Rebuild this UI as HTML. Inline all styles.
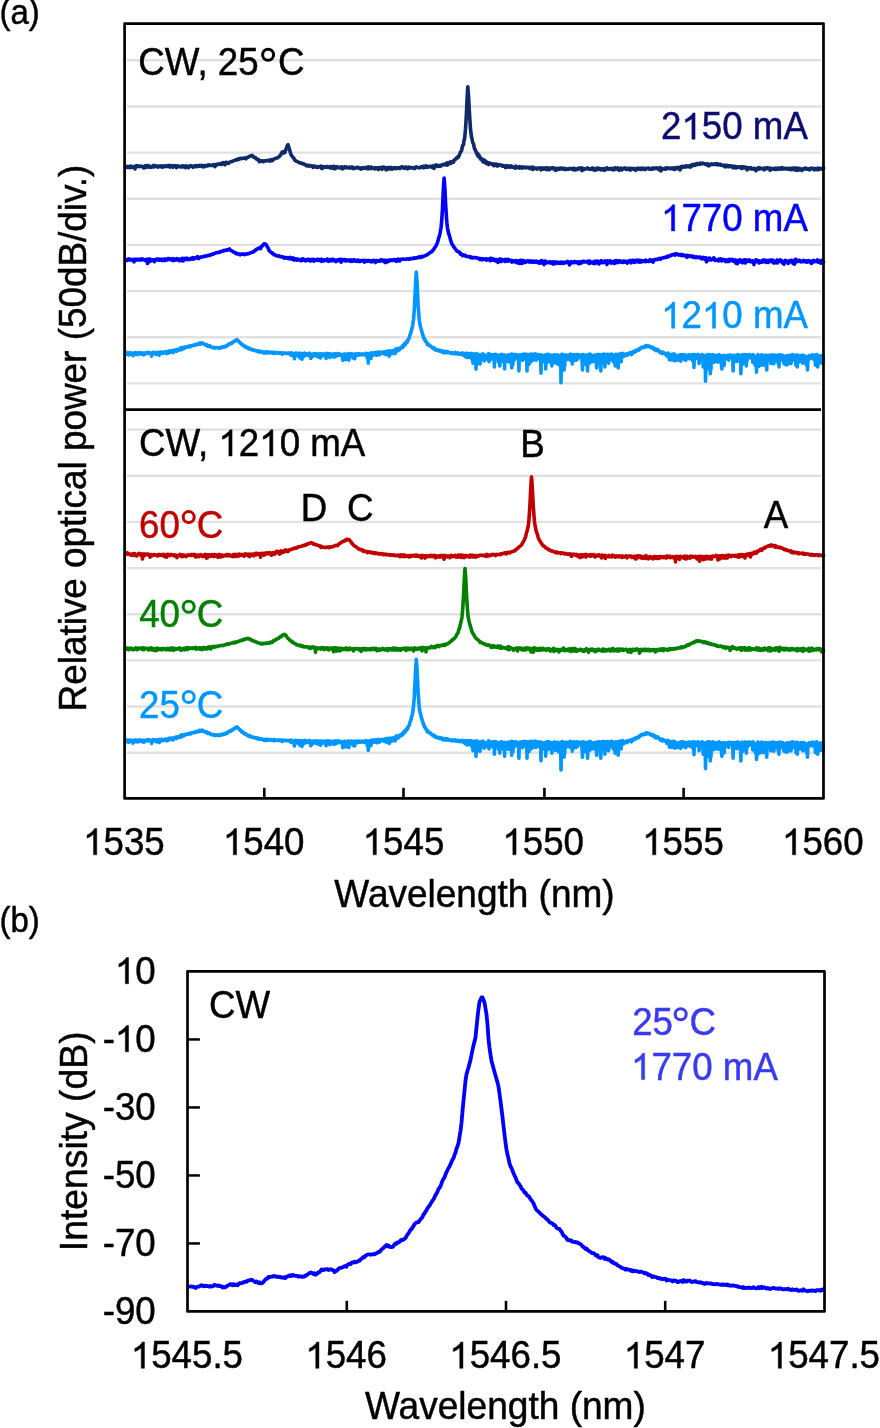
<!DOCTYPE html>
<html><head><meta charset="utf-8"><style>
html,body{margin:0;padding:0;background:#fff;width:880px;height:1428px;overflow:hidden}
svg{display:block;will-change:transform}
text{font-family:"Liberation Sans",sans-serif;stroke-width:0.45px}
</style></head><body>
<svg width="880" height="1428" viewBox="0 0 880 1428">
<rect width="880" height="1428" fill="#fff"/>
<line x1="127" y1="60.3" x2="821" y2="60.3" stroke="#e1e1e1" stroke-width="2.4"/>
<line x1="127" y1="106.5" x2="821" y2="106.5" stroke="#e1e1e1" stroke-width="2.4"/>
<line x1="127" y1="152.6" x2="821" y2="152.6" stroke="#e1e1e1" stroke-width="2.4"/>
<line x1="127" y1="198.8" x2="821" y2="198.8" stroke="#e1e1e1" stroke-width="2.4"/>
<line x1="127" y1="244.9" x2="821" y2="244.9" stroke="#e1e1e1" stroke-width="2.4"/>
<line x1="127" y1="291.1" x2="821" y2="291.1" stroke="#e1e1e1" stroke-width="2.4"/>
<line x1="127" y1="337.3" x2="821" y2="337.3" stroke="#e1e1e1" stroke-width="2.4"/>
<line x1="127" y1="383.4" x2="821" y2="383.4" stroke="#e1e1e1" stroke-width="2.4"/>
<line x1="127" y1="429.6" x2="821" y2="429.6" stroke="#e1e1e1" stroke-width="2.4"/>
<line x1="127" y1="475.7" x2="821" y2="475.7" stroke="#e1e1e1" stroke-width="2.4"/>
<line x1="127" y1="521.9" x2="821" y2="521.9" stroke="#e1e1e1" stroke-width="2.4"/>
<line x1="127" y1="568.1" x2="821" y2="568.1" stroke="#e1e1e1" stroke-width="2.4"/>
<line x1="127" y1="614.2" x2="821" y2="614.2" stroke="#e1e1e1" stroke-width="2.4"/>
<line x1="127" y1="660.4" x2="821" y2="660.4" stroke="#e1e1e1" stroke-width="2.4"/>
<line x1="127" y1="706.5" x2="821" y2="706.5" stroke="#e1e1e1" stroke-width="2.4"/>
<line x1="127" y1="752.7" x2="821" y2="752.7" stroke="#e1e1e1" stroke-width="2.4"/>
<path d="M125.5 166.6 L126.0 167.1 L126.5 167.5 L127.0 167.2 L127.5 166.5 L128.0 167.0 L128.5 167.4 L129.0 166.6 L129.5 167.4 L130.0 166.2 L130.5 167.6 L131.0 167.5 L131.5 166.8 L132.0 166.4 L132.5 167.3 L133.0 166.7 L133.5 167.0 L134.0 167.6 L134.5 166.8 L135.0 168.9 L135.5 166.1 L136.0 165.8 L136.5 166.6 L137.0 166.6 L137.5 165.7 L138.0 166.0 L138.5 166.3 L139.0 166.0 L139.5 166.6 L140.0 166.4 L140.5 166.5 L141.0 166.2 L141.5 166.1 L142.0 166.8 L142.5 166.9 L143.0 166.8 L143.5 166.7 L144.0 168.0 L144.5 166.2 L145.0 165.9 L145.5 166.5 L146.0 166.3 L146.5 167.2 L147.0 165.6 L147.5 166.2 L148.0 167.0 L148.5 165.7 L149.0 166.3 L149.5 166.3 L150.0 167.2 L150.5 166.8 L151.0 167.4 L151.5 167.2 L152.0 167.0 L152.5 166.3 L153.0 165.6 L153.5 166.8 L154.0 166.3 L154.5 165.5 L155.0 166.6 L155.5 166.2 L156.0 166.4 L156.5 166.0 L157.0 166.1 L157.5 166.1 L158.0 167.2 L158.5 166.7 L159.0 166.0 L159.5 166.2 L160.0 166.2 L160.5 166.6 L161.0 166.2 L161.5 165.9 L162.0 166.4 L162.5 167.2 L163.0 167.0 L163.5 165.8 L164.0 166.7 L164.5 166.5 L165.0 166.2 L165.5 166.0 L166.0 166.5 L166.5 165.6 L167.0 166.2 L167.5 166.4 L168.0 166.4 L168.5 166.1 L169.0 165.5 L169.5 166.2 L170.0 167.1 L170.5 166.8 L171.0 165.5 L171.5 166.4 L172.0 166.2 L172.5 166.5 L173.0 167.3 L173.5 165.8 L174.0 166.4 L174.5 166.3 L175.0 166.0 L175.5 165.7 L176.0 166.1 L176.5 167.6 L177.0 166.1 L177.5 165.9 L178.0 165.8 L178.5 166.3 L179.0 166.7 L179.5 166.5 L180.0 166.7 L180.5 167.0 L181.0 166.3 L181.5 166.9 L182.0 166.0 L182.5 166.1 L183.0 165.9 L183.5 166.9 L184.0 166.9 L184.5 166.3 L185.0 166.3 L185.5 167.6 L186.0 165.9 L186.5 166.3 L187.0 166.9 L187.5 166.2 L188.0 166.4 L188.5 167.7 L189.0 166.9 L189.5 166.3 L190.0 166.5 L190.5 165.6 L191.0 165.7 L191.5 166.2 L192.0 166.0 L192.5 166.7 L193.0 167.2 L193.5 166.4 L194.0 166.2 L194.5 166.7 L195.0 165.8 L195.5 166.3 L196.0 165.6 L196.5 165.9 L197.0 166.5 L197.5 165.7 L198.0 165.8 L198.5 166.2 L199.0 166.2 L199.5 165.4 L200.0 165.6 L200.5 165.8 L201.0 165.9 L201.5 166.4 L202.0 165.3 L202.5 166.7 L203.0 166.5 L203.5 165.8 L204.0 166.8 L204.5 166.6 L205.0 165.6 L205.5 165.5 L206.0 165.9 L206.5 165.5 L207.0 165.5 L207.5 166.0 L208.0 165.8 L208.5 164.8 L209.0 165.0 L209.5 165.3 L210.0 165.0 L210.5 165.4 L211.0 165.6 L211.5 165.2 L212.0 165.4 L212.5 165.1 L213.0 165.4 L213.5 164.7 L214.0 164.6 L214.5 165.7 L215.0 166.6 L215.5 165.4 L216.0 164.6 L216.5 164.6 L217.0 164.8 L217.5 164.1 L218.0 164.5 L218.5 164.1 L219.0 163.9 L219.5 164.2 L220.0 164.1 L220.5 163.9 L221.0 163.5 L221.5 164.5 L222.0 164.2 L222.5 163.1 L223.0 163.6 L223.5 162.7 L224.0 163.9 L224.5 163.0 L225.0 164.8 L225.5 163.6 L226.0 162.3 L226.5 163.2 L227.0 163.1 L227.5 162.6 L228.0 163.1 L228.5 163.4 L229.0 162.7 L229.5 162.3 L230.0 162.0 L230.5 161.8 L231.0 161.8 L231.5 161.7 L232.0 161.7 L232.5 161.0 L233.0 161.1 L233.5 160.7 L234.0 160.7 L234.5 160.3 L235.0 160.1 L235.5 160.2 L236.0 160.2 L236.5 159.6 L237.0 159.7 L237.5 159.8 L238.0 159.1 L238.5 159.6 L239.0 158.8 L239.5 158.8 L240.0 158.6 L240.5 158.3 L241.0 158.7 L241.5 158.6 L242.0 158.2 L242.5 158.3 L243.0 158.4 L243.5 158.2 L244.0 158.3 L244.5 157.9 L245.0 158.0 L245.5 158.1 L246.0 158.8 L246.5 158.0 L247.0 157.5 L247.5 157.4 L248.0 157.3 L248.5 156.9 L249.0 156.6 L249.5 156.5 L250.0 156.4 L250.5 155.8 L251.0 155.8 L251.5 155.7 L252.0 155.3 L252.5 155.9 L253.0 156.2 L253.5 157.1 L254.0 157.0 L254.5 157.3 L255.0 157.6 L255.5 157.6 L256.0 158.7 L256.5 159.1 L257.0 159.0 L257.5 159.6 L258.0 159.9 L258.5 159.5 L259.0 160.5 L259.5 161.7 L260.0 160.7 L260.5 160.8 L261.0 160.8 L261.5 161.2 L262.0 161.1 L262.5 161.4 L263.0 161.0 L263.5 161.6 L264.0 161.1 L264.5 160.8 L265.0 161.0 L265.5 161.0 L266.0 160.9 L266.5 160.5 L267.0 160.7 L267.5 160.4 L268.0 160.7 L268.5 160.4 L269.0 160.3 L269.5 160.4 L270.0 161.0 L270.5 159.9 L271.0 159.6 L271.5 159.9 L272.0 159.9 L272.5 160.6 L273.0 159.4 L273.5 159.2 L274.0 159.1 L274.5 158.8 L275.0 158.7 L275.5 158.5 L276.0 158.0 L276.5 158.0 L277.0 158.0 L277.5 157.8 L278.0 157.7 L278.5 157.1 L279.0 156.6 L279.5 156.5 L280.0 155.6 L280.5 155.2 L281.0 154.0 L281.5 153.6 L282.0 152.3 L282.5 151.8 L283.0 151.7 L283.5 152.2 L284.0 153.0 L284.5 152.7 L285.0 152.2 L285.5 150.5 L286.0 149.3 L286.5 148.0 L287.0 146.4 L287.5 145.1 L288.0 144.7 L288.5 146.1 L289.0 147.7 L289.5 149.6 L290.0 151.2 L290.5 153.0 L291.0 154.8 L291.5 155.3 L292.0 156.0 L292.5 156.9 L293.0 157.1 L293.5 157.9 L294.0 158.7 L294.5 159.3 L295.0 160.4 L295.5 160.6 L296.0 161.1 L296.5 161.3 L297.0 161.4 L297.5 161.7 L298.0 161.9 L298.5 162.2 L299.0 162.2 L299.5 162.8 L300.0 162.9 L300.5 163.0 L301.0 162.9 L301.5 163.4 L302.0 163.5 L302.5 163.6 L303.0 164.0 L303.5 163.7 L304.0 164.1 L304.5 164.4 L305.0 164.8 L305.5 164.8 L306.0 165.0 L306.5 165.8 L307.0 165.2 L307.5 165.3 L308.0 165.4 L308.5 166.0 L309.0 165.5 L309.5 165.9 L310.0 165.3 L310.5 166.0 L311.0 166.2 L311.5 166.0 L312.0 165.8 L312.5 166.2 L313.0 167.4 L313.5 166.2 L314.0 166.8 L314.5 166.7 L315.0 166.2 L315.5 167.0 L316.0 167.1 L316.5 167.3 L317.0 166.6 L317.5 167.2 L318.0 167.4 L318.5 167.0 L319.0 166.7 L319.5 166.6 L320.0 166.6 L320.5 167.0 L321.0 166.1 L321.5 168.3 L322.0 166.6 L322.5 168.4 L323.0 167.4 L323.5 166.9 L324.0 166.8 L324.5 166.8 L325.0 166.8 L325.5 167.3 L326.0 167.3 L326.5 166.6 L327.0 167.3 L327.5 166.6 L328.0 166.7 L328.5 167.1 L329.0 167.3 L329.5 167.6 L330.0 167.8 L330.5 166.6 L331.0 167.0 L331.5 166.9 L332.0 168.1 L332.5 166.5 L333.0 167.9 L333.5 167.4 L334.0 166.4 L334.5 168.9 L335.0 166.9 L335.5 166.9 L336.0 167.6 L336.5 168.0 L337.0 167.3 L337.5 166.7 L338.0 167.2 L338.5 167.6 L339.0 167.7 L339.5 168.0 L340.0 167.9 L340.5 167.6 L341.0 166.8 L341.5 167.4 L342.0 166.9 L342.5 169.0 L343.0 168.0 L343.5 167.8 L344.0 167.2 L344.5 167.8 L345.0 166.8 L345.5 167.5 L346.0 167.6 L346.5 167.0 L347.0 167.6 L347.5 167.6 L348.0 167.6 L348.5 167.7 L349.0 168.0 L349.5 167.1 L350.0 167.6 L350.5 167.6 L351.0 167.9 L351.5 167.7 L352.0 166.9 L352.5 167.5 L353.0 168.6 L353.5 167.7 L354.0 168.5 L354.5 168.4 L355.0 168.3 L355.5 167.8 L356.0 167.5 L356.5 167.9 L357.0 167.7 L357.5 167.2 L358.0 167.3 L358.5 167.8 L359.0 168.5 L359.5 168.4 L360.0 168.3 L360.5 167.9 L361.0 169.1 L361.5 168.3 L362.0 168.1 L362.5 168.5 L363.0 167.6 L363.5 167.9 L364.0 168.1 L364.5 168.3 L365.0 167.6 L365.5 167.8 L366.0 167.6 L366.5 167.4 L367.0 168.7 L367.5 168.1 L368.0 167.0 L368.5 168.8 L369.0 167.0 L369.5 167.7 L370.0 167.9 L370.5 167.5 L371.0 168.6 L371.5 167.2 L372.0 167.9 L372.5 167.8 L373.0 168.3 L373.5 168.7 L374.0 168.2 L374.5 168.8 L375.0 167.6 L375.5 168.4 L376.0 167.9 L376.5 168.6 L377.0 167.8 L377.5 168.2 L378.0 167.9 L378.5 169.6 L379.0 167.5 L379.5 168.5 L380.0 167.9 L380.5 167.9 L381.0 168.0 L381.5 167.9 L382.0 169.3 L382.5 167.2 L383.0 167.9 L383.5 167.2 L384.0 167.9 L384.5 167.3 L385.0 168.1 L385.5 168.3 L386.0 169.8 L386.5 167.9 L387.0 169.5 L387.5 169.5 L388.0 167.5 L388.5 167.9 L389.0 167.6 L389.5 167.8 L390.0 168.3 L390.5 169.0 L391.0 167.4 L391.5 168.5 L392.0 168.3 L392.5 169.0 L393.0 168.1 L393.5 168.6 L394.0 167.7 L394.5 167.7 L395.0 167.7 L395.5 167.8 L396.0 168.7 L396.5 167.9 L397.0 167.8 L397.5 168.2 L398.0 168.2 L398.5 168.4 L399.0 167.7 L399.5 168.2 L400.0 168.5 L400.5 168.0 L401.0 167.2 L401.5 167.8 L402.0 167.5 L402.5 166.7 L403.0 167.2 L403.5 167.5 L404.0 168.3 L404.5 167.5 L405.0 167.4 L405.5 167.1 L406.0 168.2 L406.5 167.2 L407.0 167.2 L407.5 168.8 L408.0 168.0 L408.5 167.9 L409.0 167.1 L409.5 168.1 L410.0 167.6 L410.5 167.5 L411.0 167.6 L411.5 167.6 L412.0 168.0 L412.5 168.0 L413.0 167.8 L413.5 167.8 L414.0 167.7 L414.5 168.6 L415.0 167.7 L415.5 167.1 L416.0 167.5 L416.5 166.9 L417.0 167.3 L417.5 167.3 L418.0 167.5 L418.5 167.5 L419.0 167.8 L419.5 168.0 L420.0 167.7 L420.5 167.1 L421.0 166.8 L421.5 167.3 L422.0 167.1 L422.5 166.5 L423.0 167.6 L423.5 167.4 L424.0 167.6 L424.5 166.1 L425.0 166.6 L425.5 167.2 L426.0 166.8 L426.5 165.9 L427.0 167.3 L427.5 167.1 L428.0 167.2 L428.5 167.0 L429.0 166.5 L429.5 166.8 L430.0 166.4 L430.5 166.4 L431.0 166.2 L431.5 166.5 L432.0 167.3 L432.5 166.1 L433.0 166.8 L433.5 166.0 L434.0 168.4 L434.5 166.1 L435.0 166.3 L435.5 165.2 L436.0 164.9 L436.5 166.0 L437.0 166.3 L437.5 165.7 L438.0 166.4 L438.5 165.6 L439.0 165.5 L439.5 165.8 L440.0 166.4 L440.5 165.2 L441.0 165.2 L441.5 165.7 L442.0 165.0 L442.5 164.8 L443.0 164.4 L443.5 164.5 L444.0 164.8 L444.5 164.6 L445.0 164.2 L445.5 164.8 L446.0 164.2 L446.5 163.5 L447.0 162.8 L447.5 165.1 L448.0 163.8 L448.5 163.5 L449.0 163.0 L449.5 162.5 L450.0 163.5 L450.5 161.8 L451.0 163.4 L451.5 162.4 L452.0 162.1 L452.5 161.7 L453.0 161.3 L453.5 162.1 L454.0 160.0 L454.5 159.9 L455.0 159.6 L455.5 159.6 L456.0 158.4 L456.5 158.4 L457.0 157.4 L457.5 156.8 L458.0 157.7 L458.5 156.5 L459.0 156.0 L459.5 154.5 L460.0 153.5 L460.5 151.9 L461.0 151.4 L461.5 150.7 L462.0 148.8 L462.5 145.9 L463.0 144.8 L463.5 144.8 L464.0 140.5 L464.5 139.2 L465.0 134.5 L465.5 128.9 L466.0 121.3 L466.5 111.7 L467.0 100.3 L467.5 90.8 L467.8 86.8 L468.5 95.7 L469.0 104.6 L469.5 113.9 L470.0 121.6 L470.5 129.3 L471.0 133.3 L471.5 137.1 L472.0 138.6 L472.5 141.5 L473.0 143.0 L473.5 143.7 L474.0 146.3 L474.5 148.7 L475.0 149.4 L475.5 150.4 L476.0 151.5 L476.5 153.3 L477.0 152.9 L477.5 155.3 L478.0 153.9 L478.5 156.7 L479.0 155.3 L479.5 156.4 L480.0 157.2 L480.5 158.9 L481.0 158.2 L481.5 159.8 L482.0 159.0 L482.5 159.4 L483.0 162.0 L483.5 159.8 L484.0 160.1 L484.5 160.4 L485.0 160.5 L485.5 161.4 L486.0 163.3 L486.5 162.0 L487.0 162.2 L487.5 163.7 L488.0 162.6 L488.5 164.6 L489.0 163.8 L489.5 163.0 L490.0 163.2 L490.5 163.6 L491.0 163.5 L491.5 164.1 L492.0 163.8 L492.5 164.0 L493.0 165.0 L493.5 163.9 L494.0 165.7 L494.5 165.5 L495.0 164.6 L495.5 164.4 L496.0 164.1 L496.5 164.4 L497.0 166.0 L497.5 164.7 L498.0 165.9 L498.5 165.4 L499.0 165.0 L499.5 164.7 L500.0 165.2 L500.5 165.2 L501.0 165.3 L501.5 165.0 L502.0 165.4 L502.5 166.2 L503.0 165.6 L503.5 165.5 L504.0 166.1 L504.5 166.4 L505.0 166.7 L505.5 167.6 L506.0 166.8 L506.5 165.6 L507.0 166.7 L507.5 166.6 L508.0 167.2 L508.5 166.5 L509.0 166.0 L509.5 166.4 L510.0 166.4 L510.5 167.3 L511.0 166.9 L511.5 166.0 L512.0 166.5 L512.5 167.2 L513.0 167.2 L513.5 167.0 L514.0 167.6 L514.5 167.2 L515.0 167.5 L515.5 168.2 L516.0 166.2 L516.5 167.3 L517.0 167.6 L517.5 167.2 L518.0 167.3 L518.5 167.2 L519.0 166.7 L519.5 168.1 L520.0 166.8 L520.5 167.7 L521.0 167.4 L521.5 167.1 L522.0 168.1 L522.5 167.5 L523.0 167.1 L523.5 167.1 L524.0 167.7 L524.5 167.1 L525.0 167.3 L525.5 167.6 L526.0 167.8 L526.5 167.1 L527.0 167.7 L527.5 167.7 L528.0 167.6 L528.5 167.7 L529.0 167.3 L529.5 168.4 L530.0 168.1 L530.5 167.6 L531.0 168.6 L531.5 168.6 L532.0 167.2 L532.5 168.2 L533.0 169.5 L533.5 168.5 L534.0 167.5 L534.5 168.3 L535.0 168.5 L535.5 168.5 L536.0 168.4 L536.5 168.2 L537.0 169.1 L537.5 168.7 L538.0 168.7 L538.5 168.5 L539.0 168.0 L539.5 168.6 L540.0 167.9 L540.5 168.6 L541.0 169.8 L541.5 168.8 L542.0 168.2 L542.5 167.9 L543.0 168.0 L543.5 168.0 L544.0 169.2 L544.5 168.6 L545.0 168.9 L545.5 167.8 L546.0 168.7 L546.5 168.5 L547.0 169.7 L547.5 167.8 L548.0 168.5 L548.5 168.5 L549.0 168.3 L549.5 169.7 L550.0 168.7 L550.5 168.1 L551.0 168.1 L551.5 167.9 L552.0 167.8 L552.5 168.7 L553.0 168.7 L553.5 168.0 L554.0 168.4 L554.5 168.1 L555.0 168.9 L555.5 170.4 L556.0 169.4 L556.5 168.9 L557.0 168.4 L557.5 169.6 L558.0 168.6 L558.5 168.6 L559.0 169.3 L559.5 168.4 L560.0 168.4 L560.5 168.9 L561.0 168.2 L561.5 168.9 L562.0 168.1 L562.5 168.9 L563.0 169.0 L563.5 168.3 L564.0 168.8 L564.5 169.5 L565.0 169.3 L565.5 169.7 L566.0 168.5 L566.5 169.0 L567.0 169.0 L567.5 169.2 L568.0 169.0 L568.5 169.2 L569.0 169.2 L569.5 168.5 L570.0 168.4 L570.5 168.6 L571.0 168.8 L571.5 168.7 L572.0 169.2 L572.5 169.5 L573.0 168.7 L573.5 168.1 L574.0 168.7 L574.5 169.1 L575.0 170.0 L575.5 168.7 L576.0 168.7 L576.5 169.2 L577.0 169.6 L577.5 169.0 L578.0 169.2 L578.5 168.2 L579.0 168.7 L579.5 168.2 L580.0 168.5 L580.5 168.9 L581.0 169.0 L581.5 167.8 L582.0 170.6 L582.5 169.1 L583.0 168.5 L583.5 169.0 L584.0 169.5 L584.5 168.9 L585.0 168.8 L585.5 168.7 L586.0 169.0 L586.5 168.6 L587.0 168.5 L587.5 168.0 L588.0 168.4 L588.5 168.6 L589.0 169.3 L589.5 169.3 L590.0 168.8 L590.5 168.8 L591.0 169.1 L591.5 168.4 L592.0 169.4 L592.5 168.2 L593.0 168.6 L593.5 168.4 L594.0 170.0 L594.5 170.3 L595.0 168.8 L595.5 169.3 L596.0 168.6 L596.5 169.7 L597.0 169.8 L597.5 168.1 L598.0 168.5 L598.5 168.9 L599.0 168.3 L599.5 168.3 L600.0 169.5 L600.5 169.8 L601.0 168.9 L601.5 169.6 L602.0 169.1 L602.5 169.8 L603.0 169.0 L603.5 169.3 L604.0 168.7 L604.5 170.3 L605.0 169.0 L605.5 168.4 L606.0 169.5 L606.5 168.2 L607.0 167.9 L607.5 169.0 L608.0 168.6 L608.5 169.2 L609.0 169.1 L609.5 169.2 L610.0 169.0 L610.5 168.3 L611.0 168.6 L611.5 168.9 L612.0 169.5 L612.5 169.5 L613.0 168.5 L613.5 169.9 L614.0 168.9 L614.5 168.6 L615.0 167.9 L615.5 169.3 L616.0 168.1 L616.5 168.4 L617.0 168.5 L617.5 169.1 L618.0 167.9 L618.5 169.7 L619.0 170.2 L619.5 169.0 L620.0 169.7 L620.5 168.4 L621.0 168.2 L621.5 168.8 L622.0 169.9 L622.5 169.2 L623.0 168.5 L623.5 168.7 L624.0 168.5 L624.5 167.9 L625.0 168.2 L625.5 168.2 L626.0 169.4 L626.5 168.3 L627.0 169.5 L627.5 168.6 L628.0 169.0 L628.5 169.3 L629.0 168.3 L629.5 169.2 L630.0 169.9 L630.5 168.3 L631.0 169.9 L631.5 168.9 L632.0 169.1 L632.5 168.4 L633.0 168.9 L633.5 168.7 L634.0 169.2 L634.5 168.5 L635.0 168.7 L635.5 170.3 L636.0 169.6 L636.5 169.2 L637.0 168.9 L637.5 168.2 L638.0 169.3 L638.5 168.8 L639.0 168.7 L639.5 168.3 L640.0 168.5 L640.5 169.4 L641.0 168.4 L641.5 168.1 L642.0 168.2 L642.5 168.3 L643.0 169.3 L643.5 168.3 L644.0 168.3 L644.5 169.2 L645.0 168.8 L645.5 169.5 L646.0 168.5 L646.5 168.8 L647.0 168.5 L647.5 168.4 L648.0 168.2 L648.5 168.0 L649.0 168.6 L649.5 169.3 L650.0 169.1 L650.5 169.3 L651.0 168.8 L651.5 168.8 L652.0 168.2 L652.5 169.2 L653.0 168.1 L653.5 168.0 L654.0 168.7 L654.5 168.7 L655.0 168.0 L655.5 168.0 L656.0 168.3 L656.5 167.9 L657.0 168.4 L657.5 168.6 L658.0 169.1 L658.5 168.1 L659.0 169.6 L659.5 168.6 L660.0 168.5 L660.5 167.6 L661.0 170.9 L661.5 168.6 L662.0 169.5 L662.5 168.8 L663.0 168.7 L663.5 168.8 L664.0 168.9 L664.5 168.4 L665.0 168.2 L665.5 169.2 L666.0 168.4 L666.5 167.9 L667.0 168.8 L667.5 167.9 L668.0 168.5 L668.5 168.5 L669.0 168.3 L669.5 168.3 L670.0 168.4 L670.5 167.9 L671.0 168.8 L671.5 168.3 L672.0 168.5 L672.5 168.3 L673.0 167.9 L673.5 169.3 L674.0 169.4 L674.5 168.3 L675.0 168.2 L675.5 169.0 L676.0 167.5 L676.5 167.9 L677.0 168.7 L677.5 168.5 L678.0 168.0 L678.5 167.3 L679.0 167.8 L679.5 168.3 L680.0 170.0 L680.5 167.4 L681.0 166.6 L681.5 168.0 L682.0 167.0 L682.5 167.0 L683.0 166.2 L683.5 166.9 L684.0 166.9 L684.5 166.9 L685.0 167.2 L685.5 166.9 L686.0 165.8 L686.5 165.8 L687.0 166.0 L687.5 166.4 L688.0 166.8 L688.5 166.3 L689.0 165.7 L689.5 165.7 L690.0 166.1 L690.5 167.1 L691.0 165.3 L691.5 165.2 L692.0 164.6 L692.5 165.9 L693.0 164.7 L693.5 164.3 L694.0 164.6 L694.5 164.9 L695.0 165.3 L695.5 164.2 L696.0 164.9 L696.5 164.6 L697.0 163.5 L697.5 164.2 L698.0 164.0 L698.5 164.0 L699.0 164.3 L699.5 163.8 L700.0 163.2 L700.5 164.0 L701.0 163.4 L701.5 163.5 L702.0 163.8 L702.5 163.2 L703.0 163.4 L703.5 163.4 L704.0 163.6 L704.5 163.8 L705.0 163.7 L705.5 164.4 L706.0 163.8 L706.5 164.7 L707.0 164.4 L707.5 165.0 L708.0 163.8 L708.5 164.3 L709.0 165.9 L709.5 164.8 L710.0 164.6 L710.5 164.7 L711.0 164.5 L711.5 163.8 L712.0 164.2 L712.5 164.5 L713.0 164.3 L713.5 164.7 L714.0 164.0 L714.5 163.9 L715.0 164.2 L715.5 164.2 L716.0 163.7 L716.5 164.6 L717.0 163.8 L717.5 163.9 L718.0 164.8 L718.5 164.1 L719.0 164.3 L719.5 164.2 L720.0 164.4 L720.5 165.1 L721.0 164.4 L721.5 164.8 L722.0 165.4 L722.5 165.3 L723.0 165.4 L723.5 165.7 L724.0 165.5 L724.5 166.6 L725.0 165.2 L725.5 166.8 L726.0 165.5 L726.5 165.3 L727.0 165.3 L727.5 166.5 L728.0 165.9 L728.5 166.7 L729.0 165.8 L729.5 165.9 L730.0 165.8 L730.5 166.7 L731.0 165.8 L731.5 166.2 L732.0 166.0 L732.5 166.3 L733.0 167.6 L733.5 167.0 L734.0 166.4 L734.5 167.8 L735.0 166.5 L735.5 167.1 L736.0 166.6 L736.5 167.9 L737.0 167.0 L737.5 167.2 L738.0 166.8 L738.5 167.2 L739.0 166.9 L739.5 167.3 L740.0 167.7 L740.5 167.9 L741.0 166.8 L741.5 168.0 L742.0 168.5 L742.5 166.7 L743.0 167.5 L743.5 168.0 L744.0 167.8 L744.5 167.0 L745.0 167.5 L745.5 167.7 L746.0 167.8 L746.5 167.5 L747.0 169.9 L747.5 167.8 L748.0 167.9 L748.5 167.8 L749.0 168.3 L749.5 168.4 L750.0 167.9 L750.5 168.6 L751.0 167.7 L751.5 169.0 L752.0 168.5 L752.5 168.9 L753.0 168.7 L753.5 168.5 L754.0 169.1 L754.5 168.4 L755.0 168.6 L755.5 168.8 L756.0 170.8 L756.5 169.3 L757.0 169.6 L757.5 168.4 L758.0 168.7 L758.5 167.6 L759.0 168.0 L759.5 169.0 L760.0 168.4 L760.5 168.0 L761.0 168.4 L761.5 168.7 L762.0 168.6 L762.5 168.5 L763.0 168.4 L763.5 168.8 L764.0 169.8 L764.5 168.6 L765.0 167.9 L765.5 168.6 L766.0 168.8 L766.5 168.0 L767.0 167.7 L767.5 168.5 L768.0 168.3 L768.5 168.3 L769.0 168.6 L769.5 168.1 L770.0 170.4 L770.5 168.4 L771.0 168.2 L771.5 168.5 L772.0 168.6 L772.5 169.2 L773.0 169.0 L773.5 168.6 L774.0 168.8 L774.5 169.4 L775.0 168.6 L775.5 168.1 L776.0 169.3 L776.5 168.4 L777.0 169.2 L777.5 169.4 L778.0 168.5 L778.5 168.8 L779.0 168.6 L779.5 168.0 L780.0 169.1 L780.5 169.1 L781.0 169.2 L781.5 168.8 L782.0 167.7 L782.5 168.8 L783.0 169.0 L783.5 168.4 L784.0 168.4 L784.5 168.3 L785.0 168.8 L785.5 168.3 L786.0 168.6 L786.5 169.0 L787.0 169.1 L787.5 168.3 L788.0 168.5 L788.5 168.6 L789.0 168.4 L789.5 169.5 L790.0 168.5 L790.5 168.6 L791.0 169.6 L791.5 169.7 L792.0 168.1 L792.5 168.0 L793.0 168.2 L793.5 168.6 L794.0 169.0 L794.5 169.9 L795.0 168.8 L795.5 168.0 L796.0 168.4 L796.5 170.2 L797.0 168.7 L797.5 168.1 L798.0 170.3 L798.5 169.1 L799.0 169.3 L799.5 168.4 L800.0 169.6 L800.5 169.3 L801.0 169.3 L801.5 169.3 L802.0 170.5 L802.5 169.1 L803.0 168.7 L803.5 168.8 L804.0 168.4 L804.5 168.5 L805.0 169.1 L805.5 168.1 L806.0 168.7 L806.5 168.6 L807.0 168.5 L807.5 169.3 L808.0 169.2 L808.5 168.8 L809.0 169.5 L809.5 169.9 L810.0 168.5 L810.5 168.6 L811.0 168.4 L811.5 168.2 L812.0 168.8 L812.5 168.9 L813.0 168.7 L813.5 168.9 L814.0 168.4 L814.5 169.8 L815.0 168.6 L815.5 168.8 L816.0 168.6 L816.5 169.3 L817.0 169.7 L817.5 169.3 L818.0 168.1 L818.5 169.7 L819.0 168.6 L819.5 168.3 L820.0 168.8 L820.5 168.7 L821.0 169.0 L821.5 168.5 L822.0 169.0 L822.5 168.6 L823.0 169.0 L823.5 168.1" fill="none" stroke="#0e2a68" stroke-width="3.6" stroke-linejoin="round" stroke-linecap="round"/>
<path d="M125.5 260.6 L126.0 259.8 L126.5 260.2 L127.0 260.1 L127.5 260.4 L128.0 259.2 L128.5 259.4 L129.0 258.9 L129.5 259.3 L130.0 259.8 L130.5 259.3 L131.0 260.2 L131.5 259.9 L132.0 259.5 L132.5 259.4 L133.0 260.0 L133.5 259.9 L134.0 261.8 L134.5 259.3 L135.0 260.5 L135.5 260.2 L136.0 259.3 L136.5 259.3 L137.0 259.4 L137.5 260.0 L138.0 259.8 L138.5 259.2 L139.0 259.3 L139.5 259.9 L140.0 259.1 L140.5 260.0 L141.0 259.5 L141.5 259.4 L142.0 258.9 L142.5 259.6 L143.0 259.2 L143.5 259.7 L144.0 259.7 L144.5 259.9 L145.0 260.4 L145.5 259.7 L146.0 259.3 L146.5 260.4 L147.0 259.7 L147.5 263.5 L148.0 260.0 L148.5 259.8 L149.0 259.0 L149.5 259.4 L150.0 261.4 L150.5 259.4 L151.0 260.9 L151.5 260.5 L152.0 259.7 L152.5 260.0 L153.0 259.9 L153.5 260.6 L154.0 260.0 L154.5 261.7 L155.0 260.8 L155.5 259.6 L156.0 259.3 L156.5 259.7 L157.0 259.0 L157.5 259.0 L158.0 259.4 L158.5 260.1 L159.0 259.8 L159.5 259.1 L160.0 260.1 L160.5 259.7 L161.0 259.4 L161.5 259.2 L162.0 259.8 L162.5 260.5 L163.0 260.1 L163.5 260.1 L164.0 259.4 L164.5 258.9 L165.0 260.6 L165.5 259.6 L166.0 259.4 L166.5 259.4 L167.0 259.9 L167.5 259.6 L168.0 258.5 L168.5 258.9 L169.0 259.4 L169.5 259.3 L170.0 258.6 L170.5 259.7 L171.0 259.2 L171.5 259.7 L172.0 259.6 L172.5 260.5 L173.0 258.7 L173.5 259.4 L174.0 260.4 L174.5 259.0 L175.0 260.1 L175.5 259.2 L176.0 259.2 L176.5 259.9 L177.0 258.7 L177.5 259.2 L178.0 259.8 L178.5 259.2 L179.0 260.7 L179.5 260.1 L180.0 259.1 L180.5 260.1 L181.0 260.5 L181.5 259.1 L182.0 260.4 L182.5 258.3 L183.0 261.0 L183.5 259.1 L184.0 260.0 L184.5 259.1 L185.0 258.5 L185.5 259.5 L186.0 259.3 L186.5 258.5 L187.0 258.2 L187.5 259.6 L188.0 259.5 L188.5 259.5 L189.0 259.5 L189.5 259.6 L190.0 259.0 L190.5 258.5 L191.0 258.1 L191.5 258.9 L192.0 259.1 L192.5 258.2 L193.0 257.6 L193.5 258.4 L194.0 258.9 L194.5 258.1 L195.0 257.8 L195.5 257.8 L196.0 258.1 L196.5 257.6 L197.0 257.7 L197.5 256.6 L198.0 258.2 L198.5 258.5 L199.0 257.6 L199.5 257.8 L200.0 257.6 L200.5 257.0 L201.0 257.2 L201.5 257.2 L202.0 256.8 L202.5 256.9 L203.0 256.7 L203.5 256.6 L204.0 256.2 L204.5 256.4 L205.0 256.5 L205.5 255.9 L206.0 256.2 L206.5 256.0 L207.0 255.8 L207.5 255.8 L208.0 255.4 L208.5 255.5 L209.0 255.2 L209.5 255.1 L210.0 255.4 L210.5 254.7 L211.0 254.7 L211.5 254.3 L212.0 254.4 L212.5 254.5 L213.0 253.8 L213.5 254.1 L214.0 253.7 L214.5 253.3 L215.0 253.2 L215.5 253.2 L216.0 252.8 L216.5 252.7 L217.0 252.7 L217.5 252.6 L218.0 252.2 L218.5 252.2 L219.0 252.5 L219.5 252.2 L220.0 252.0 L220.5 251.6 L221.0 251.4 L221.5 251.4 L222.0 251.4 L222.5 251.2 L223.0 250.9 L223.5 250.9 L224.0 250.3 L224.5 250.6 L225.0 250.4 L225.5 250.3 L226.0 250.0 L226.5 249.9 L227.0 250.4 L227.5 250.0 L228.0 249.7 L228.5 249.5 L229.0 249.5 L229.5 249.0 L230.0 250.0 L230.5 250.1 L231.0 250.7 L231.5 250.7 L232.0 250.7 L232.5 251.4 L233.0 251.6 L233.5 252.0 L234.0 252.1 L234.5 252.4 L235.0 252.6 L235.5 253.4 L236.0 253.0 L236.5 253.6 L237.0 253.9 L237.5 253.9 L238.0 253.7 L238.5 253.8 L239.0 254.0 L239.5 254.4 L240.0 254.8 L240.5 254.2 L241.0 254.4 L241.5 254.3 L242.0 254.1 L242.5 254.1 L243.0 253.9 L243.5 254.2 L244.0 254.5 L244.5 254.7 L245.0 254.5 L245.5 254.0 L246.0 254.1 L246.5 253.9 L247.0 253.7 L247.5 254.0 L248.0 253.7 L248.5 253.7 L249.0 253.6 L249.5 253.2 L250.0 253.0 L250.5 252.7 L251.0 252.7 L251.5 252.6 L252.0 252.4 L252.5 252.1 L253.0 252.1 L253.5 251.5 L254.0 251.5 L254.5 250.7 L255.0 250.5 L255.5 250.5 L256.0 249.6 L256.5 249.4 L257.0 249.0 L257.5 248.9 L258.0 248.4 L258.5 248.2 L259.0 248.1 L259.5 247.9 L260.0 247.5 L260.5 248.7 L261.0 247.5 L261.5 246.5 L262.0 246.3 L262.5 245.8 L263.0 244.9 L263.5 244.7 L264.0 243.7 L264.5 243.7 L265.0 244.0 L265.5 244.2 L266.0 244.6 L266.5 245.2 L267.0 246.4 L267.5 247.0 L268.0 247.7 L268.5 249.0 L269.0 250.1 L269.5 251.2 L270.0 251.4 L270.5 251.7 L271.0 252.2 L271.5 252.7 L272.0 253.3 L272.5 253.1 L273.0 253.6 L273.5 254.0 L274.0 254.8 L274.5 254.7 L275.0 254.9 L275.5 255.0 L276.0 255.6 L276.5 255.7 L277.0 255.9 L277.5 255.8 L278.0 256.0 L278.5 256.1 L279.0 255.9 L279.5 256.5 L280.0 256.7 L280.5 256.3 L281.0 256.7 L281.5 256.9 L282.0 256.8 L282.5 257.2 L283.0 256.9 L283.5 257.6 L284.0 257.4 L284.5 258.1 L285.0 257.5 L285.5 257.7 L286.0 258.0 L286.5 257.7 L287.0 257.6 L287.5 258.2 L288.0 258.5 L288.5 257.8 L289.0 258.7 L289.5 258.3 L290.0 257.4 L290.5 257.8 L291.0 258.8 L291.5 259.0 L292.0 258.5 L292.5 259.3 L293.0 257.9 L293.5 258.8 L294.0 258.5 L294.5 260.1 L295.0 259.6 L295.5 259.3 L296.0 258.8 L296.5 259.3 L297.0 260.1 L297.5 259.3 L298.0 259.1 L298.5 259.4 L299.0 259.5 L299.5 260.2 L300.0 260.4 L300.5 260.1 L301.0 259.6 L301.5 260.7 L302.0 260.0 L302.5 258.8 L303.0 258.8 L303.5 260.2 L304.0 259.4 L304.5 260.1 L305.0 259.9 L305.5 260.9 L306.0 260.2 L306.5 260.0 L307.0 259.5 L307.5 260.0 L308.0 259.5 L308.5 260.2 L309.0 259.8 L309.5 259.4 L310.0 260.9 L310.5 261.0 L311.0 260.6 L311.5 259.7 L312.0 259.3 L312.5 259.5 L313.0 259.8 L313.5 259.5 L314.0 261.2 L314.5 260.6 L315.0 260.2 L315.5 259.8 L316.0 260.1 L316.5 259.6 L317.0 259.4 L317.5 260.1 L318.0 260.4 L318.5 259.4 L319.0 259.5 L319.5 259.5 L320.0 260.4 L320.5 260.8 L321.0 259.9 L321.5 259.2 L322.0 261.3 L322.5 259.8 L323.0 260.4 L323.5 260.6 L324.0 260.8 L324.5 259.8 L325.0 260.2 L325.5 259.9 L326.0 260.0 L326.5 259.4 L327.0 259.2 L327.5 260.9 L328.0 259.7 L328.5 259.6 L329.0 261.3 L329.5 260.8 L330.0 259.7 L330.5 260.1 L331.0 260.2 L331.5 260.7 L332.0 259.4 L332.5 260.7 L333.0 259.8 L333.5 259.3 L334.0 260.1 L334.5 260.7 L335.0 260.4 L335.5 260.3 L336.0 261.6 L336.5 260.2 L337.0 260.3 L337.5 259.9 L338.0 259.9 L338.5 260.6 L339.0 260.1 L339.5 259.5 L340.0 260.2 L340.5 259.5 L341.0 262.2 L341.5 259.5 L342.0 260.4 L342.5 259.6 L343.0 260.1 L343.5 260.4 L344.0 259.5 L344.5 259.6 L345.0 260.8 L345.5 260.9 L346.0 261.0 L346.5 259.8 L347.0 260.3 L347.5 260.4 L348.0 260.2 L348.5 260.1 L349.0 260.1 L349.5 261.0 L350.0 261.2 L350.5 260.6 L351.0 260.0 L351.5 261.4 L352.0 260.6 L352.5 260.3 L353.0 261.2 L353.5 259.9 L354.0 261.0 L354.5 260.0 L355.0 260.5 L355.5 260.4 L356.0 260.7 L356.5 261.3 L357.0 260.7 L357.5 260.1 L358.0 260.4 L358.5 260.6 L359.0 261.4 L359.5 260.4 L360.0 261.4 L360.5 261.1 L361.0 260.8 L361.5 261.0 L362.0 260.6 L362.5 260.5 L363.0 260.4 L363.5 260.8 L364.0 260.6 L364.5 262.1 L365.0 261.7 L365.5 260.5 L366.0 260.8 L366.5 260.5 L367.0 261.1 L367.5 261.3 L368.0 260.6 L368.5 260.7 L369.0 260.9 L369.5 260.6 L370.0 260.7 L370.5 261.5 L371.0 261.4 L371.5 261.8 L372.0 260.9 L372.5 261.2 L373.0 260.6 L373.5 261.3 L374.0 260.4 L374.5 261.7 L375.0 261.6 L375.5 262.5 L376.0 261.7 L376.5 260.7 L377.0 261.0 L377.5 260.7 L378.0 261.0 L378.5 261.2 L379.0 260.6 L379.5 260.5 L380.0 260.4 L380.5 261.1 L381.0 259.8 L381.5 260.4 L382.0 260.5 L382.5 260.8 L383.0 260.1 L383.5 260.9 L384.0 260.5 L384.5 261.9 L385.0 260.3 L385.5 262.6 L386.0 261.4 L386.5 260.9 L387.0 260.3 L387.5 261.9 L388.0 261.1 L388.5 260.3 L389.0 260.0 L389.5 260.0 L390.0 260.8 L390.5 260.3 L391.0 260.4 L391.5 259.8 L392.0 260.3 L392.5 260.5 L393.0 260.3 L393.5 259.7 L394.0 259.9 L394.5 260.3 L395.0 259.7 L395.5 260.9 L396.0 259.8 L396.5 261.3 L397.0 259.8 L397.5 260.2 L398.0 259.1 L398.5 259.4 L399.0 259.7 L399.5 261.0 L400.0 259.7 L400.5 259.4 L401.0 259.2 L401.5 259.2 L402.0 259.5 L402.5 259.1 L403.0 259.3 L403.5 259.1 L404.0 259.3 L404.5 259.2 L405.0 259.3 L405.5 259.2 L406.0 259.1 L406.5 259.2 L407.0 259.0 L407.5 258.9 L408.0 259.1 L408.5 259.2 L409.0 259.2 L409.5 258.9 L410.0 258.5 L410.5 258.9 L411.0 258.5 L411.5 258.8 L412.0 258.7 L412.5 258.4 L413.0 258.2 L413.5 258.4 L414.0 257.9 L414.5 258.2 L415.0 258.1 L415.5 258.2 L416.0 257.7 L416.5 257.9 L417.0 257.7 L417.5 257.3 L418.0 257.7 L418.5 257.0 L419.0 257.3 L419.5 256.9 L420.0 257.5 L420.5 257.7 L421.0 257.3 L421.5 256.4 L422.0 256.6 L422.5 256.6 L423.0 256.8 L423.5 256.3 L424.0 256.1 L424.5 255.9 L425.0 255.9 L425.5 255.5 L426.0 255.5 L426.5 254.8 L427.0 254.6 L427.5 254.7 L428.0 254.1 L428.5 253.7 L429.0 253.5 L429.5 253.0 L430.0 252.8 L430.5 252.3 L431.0 252.0 L431.5 251.8 L432.0 251.6 L432.5 250.7 L433.0 249.9 L433.5 249.8 L434.0 248.9 L434.5 247.9 L435.0 247.3 L435.5 246.5 L436.0 245.8 L436.5 244.5 L437.0 243.6 L437.5 242.5 L438.0 240.8 L438.5 238.7 L439.0 237.1 L439.5 235.5 L440.0 233.2 L440.5 230.6 L441.0 228.0 L441.5 223.1 L442.0 216.4 L442.5 208.0 L443.0 197.4 L443.5 186.9 L444.1 178.0 L444.5 182.7 L445.0 191.2 L445.5 201.3 L446.0 210.4 L446.5 217.8 L447.0 223.9 L447.5 227.7 L448.0 230.8 L448.5 232.7 L449.0 234.6 L449.5 236.0 L450.0 237.8 L450.5 239.9 L451.0 241.3 L451.5 242.7 L452.0 244.3 L452.5 244.7 L453.0 245.4 L453.5 246.6 L454.0 247.0 L454.5 248.0 L455.0 248.5 L455.5 249.1 L456.0 249.8 L456.5 250.4 L457.0 251.2 L457.5 251.4 L458.0 251.4 L458.5 251.6 L459.0 252.4 L459.5 252.2 L460.0 252.9 L460.5 254.1 L461.0 253.7 L461.5 254.4 L462.0 254.7 L462.5 255.6 L463.0 254.8 L463.5 254.9 L464.0 255.2 L464.5 255.6 L465.0 255.4 L465.5 255.4 L466.0 256.2 L466.5 256.2 L467.0 256.5 L467.5 256.6 L468.0 256.6 L468.5 256.7 L469.0 256.8 L469.5 256.6 L470.0 256.6 L470.5 257.6 L471.0 257.0 L471.5 257.6 L472.0 257.6 L472.5 257.9 L473.0 257.6 L473.5 257.7 L474.0 257.6 L474.5 257.6 L475.0 257.6 L475.5 257.6 L476.0 257.7 L476.5 258.0 L477.0 258.0 L477.5 257.9 L478.0 258.3 L478.5 258.5 L479.0 258.6 L479.5 258.4 L480.0 259.6 L480.5 258.7 L481.0 258.8 L481.5 258.7 L482.0 258.9 L482.5 259.8 L483.0 258.9 L483.5 259.0 L484.0 258.8 L484.5 259.2 L485.0 259.2 L485.5 258.9 L486.0 259.3 L486.5 260.1 L487.0 258.9 L487.5 259.1 L488.0 259.3 L488.5 259.0 L489.0 259.5 L489.5 259.4 L490.0 260.7 L490.5 258.4 L491.0 258.9 L491.5 258.4 L492.0 260.2 L492.5 259.6 L493.0 259.6 L493.5 260.2 L494.0 259.1 L494.5 260.2 L495.0 260.0 L495.5 260.9 L496.0 261.1 L496.5 259.6 L497.0 259.7 L497.5 261.1 L498.0 262.4 L498.5 259.7 L499.0 260.8 L499.5 259.0 L500.0 259.0 L500.5 261.4 L501.0 260.8 L501.5 261.4 L502.0 259.4 L502.5 259.9 L503.0 259.8 L503.5 260.0 L504.0 260.4 L504.5 260.1 L505.0 261.5 L505.5 259.4 L506.0 259.5 L506.5 259.5 L507.0 260.3 L507.5 261.2 L508.0 260.8 L508.5 259.4 L509.0 260.8 L509.5 260.3 L510.0 260.7 L510.5 260.7 L511.0 260.4 L511.5 261.4 L512.0 262.1 L512.5 260.6 L513.0 261.4 L513.5 261.0 L514.0 261.6 L514.5 261.0 L515.0 260.9 L515.5 261.8 L516.0 260.6 L516.5 262.3 L517.0 262.8 L517.5 261.3 L518.0 260.8 L518.5 262.8 L519.0 261.6 L519.5 263.5 L520.0 262.7 L520.5 260.2 L521.0 261.9 L521.5 261.1 L522.0 263.5 L522.5 260.2 L523.0 260.9 L523.5 262.4 L524.0 260.9 L524.5 261.9 L525.0 262.4 L525.5 261.4 L526.0 262.0 L526.5 261.8 L527.0 261.3 L527.5 260.8 L528.0 260.9 L528.5 261.2 L529.0 261.9 L529.5 261.0 L530.0 261.8 L530.5 261.3 L531.0 262.0 L531.5 261.1 L532.0 261.1 L532.5 262.1 L533.0 261.8 L533.5 262.3 L534.0 261.1 L534.5 261.8 L535.0 261.7 L535.5 262.0 L536.0 262.3 L536.5 261.1 L537.0 261.8 L537.5 261.8 L538.0 262.3 L538.5 262.8 L539.0 263.1 L539.5 261.6 L540.0 262.4 L540.5 262.1 L541.0 263.0 L541.5 260.6 L542.0 261.3 L542.5 261.9 L543.0 262.2 L543.5 263.5 L544.0 264.6 L544.5 261.0 L545.0 262.3 L545.5 262.5 L546.0 261.3 L546.5 263.0 L547.0 262.7 L547.5 262.2 L548.0 262.4 L548.5 262.3 L549.0 262.7 L549.5 261.8 L550.0 262.8 L550.5 262.2 L551.0 263.0 L551.5 262.0 L552.0 262.2 L552.5 262.4 L553.0 264.1 L553.5 262.1 L554.0 262.0 L554.5 261.8 L555.0 263.7 L555.5 262.5 L556.0 262.1 L556.5 262.8 L557.0 262.4 L557.5 263.0 L558.0 262.3 L558.5 262.9 L559.0 262.3 L559.5 263.4 L560.0 263.4 L560.5 263.1 L561.0 262.1 L561.5 262.4 L562.0 263.0 L562.5 262.3 L563.0 263.1 L563.5 262.4 L564.0 263.3 L564.5 262.6 L565.0 262.4 L565.5 262.8 L566.0 262.6 L566.5 261.8 L567.0 262.3 L567.5 261.4 L568.0 262.2 L568.5 262.0 L569.0 262.7 L569.5 264.9 L570.0 262.7 L570.5 262.6 L571.0 261.7 L571.5 263.0 L572.0 262.8 L572.5 262.4 L573.0 261.9 L573.5 261.9 L574.0 261.6 L574.5 262.6 L575.0 261.6 L575.5 261.9 L576.0 262.1 L576.5 262.1 L577.0 261.8 L577.5 262.0 L578.0 263.3 L578.5 262.1 L579.0 261.8 L579.5 263.8 L580.0 262.8 L580.5 263.1 L581.0 261.9 L581.5 263.0 L582.0 262.0 L582.5 261.5 L583.0 261.9 L583.5 261.4 L584.0 261.3 L584.5 261.6 L585.0 262.0 L585.5 261.7 L586.0 261.9 L586.5 262.0 L587.0 261.5 L587.5 261.2 L588.0 262.2 L588.5 261.7 L589.0 263.6 L589.5 261.0 L590.0 262.2 L590.5 262.9 L591.0 261.8 L591.5 262.2 L592.0 262.6 L592.5 263.0 L593.0 262.3 L593.5 262.3 L594.0 261.4 L594.5 263.7 L595.0 262.8 L595.5 261.6 L596.0 261.2 L596.5 263.0 L597.0 261.7 L597.5 261.1 L598.0 262.2 L598.5 262.2 L599.0 264.0 L599.5 261.6 L600.0 261.9 L600.5 261.7 L601.0 262.6 L601.5 260.7 L602.0 261.7 L602.5 261.6 L603.0 262.6 L603.5 261.8 L604.0 262.4 L604.5 261.6 L605.0 260.8 L605.5 261.8 L606.0 262.2 L606.5 262.2 L607.0 264.5 L607.5 260.9 L608.0 261.5 L608.5 261.8 L609.0 262.0 L609.5 261.2 L610.0 262.4 L610.5 260.9 L611.0 263.2 L611.5 262.3 L612.0 261.7 L612.5 261.8 L613.0 262.8 L613.5 261.6 L614.0 261.3 L614.5 263.5 L615.0 260.8 L615.5 262.4 L616.0 262.1 L616.5 260.6 L617.0 262.7 L617.5 261.2 L618.0 262.0 L618.5 262.3 L619.0 261.1 L619.5 260.7 L620.0 261.7 L620.5 261.4 L621.0 261.4 L621.5 262.2 L622.0 262.0 L622.5 262.1 L623.0 262.3 L623.5 261.0 L624.0 261.4 L624.5 261.7 L625.0 261.4 L625.5 262.1 L626.0 261.3 L626.5 261.6 L627.0 261.5 L627.5 263.1 L628.0 261.3 L628.5 261.5 L629.0 261.6 L629.5 260.9 L630.0 260.5 L630.5 262.1 L631.0 262.8 L631.5 261.3 L632.0 260.6 L632.5 261.9 L633.0 260.3 L633.5 261.1 L634.0 262.4 L634.5 262.4 L635.0 261.0 L635.5 262.0 L636.0 261.4 L636.5 260.1 L637.0 261.2 L637.5 261.2 L638.0 261.8 L638.5 261.0 L639.0 260.2 L639.5 261.7 L640.0 262.2 L640.5 260.5 L641.0 261.7 L641.5 261.7 L642.0 260.6 L642.5 261.7 L643.0 261.0 L643.5 261.0 L644.0 260.7 L644.5 260.6 L645.0 260.4 L645.5 261.7 L646.0 260.3 L646.5 260.8 L647.0 261.3 L647.5 261.1 L648.0 261.1 L648.5 261.5 L649.0 261.1 L649.5 260.3 L650.0 259.7 L650.5 260.8 L651.0 261.2 L651.5 260.9 L652.0 260.7 L652.5 260.1 L653.0 262.2 L653.5 260.6 L654.0 259.8 L654.5 260.1 L655.0 259.7 L655.5 259.3 L656.0 259.5 L656.5 259.3 L657.0 259.7 L657.5 259.2 L658.0 259.2 L658.5 258.7 L659.0 258.5 L659.5 258.6 L660.0 258.8 L660.5 259.3 L661.0 258.2 L661.5 258.3 L662.0 258.2 L662.5 257.8 L663.0 257.9 L663.5 257.6 L664.0 257.8 L664.5 257.7 L665.0 257.2 L665.5 257.4 L666.0 256.8 L666.5 257.2 L667.0 256.7 L667.5 257.0 L668.0 256.1 L668.5 256.0 L669.0 256.0 L669.5 256.2 L670.0 255.8 L670.5 255.7 L671.0 255.0 L671.5 255.3 L672.0 254.8 L672.5 254.8 L673.0 254.7 L673.5 254.2 L674.0 254.4 L674.5 254.2 L675.0 255.2 L675.5 254.3 L676.0 254.1 L676.5 253.6 L677.0 254.0 L677.5 254.1 L678.0 254.5 L678.5 255.0 L679.0 254.8 L679.5 254.6 L680.0 254.7 L680.5 255.2 L681.0 254.5 L681.5 254.9 L682.0 255.6 L682.5 255.0 L683.0 255.3 L683.5 254.8 L684.0 255.3 L684.5 255.2 L685.0 255.9 L685.5 255.7 L686.0 255.8 L686.5 255.4 L687.0 257.3 L687.5 255.4 L688.0 255.7 L688.5 255.6 L689.0 256.3 L689.5 256.1 L690.0 256.2 L690.5 256.3 L691.0 255.9 L691.5 256.6 L692.0 257.0 L692.5 256.6 L693.0 256.1 L693.5 256.5 L694.0 256.9 L694.5 257.5 L695.0 257.3 L695.5 257.2 L696.0 256.9 L696.5 257.6 L697.0 257.1 L697.5 257.2 L698.0 257.2 L698.5 257.1 L699.0 257.5 L699.5 257.9 L700.0 257.1 L700.5 257.8 L701.0 257.5 L701.5 257.6 L702.0 258.8 L702.5 258.4 L703.0 258.2 L703.5 257.3 L704.0 258.5 L704.5 259.0 L705.0 258.0 L705.5 257.9 L706.0 257.8 L706.5 261.7 L707.0 259.9 L707.5 260.2 L708.0 258.5 L708.5 258.4 L709.0 259.9 L709.5 258.0 L710.0 259.2 L710.5 259.6 L711.0 259.4 L711.5 259.9 L712.0 259.5 L712.5 259.2 L713.0 258.5 L713.5 259.2 L714.0 257.9 L714.5 259.0 L715.0 260.3 L715.5 259.8 L716.0 260.2 L716.5 260.2 L717.0 260.0 L717.5 259.8 L718.0 260.0 L718.5 260.9 L719.0 259.2 L719.5 260.1 L720.0 260.2 L720.5 258.8 L721.0 260.5 L721.5 259.6 L722.0 260.9 L722.5 260.0 L723.0 259.4 L723.5 259.9 L724.0 259.6 L724.5 260.1 L725.0 259.8 L725.5 261.6 L726.0 261.5 L726.5 260.5 L727.0 259.9 L727.5 261.3 L728.0 260.9 L728.5 260.5 L729.0 261.4 L729.5 259.3 L730.0 260.9 L730.5 260.7 L731.0 259.8 L731.5 259.7 L732.0 259.4 L732.5 260.3 L733.0 260.9 L733.5 260.0 L734.0 261.5 L734.5 260.0 L735.0 259.8 L735.5 260.4 L736.0 263.3 L736.5 260.6 L737.0 260.3 L737.5 263.7 L738.0 261.4 L738.5 261.2 L739.0 260.8 L739.5 260.0 L740.0 262.0 L740.5 260.1 L741.0 260.6 L741.5 260.7 L742.0 260.8 L742.5 262.8 L743.0 260.4 L743.5 260.2 L744.0 261.9 L744.5 261.0 L745.0 259.8 L745.5 263.0 L746.0 260.1 L746.5 261.7 L747.0 261.5 L747.5 260.2 L748.0 261.1 L748.5 261.3 L749.0 260.8 L749.5 260.0 L750.0 261.4 L750.5 260.9 L751.0 261.8 L751.5 261.5 L752.0 261.1 L752.5 260.7 L753.0 262.3 L753.5 261.3 L754.0 264.6 L754.5 261.1 L755.0 261.1 L755.5 262.2 L756.0 259.9 L756.5 261.2 L757.0 260.2 L757.5 261.0 L758.0 261.3 L758.5 261.2 L759.0 263.0 L759.5 260.9 L760.0 261.8 L760.5 262.2 L761.0 262.3 L761.5 262.1 L762.0 260.9 L762.5 262.0 L763.0 260.8 L763.5 259.9 L764.0 260.1 L764.5 261.6 L765.0 261.3 L765.5 260.2 L766.0 260.2 L766.5 262.5 L767.0 261.1 L767.5 261.1 L768.0 261.8 L768.5 262.4 L769.0 260.3 L769.5 261.2 L770.0 260.6 L770.5 260.9 L771.0 260.6 L771.5 259.9 L772.0 261.8 L772.5 260.8 L773.0 261.0 L773.5 260.5 L774.0 263.1 L774.5 261.5 L775.0 261.5 L775.5 262.6 L776.0 262.1 L776.5 261.6 L777.0 260.2 L777.5 263.0 L778.0 260.2 L778.5 260.6 L779.0 261.3 L779.5 260.8 L780.0 260.0 L780.5 260.8 L781.0 260.1 L781.5 261.3 L782.0 262.5 L782.5 263.0 L783.0 262.2 L783.5 262.9 L784.0 264.2 L784.5 260.9 L785.0 260.4 L785.5 261.4 L786.0 260.6 L786.5 261.2 L787.0 261.2 L787.5 261.4 L788.0 263.4 L788.5 263.1 L789.0 261.4 L789.5 260.7 L790.0 261.1 L790.5 261.7 L791.0 260.6 L791.5 261.8 L792.0 260.4 L792.5 261.3 L793.0 263.4 L793.5 261.7 L794.0 261.1 L794.5 264.1 L795.0 261.2 L795.5 259.3 L796.0 260.4 L796.5 261.8 L797.0 260.5 L797.5 261.4 L798.0 260.3 L798.5 261.1 L799.0 260.6 L799.5 261.3 L800.0 260.5 L800.5 261.0 L801.0 261.8 L801.5 261.5 L802.0 261.4 L802.5 261.7 L803.0 261.4 L803.5 260.4 L804.0 260.9 L804.5 261.5 L805.0 261.8 L805.5 260.9 L806.0 261.1 L806.5 261.3 L807.0 262.1 L807.5 260.9 L808.0 261.5 L808.5 260.6 L809.0 261.4 L809.5 261.6 L810.0 261.2 L810.5 262.6 L811.0 262.4 L811.5 263.4 L812.0 261.9 L812.5 260.9 L813.0 260.5 L813.5 260.4 L814.0 261.8 L814.5 261.2 L815.0 261.3 L815.5 261.0 L816.0 261.3 L816.5 261.5 L817.0 261.4 L817.5 259.9 L818.0 262.2 L818.5 261.3 L819.0 260.7 L819.5 261.2 L820.0 261.9 L820.5 263.0 L821.0 263.2 L821.5 261.5 L822.0 260.3 L822.5 261.2 L823.0 261.4 L823.5 262.3" fill="none" stroke="#0000ff" stroke-width="3.6" stroke-linejoin="round" stroke-linecap="round"/>
<path d="M125.5 353.5 L125.8 352.1 L126.2 353.4 L126.5 354.3 L126.9 354.1 L127.2 353.2 L127.5 354.0 L127.9 353.2 L128.2 353.0 L128.6 355.0 L128.9 353.6 L129.2 352.9 L129.6 353.0 L129.9 354.2 L130.3 353.2 L130.6 352.8 L130.9 353.2 L131.3 353.0 L131.6 353.6 L132.0 353.3 L132.3 354.6 L132.6 353.5 L133.0 355.8 L133.3 353.4 L133.7 353.1 L134.0 355.0 L134.3 353.2 L134.7 353.8 L135.0 352.6 L135.4 353.2 L135.7 353.3 L136.0 353.5 L136.4 352.9 L136.7 354.2 L137.1 353.1 L137.4 353.4 L137.7 354.7 L138.1 353.7 L138.4 353.2 L138.8 353.2 L139.1 352.6 L139.4 352.8 L139.8 353.6 L140.1 353.2 L140.5 354.1 L140.8 353.7 L141.1 353.4 L141.5 352.8 L141.8 353.2 L142.2 353.7 L142.5 354.4 L142.8 353.9 L143.2 353.1 L143.5 353.8 L143.9 354.9 L144.2 353.7 L144.5 353.6 L144.9 353.4 L145.2 352.9 L145.6 352.9 L145.9 352.9 L146.2 353.5 L146.6 353.3 L146.9 352.8 L147.3 353.2 L147.6 353.3 L147.9 353.5 L148.3 352.3 L148.6 353.2 L149.0 352.7 L149.3 353.2 L149.6 352.9 L150.0 353.4 L150.3 353.2 L150.7 353.1 L151.0 353.9 L151.3 353.6 L151.7 356.1 L152.0 353.0 L152.4 353.0 L152.7 353.2 L153.0 352.4 L153.4 352.5 L153.7 353.5 L154.1 353.1 L154.4 352.5 L154.7 352.4 L155.1 352.8 L155.4 352.8 L155.8 352.8 L156.1 354.4 L156.4 353.3 L156.8 353.0 L157.1 352.5 L157.5 353.2 L157.8 354.4 L158.1 352.6 L158.5 352.6 L158.8 353.4 L159.2 355.2 L159.5 353.8 L159.8 353.7 L160.2 352.1 L160.5 352.2 L160.9 352.2 L161.2 352.4 L161.5 353.3 L161.9 352.0 L162.2 352.4 L162.6 352.2 L162.9 352.4 L163.2 353.3 L163.6 352.9 L163.9 352.6 L164.3 352.8 L164.6 352.4 L164.9 351.9 L165.3 352.0 L165.6 352.7 L166.0 352.7 L166.3 351.7 L166.6 352.3 L167.0 353.6 L167.3 352.1 L167.7 353.2 L168.0 352.0 L168.3 351.7 L168.7 351.2 L169.0 352.1 L169.4 351.1 L169.7 350.9 L170.0 352.5 L170.4 351.3 L170.7 351.6 L171.1 351.0 L171.4 351.8 L171.7 351.4 L172.1 350.7 L172.4 350.8 L172.8 351.0 L173.1 352.6 L173.4 351.3 L173.8 350.5 L174.1 351.0 L174.5 350.3 L174.8 350.8 L175.1 350.7 L175.5 350.1 L175.8 350.2 L176.2 349.9 L176.5 351.3 L176.8 351.1 L177.2 350.2 L177.5 349.8 L177.9 349.3 L178.2 349.4 L178.5 350.1 L178.9 349.5 L179.2 349.6 L179.6 350.0 L179.9 350.0 L180.2 349.3 L180.6 348.1 L180.9 348.6 L181.3 349.7 L181.6 348.7 L181.9 347.6 L182.3 349.2 L182.6 347.7 L183.0 348.4 L183.3 348.3 L183.6 348.0 L184.0 348.1 L184.3 348.3 L184.7 347.2 L185.0 347.4 L185.3 347.3 L185.7 347.1 L186.0 347.0 L186.4 347.0 L186.7 346.8 L187.0 346.9 L187.4 346.5 L187.7 347.1 L188.1 346.8 L188.4 346.5 L188.7 346.6 L189.1 346.2 L189.4 346.5 L189.8 346.5 L190.1 345.8 L190.4 346.7 L190.8 346.1 L191.1 345.7 L191.5 345.7 L191.8 345.5 L192.1 345.5 L192.5 345.5 L192.8 345.4 L193.2 345.5 L193.5 345.3 L193.8 345.4 L194.2 344.9 L194.5 345.0 L194.9 345.3 L195.2 344.8 L195.5 344.3 L195.9 344.6 L196.2 344.6 L196.6 344.5 L196.9 344.4 L197.2 344.6 L197.6 344.0 L197.9 343.8 L198.3 344.4 L198.6 344.2 L198.9 343.5 L199.3 343.8 L199.6 343.2 L200.0 343.4 L200.3 344.1 L200.6 343.5 L201.0 343.4 L201.3 343.7 L201.7 342.9 L202.0 343.2 L202.3 343.7 L202.7 343.2 L203.0 343.9 L203.4 343.9 L203.7 344.1 L204.0 344.1 L204.4 344.2 L204.7 344.3 L205.1 344.7 L205.4 344.2 L205.7 344.8 L206.1 345.1 L206.4 345.4 L206.8 345.3 L207.1 344.8 L207.4 346.1 L207.8 345.6 L208.1 345.9 L208.5 346.0 L208.8 346.2 L209.1 346.1 L209.5 345.8 L209.8 346.5 L210.2 346.0 L210.5 346.7 L210.8 347.0 L211.2 347.1 L211.5 347.3 L211.9 347.3 L212.2 347.5 L212.5 347.5 L212.9 347.5 L213.2 347.8 L213.6 347.9 L213.9 347.4 L214.2 347.5 L214.6 347.6 L214.9 347.5 L215.3 348.1 L215.6 347.8 L215.9 347.7 L216.3 347.7 L216.6 347.6 L217.0 347.8 L217.3 347.8 L217.6 347.7 L218.0 347.8 L218.3 347.8 L218.7 347.6 L219.0 348.3 L219.3 347.9 L219.7 347.8 L220.0 347.9 L220.4 347.6 L220.7 347.8 L221.0 347.6 L221.4 347.1 L221.7 347.0 L222.1 346.8 L222.4 347.5 L222.7 347.2 L223.1 347.2 L223.4 346.8 L223.8 347.0 L224.1 346.5 L224.4 346.6 L224.8 346.5 L225.1 346.6 L225.5 346.1 L225.8 346.7 L226.1 345.9 L226.5 346.1 L226.8 345.6 L227.2 345.8 L227.5 345.1 L227.8 345.2 L228.2 344.7 L228.5 344.3 L228.9 344.5 L229.2 343.9 L229.5 344.0 L229.9 344.0 L230.2 344.0 L230.6 343.5 L230.9 343.7 L231.2 343.0 L231.6 342.9 L231.9 342.9 L232.3 342.3 L232.6 342.9 L232.9 342.1 L233.3 341.7 L233.6 341.8 L234.0 341.3 L234.3 341.0 L234.6 341.4 L235.0 341.0 L235.3 340.5 L235.7 340.4 L236.0 340.4 L236.3 340.0 L236.7 339.7 L237.0 340.1 L237.4 339.8 L237.7 340.3 L238.0 340.8 L238.4 341.0 L238.7 341.4 L239.1 341.8 L239.4 342.0 L239.7 342.6 L240.1 342.6 L240.4 342.9 L240.8 343.3 L241.1 343.9 L241.4 344.0 L241.8 344.6 L242.1 344.5 L242.5 344.5 L242.8 345.1 L243.1 345.4 L243.5 345.3 L243.8 346.0 L244.2 346.1 L244.5 346.1 L244.8 346.8 L245.2 346.9 L245.5 346.8 L245.9 346.6 L246.2 347.1 L246.5 347.3 L246.9 347.8 L247.2 348.2 L247.6 347.9 L247.9 347.9 L248.2 348.3 L248.6 348.1 L248.9 349.0 L249.3 348.8 L249.6 348.8 L249.9 348.6 L250.3 349.1 L250.6 349.3 L251.0 349.1 L251.3 349.2 L251.6 349.9 L252.0 349.9 L252.3 349.7 L252.7 350.0 L253.0 350.0 L253.3 350.0 L253.7 350.1 L254.0 350.3 L254.4 350.1 L254.7 350.4 L255.0 350.6 L255.4 350.6 L255.7 350.7 L256.1 350.5 L256.4 350.8 L256.7 351.2 L257.1 350.9 L257.4 351.5 L257.8 351.0 L258.1 350.8 L258.4 351.2 L258.8 351.3 L259.1 351.6 L259.5 352.1 L259.8 351.7 L260.1 351.7 L260.5 351.4 L260.8 351.4 L261.2 351.6 L261.5 351.9 L261.8 351.6 L262.2 352.1 L262.5 351.9 L262.9 352.3 L263.2 352.3 L263.5 352.8 L263.9 352.4 L264.2 353.1 L264.6 352.2 L264.9 352.4 L265.2 352.6 L265.6 352.1 L265.9 353.0 L266.3 352.5 L266.6 352.0 L266.9 353.0 L267.3 352.2 L267.6 352.9 L268.0 352.2 L268.3 352.3 L268.6 352.7 L269.0 352.5 L269.3 352.2 L269.7 352.5 L270.0 352.8 L270.3 352.6 L270.7 352.2 L271.0 352.4 L271.4 352.6 L271.7 352.8 L272.0 353.1 L272.4 352.6 L272.7 352.7 L273.1 353.0 L273.4 352.5 L273.7 352.9 L274.1 352.3 L274.4 353.4 L274.8 352.9 L275.1 352.4 L275.4 353.2 L275.8 353.0 L276.1 353.0 L276.5 352.9 L276.8 353.0 L277.1 352.7 L277.5 352.9 L277.8 353.0 L278.2 352.9 L278.5 352.7 L278.8 353.3 L279.2 353.1 L279.5 352.8 L279.9 353.2 L280.2 353.1 L280.5 352.9 L280.9 353.3 L281.2 353.0 L281.6 352.9 L281.9 353.2 L282.2 354.2 L282.6 352.9 L282.9 352.8 L283.3 353.3 L283.6 353.0 L283.9 353.2 L284.3 353.1 L284.6 353.1 L285.0 353.3 L285.3 353.0 L285.6 353.0 L286.0 353.2 L286.3 353.3 L286.7 353.4 L287.0 353.3 L287.3 353.3 L287.7 353.3 L288.0 353.5 L288.4 353.3 L288.7 353.0 L289.0 353.6 L289.4 353.3 L289.7 353.6 L290.1 353.8 L290.4 353.0 L290.7 353.3 L291.1 355.2 L291.4 353.5 L291.8 352.9 L292.1 353.7 L292.4 354.6 L292.8 355.3 L293.1 353.6 L293.5 355.7 L293.8 354.2 L294.1 355.8 L294.5 358.7 L294.8 353.6 L295.2 354.1 L295.5 354.5 L295.8 353.1 L296.2 353.2 L296.5 353.5 L296.9 355.5 L297.2 355.3 L297.5 355.7 L297.9 353.3 L298.2 353.5 L298.6 354.4 L298.9 353.9 L299.2 354.4 L299.6 353.4 L299.9 358.0 L300.3 357.1 L300.6 353.4 L300.9 354.6 L301.3 355.5 L301.6 353.7 L302.0 359.2 L302.3 354.4 L302.6 355.5 L303.0 354.3 L303.3 353.6 L303.7 356.2 L304.0 356.3 L304.3 353.3 L304.7 353.1 L305.0 353.9 L305.4 353.7 L305.7 354.0 L306.0 354.0 L306.4 353.8 L306.7 355.3 L307.1 353.9 L307.4 355.0 L307.7 354.0 L308.1 353.8 L308.4 354.7 L308.8 353.9 L309.1 353.5 L309.4 355.4 L309.8 353.3 L310.1 353.7 L310.5 354.0 L310.8 358.5 L311.1 356.0 L311.5 354.5 L311.8 357.1 L312.2 355.7 L312.5 356.3 L312.8 354.4 L313.2 354.0 L313.5 353.7 L313.9 353.6 L314.2 354.5 L314.5 354.8 L314.9 353.9 L315.2 355.1 L315.6 355.8 L315.9 354.4 L316.2 353.8 L316.6 353.6 L316.9 354.0 L317.3 355.0 L317.6 356.6 L317.9 356.2 L318.3 354.5 L318.6 354.5 L319.0 354.5 L319.3 357.2 L319.6 353.7 L320.0 354.3 L320.3 353.8 L320.7 357.9 L321.0 355.2 L321.3 356.0 L321.7 354.0 L322.0 353.8 L322.4 354.0 L322.7 355.6 L323.0 354.4 L323.4 354.9 L323.7 354.6 L324.1 354.0 L324.4 355.7 L324.7 354.9 L325.1 355.1 L325.4 354.2 L325.8 356.5 L326.1 358.4 L326.4 353.4 L326.8 354.9 L327.1 355.2 L327.5 354.6 L327.8 354.3 L328.1 354.0 L328.5 355.6 L328.8 353.6 L329.2 355.5 L329.5 353.9 L329.8 357.5 L330.2 354.1 L330.5 355.7 L330.9 354.2 L331.2 355.2 L331.5 354.3 L331.9 355.8 L332.2 354.9 L332.6 354.4 L332.9 354.0 L333.2 354.0 L333.6 357.0 L333.9 354.0 L334.3 353.8 L334.6 356.2 L334.9 354.6 L335.3 356.7 L335.6 354.5 L336.0 353.8 L336.3 354.9 L336.6 355.8 L337.0 355.7 L337.3 354.6 L337.7 353.5 L338.0 354.6 L338.3 354.3 L338.7 354.9 L339.0 355.2 L339.4 354.3 L339.7 355.2 L340.0 354.1 L340.4 354.8 L340.7 354.4 L341.1 354.9 L341.4 355.6 L341.7 354.7 L342.1 355.0 L342.4 354.8 L342.8 360.4 L343.1 355.2 L343.4 355.1 L343.8 356.2 L344.1 355.1 L344.5 353.9 L344.8 354.7 L345.1 354.6 L345.5 354.7 L345.8 359.6 L346.2 354.5 L346.5 357.5 L346.8 355.1 L347.2 354.2 L347.5 354.4 L347.9 354.4 L348.2 353.7 L348.5 355.1 L348.9 360.2 L349.2 354.5 L349.6 354.9 L349.9 355.9 L350.2 353.9 L350.6 354.4 L350.9 354.4 L351.3 354.7 L351.6 354.8 L351.9 353.7 L352.3 354.8 L352.6 354.6 L353.0 358.0 L353.3 355.7 L353.6 355.0 L354.0 355.5 L354.3 356.3 L354.7 358.7 L355.0 353.8 L355.3 354.2 L355.7 354.0 L356.0 354.4 L356.4 354.1 L356.7 354.6 L357.0 354.3 L357.4 355.4 L357.7 355.1 L358.1 355.1 L358.4 353.7 L358.7 354.1 L359.1 354.1 L359.4 354.8 L359.8 354.2 L360.1 354.8 L360.4 354.6 L360.8 354.2 L361.1 354.4 L361.5 353.9 L361.8 354.7 L362.1 354.2 L362.5 354.6 L362.8 354.2 L363.2 354.7 L363.5 354.2 L363.8 354.9 L364.2 354.5 L364.5 354.3 L364.9 354.7 L365.2 353.8 L365.5 354.0 L365.9 353.3 L366.2 353.7 L366.6 355.1 L366.9 354.1 L367.2 358.0 L367.6 355.0 L367.9 353.7 L368.3 363.2 L368.6 353.9 L368.9 354.6 L369.3 353.7 L369.6 354.4 L370.0 353.8 L370.3 358.1 L370.6 353.4 L371.0 358.4 L371.3 352.7 L371.7 353.3 L372.0 355.1 L372.3 353.8 L372.7 354.1 L373.0 353.3 L373.4 355.0 L373.7 353.3 L374.0 353.6 L374.4 352.6 L374.7 353.6 L375.1 353.5 L375.4 353.1 L375.7 354.9 L376.1 353.3 L376.4 352.7 L376.8 353.5 L377.1 355.3 L377.4 353.2 L377.8 352.4 L378.1 353.0 L378.5 352.0 L378.8 352.8 L379.1 352.6 L379.5 354.8 L379.8 354.2 L380.2 354.1 L380.5 353.4 L380.8 352.2 L381.2 352.4 L381.5 352.4 L381.9 352.3 L382.2 352.4 L382.5 352.7 L382.9 353.2 L383.2 352.2 L383.6 352.0 L383.9 353.8 L384.2 352.5 L384.6 352.8 L384.9 354.1 L385.3 351.6 L385.6 352.8 L385.9 352.2 L386.3 354.8 L386.6 352.0 L387.0 351.6 L387.3 351.2 L387.6 352.1 L388.0 352.0 L388.3 351.4 L388.7 351.2 L389.0 354.1 L389.3 356.2 L389.7 352.0 L390.0 351.9 L390.4 352.7 L390.7 350.8 L391.0 351.1 L391.4 351.0 L391.7 352.9 L392.1 353.7 L392.4 352.9 L392.7 351.2 L393.1 351.3 L393.4 350.5 L393.8 352.1 L394.1 351.5 L394.4 350.9 L394.8 350.4 L395.1 353.6 L395.5 350.5 L395.8 350.2 L396.1 348.9 L396.5 349.8 L396.8 350.7 L397.2 348.9 L397.5 351.0 L397.8 348.7 L398.2 350.3 L398.5 348.3 L398.9 348.6 L399.2 350.0 L399.5 348.2 L399.9 348.1 L400.2 348.7 L400.6 347.8 L400.9 347.4 L401.2 347.2 L401.6 347.5 L401.9 347.2 L402.3 346.2 L402.6 347.6 L402.9 345.7 L403.3 345.3 L403.6 346.2 L404.0 344.7 L404.3 344.8 L404.6 343.6 L405.0 344.9 L405.3 343.2 L405.7 343.4 L406.0 343.4 L406.3 342.4 L406.7 341.6 L407.0 342.3 L407.4 340.5 L407.7 341.4 L408.0 339.7 L408.4 339.2 L408.7 338.9 L409.1 338.4 L409.4 337.1 L409.7 335.9 L410.1 334.6 L410.4 334.1 L410.8 332.6 L411.1 331.6 L411.4 330.0 L411.8 329.5 L412.1 327.9 L412.5 326.0 L412.8 324.4 L413.1 322.1 L413.5 319.5 L413.8 315.6 L414.2 311.1 L414.5 305.6 L414.8 299.2 L415.2 291.9 L415.5 284.5 L415.9 277.8 L416.3 272.1 L416.5 275.1 L416.9 280.0 L417.2 286.5 L417.6 293.7 L417.9 300.5 L418.2 306.4 L418.6 311.6 L418.9 315.8 L419.3 320.2 L419.6 322.2 L419.9 324.4 L420.3 325.7 L420.6 327.0 L421.0 328.2 L421.3 330.0 L421.6 330.8 L422.0 332.1 L422.3 333.2 L422.7 334.4 L423.0 335.3 L423.3 336.6 L423.7 337.3 L424.0 338.9 L424.4 338.7 L424.7 339.5 L425.0 339.9 L425.4 341.1 L425.7 341.2 L426.1 341.8 L426.4 342.3 L426.7 342.8 L427.1 343.1 L427.4 344.7 L427.8 344.0 L428.1 343.8 L428.4 344.6 L428.8 345.1 L429.1 344.8 L429.5 345.5 L429.8 345.7 L430.1 345.8 L430.5 345.8 L430.8 346.5 L431.2 346.8 L431.5 347.0 L431.8 347.2 L432.2 347.3 L432.5 347.3 L432.9 348.3 L433.2 348.0 L433.5 348.4 L433.9 348.3 L434.2 348.0 L434.6 348.9 L434.9 349.6 L435.2 349.4 L435.6 349.4 L435.9 350.2 L436.3 349.8 L436.6 350.0 L436.9 349.7 L437.3 350.0 L437.6 350.3 L438.0 350.5 L438.3 350.7 L438.6 350.6 L439.0 350.2 L439.3 350.8 L439.7 350.6 L440.0 351.2 L440.3 351.0 L440.7 350.9 L441.0 351.0 L441.4 350.6 L441.7 351.0 L442.0 351.9 L442.4 351.6 L442.7 351.5 L443.1 351.3 L443.4 352.7 L443.7 351.5 L444.1 351.6 L444.4 351.3 L444.8 351.6 L445.1 351.7 L445.4 352.1 L445.8 351.8 L446.1 352.8 L446.5 351.5 L446.8 352.3 L447.1 352.0 L447.5 351.9 L447.8 351.6 L448.2 352.4 L448.5 352.7 L448.8 352.6 L449.2 352.6 L449.5 352.5 L449.9 352.9 L450.2 352.8 L450.5 352.9 L450.9 352.9 L451.2 353.0 L451.6 353.0 L451.9 353.5 L452.2 352.6 L452.6 353.4 L452.9 353.2 L453.3 353.4 L453.6 353.3 L453.9 353.0 L454.3 353.1 L454.6 352.9 L455.0 352.5 L455.3 353.7 L455.6 353.8 L456.0 353.0 L456.3 353.9 L456.7 353.6 L457.0 353.4 L457.3 353.7 L457.7 353.0 L458.0 353.9 L458.4 353.2 L458.7 353.7 L459.0 353.6 L459.4 354.2 L459.7 353.7 L460.1 354.1 L460.4 353.7 L460.7 353.5 L461.1 353.6 L461.4 353.9 L461.8 353.6 L462.1 354.3 L462.4 353.1 L462.8 354.5 L463.1 353.6 L463.5 355.2 L463.8 354.0 L464.1 353.4 L464.5 354.2 L464.8 354.1 L465.2 356.4 L465.5 353.6 L465.8 356.2 L466.2 353.4 L466.5 355.6 L466.9 357.6 L467.2 353.7 L467.5 355.0 L467.9 353.4 L468.2 353.6 L468.6 355.0 L468.9 355.2 L469.2 357.1 L469.6 354.9 L469.9 353.9 L470.3 356.4 L470.6 354.9 L470.9 353.7 L471.3 353.3 L471.6 358.8 L472.0 354.5 L472.3 357.2 L472.6 357.9 L473.0 363.3 L473.3 354.5 L473.7 358.0 L474.0 353.9 L474.3 355.9 L474.7 354.2 L475.0 354.3 L475.4 356.3 L475.7 356.7 L476.0 369.2 L476.4 355.6 L476.7 353.6 L477.1 356.6 L477.4 361.5 L477.7 359.6 L478.1 356.1 L478.4 360.9 L478.8 357.5 L479.1 363.6 L479.4 358.1 L479.8 354.5 L480.1 363.9 L480.5 355.1 L480.8 355.6 L481.1 357.7 L481.5 357.2 L481.8 356.0 L482.2 354.6 L482.5 354.2 L482.8 353.8 L483.2 359.9 L483.5 358.2 L483.9 355.0 L484.2 360.9 L484.5 355.0 L484.9 355.2 L485.2 359.7 L485.6 355.4 L485.9 356.6 L486.2 358.1 L486.6 357.8 L486.9 358.8 L487.3 356.5 L487.6 355.7 L487.9 355.0 L488.3 357.6 L488.6 353.5 L489.0 361.6 L489.3 356.9 L489.6 354.8 L490.0 355.3 L490.3 354.5 L490.7 354.5 L491.0 359.4 L491.3 355.1 L491.7 359.0 L492.0 357.3 L492.4 358.7 L492.7 354.9 L493.0 354.7 L493.4 354.5 L493.7 354.5 L494.1 355.7 L494.4 366.9 L494.7 354.8 L495.1 358.0 L495.4 356.0 L495.8 354.4 L496.1 355.4 L496.4 354.6 L496.8 355.0 L497.1 359.1 L497.5 357.6 L497.8 356.1 L498.1 356.4 L498.5 362.0 L498.8 356.7 L499.2 356.6 L499.5 355.3 L499.8 365.9 L500.2 356.2 L500.5 355.9 L500.9 357.0 L501.2 354.9 L501.5 354.4 L501.9 356.4 L502.2 361.3 L502.6 355.2 L502.9 356.1 L503.2 355.8 L503.6 358.7 L503.9 357.1 L504.3 354.9 L504.6 369.0 L504.9 357.4 L505.3 357.6 L505.6 359.6 L506.0 357.6 L506.3 357.9 L506.6 355.7 L507.0 360.7 L507.3 356.2 L507.7 355.1 L508.0 355.6 L508.3 361.8 L508.7 359.8 L509.0 354.7 L509.4 361.5 L509.7 361.9 L510.0 355.8 L510.4 355.2 L510.7 356.7 L511.1 357.4 L511.4 354.1 L511.7 368.0 L512.1 357.2 L512.4 356.2 L512.8 364.9 L513.1 360.6 L513.4 354.4 L513.8 356.1 L514.1 356.1 L514.5 359.7 L514.8 357.8 L515.1 357.9 L515.5 355.3 L515.8 354.5 L516.2 355.5 L516.5 355.0 L516.8 355.1 L517.2 357.5 L517.5 356.6 L517.9 358.4 L518.2 356.0 L518.5 355.2 L518.9 371.0 L519.2 357.8 L519.6 360.3 L519.9 354.9 L520.2 355.0 L520.6 357.0 L520.9 354.7 L521.3 354.7 L521.6 354.6 L521.9 355.8 L522.3 360.3 L522.6 358.8 L523.0 355.2 L523.3 357.0 L523.6 355.7 L524.0 354.1 L524.3 358.9 L524.7 356.8 L525.0 357.0 L525.3 358.5 L525.7 355.4 L526.0 354.2 L526.4 357.3 L526.7 355.1 L527.0 371.0 L527.4 354.6 L527.7 362.3 L528.1 354.8 L528.4 355.7 L528.7 355.1 L529.1 364.2 L529.4 358.1 L529.8 359.2 L530.1 354.3 L530.4 355.7 L530.8 354.7 L531.1 361.6 L531.5 355.4 L531.8 354.0 L532.1 360.7 L532.5 354.9 L532.8 358.7 L533.2 360.2 L533.5 355.5 L533.8 354.8 L534.2 359.5 L534.5 354.7 L534.9 353.9 L535.2 354.8 L535.5 357.8 L535.9 360.1 L536.2 360.1 L536.6 354.3 L536.9 355.3 L537.2 355.3 L537.6 355.4 L537.9 356.5 L538.3 355.3 L538.6 357.1 L538.9 355.0 L539.3 358.9 L539.6 354.5 L540.0 358.7 L540.3 359.6 L540.6 357.0 L541.0 373.3 L541.3 355.0 L541.7 355.0 L542.0 355.2 L542.3 361.9 L542.7 357.0 L543.0 355.6 L543.4 357.4 L543.7 358.3 L544.0 359.4 L544.4 360.4 L544.7 355.6 L545.1 356.6 L545.4 354.9 L545.7 369.0 L546.1 355.3 L546.4 356.1 L546.8 362.9 L547.1 357.1 L547.4 354.3 L547.8 356.2 L548.1 356.0 L548.5 354.5 L548.8 355.4 L549.1 359.6 L549.5 354.7 L549.8 358.5 L550.2 361.9 L550.5 357.7 L550.8 361.3 L551.2 355.5 L551.5 356.2 L551.9 365.9 L552.2 358.3 L552.5 361.0 L552.9 355.9 L553.2 356.6 L553.6 355.2 L553.9 357.6 L554.2 354.8 L554.6 355.1 L554.9 354.9 L555.3 355.4 L555.6 363.1 L555.9 359.6 L556.3 362.2 L556.6 356.7 L557.0 355.7 L557.3 356.4 L557.6 354.9 L558.0 359.3 L558.3 356.1 L558.7 364.7 L559.0 356.6 L559.3 355.7 L559.7 355.8 L560.0 358.1 L560.4 356.3 L560.7 358.5 L561.0 382.7 L561.4 356.8 L561.7 354.4 L562.1 355.0 L562.4 359.6 L562.7 354.4 L563.1 359.2 L563.4 355.2 L563.8 355.8 L564.1 370.0 L564.4 360.1 L564.8 365.6 L565.1 356.5 L565.5 355.0 L565.8 358.1 L566.1 358.1 L566.5 358.6 L566.8 355.0 L567.2 359.4 L567.5 357.8 L567.8 356.8 L568.2 355.5 L568.5 355.8 L568.9 355.1 L569.2 355.2 L569.5 354.9 L569.9 354.6 L570.2 360.2 L570.6 354.0 L570.9 354.4 L571.2 355.8 L571.6 358.1 L571.9 355.6 L572.3 363.9 L572.6 355.0 L572.9 356.7 L573.3 360.7 L573.6 358.2 L574.0 354.5 L574.3 355.1 L574.6 355.4 L575.0 355.8 L575.3 355.4 L575.7 360.4 L576.0 354.9 L576.3 356.8 L576.7 354.5 L577.0 356.3 L577.4 359.3 L577.7 355.0 L578.0 355.5 L578.4 356.0 L578.7 354.7 L579.1 356.9 L579.4 355.8 L579.7 355.4 L580.1 356.2 L580.4 356.8 L580.8 357.6 L581.1 356.2 L581.4 355.1 L581.8 359.4 L582.1 361.9 L582.5 370.0 L582.8 354.5 L583.1 355.3 L583.5 354.7 L583.8 355.8 L584.2 357.9 L584.5 360.3 L584.8 363.8 L585.2 355.0 L585.5 356.0 L585.9 355.4 L586.2 357.2 L586.5 365.1 L586.9 356.0 L587.2 355.2 L587.6 371.0 L587.9 358.9 L588.2 360.5 L588.6 359.1 L588.9 355.4 L589.3 354.4 L589.6 363.1 L589.9 355.3 L590.3 354.2 L590.6 356.0 L591.0 359.4 L591.3 356.2 L591.6 360.9 L592.0 361.6 L592.3 358.3 L592.7 359.5 L593.0 361.5 L593.3 355.9 L593.7 355.3 L594.0 356.8 L594.4 357.7 L594.7 355.4 L595.0 359.1 L595.4 357.0 L595.7 354.9 L596.1 355.3 L596.4 364.6 L596.7 368.0 L597.1 357.1 L597.4 360.6 L597.8 357.0 L598.1 354.4 L598.4 355.3 L598.8 360.3 L599.1 354.6 L599.5 356.4 L599.8 355.0 L600.1 356.5 L600.5 363.6 L600.8 371.0 L601.2 354.5 L601.5 356.8 L601.8 355.5 L602.2 355.3 L602.5 356.3 L602.9 361.9 L603.2 354.2 L603.5 356.4 L603.9 354.1 L604.2 354.7 L604.6 355.8 L604.9 366.9 L605.2 355.3 L605.6 355.8 L605.9 355.5 L606.3 354.5 L606.6 357.6 L606.9 359.1 L607.3 354.3 L607.6 356.8 L608.0 356.5 L608.3 354.5 L608.6 363.3 L609.0 357.1 L609.3 356.1 L609.7 354.8 L610.0 355.7 L610.3 355.2 L610.7 354.4 L611.0 357.6 L611.4 359.6 L611.7 355.0 L612.0 354.1 L612.4 354.6 L612.7 356.5 L613.1 357.6 L613.4 361.7 L613.7 359.2 L614.1 358.5 L614.4 356.4 L614.8 356.5 L615.1 365.9 L615.4 356.6 L615.8 354.4 L616.1 356.3 L616.5 354.7 L616.8 357.7 L617.1 355.2 L617.5 358.3 L617.8 354.4 L618.2 368.0 L618.5 357.8 L618.8 354.2 L619.2 354.5 L619.5 354.6 L619.9 357.8 L620.2 360.2 L620.5 353.8 L620.9 354.5 L621.2 361.6 L621.6 353.8 L621.9 357.5 L622.2 354.7 L622.6 353.4 L622.9 353.9 L623.3 356.1 L623.6 355.2 L623.9 356.3 L624.3 354.4 L624.6 354.6 L625.0 354.5 L625.3 354.3 L625.6 354.1 L626.0 354.4 L626.3 354.0 L626.7 353.9 L627.0 355.4 L627.3 353.8 L627.7 354.6 L628.0 353.7 L628.4 354.0 L628.7 353.7 L629.0 353.7 L629.4 353.1 L629.7 353.5 L630.1 352.8 L630.4 352.6 L630.7 352.8 L631.1 354.0 L631.4 354.6 L631.8 352.9 L632.1 352.3 L632.4 352.1 L632.8 353.1 L633.1 351.8 L633.5 351.5 L633.8 351.7 L634.1 351.3 L634.5 351.3 L634.8 352.1 L635.2 351.0 L635.5 351.5 L635.8 350.6 L636.2 351.1 L636.5 350.2 L636.9 350.6 L637.2 350.1 L637.5 349.9 L637.9 350.0 L638.2 349.9 L638.6 350.3 L638.9 349.0 L639.2 349.3 L639.6 348.8 L639.9 348.3 L640.3 348.8 L640.6 348.0 L640.9 347.8 L641.3 347.9 L641.6 347.3 L642.0 347.6 L642.3 347.2 L642.6 347.1 L643.0 347.3 L643.3 347.2 L643.7 347.4 L644.0 347.1 L644.3 347.0 L644.7 346.6 L645.0 346.1 L645.4 346.8 L645.7 346.2 L646.0 346.8 L646.4 345.6 L646.7 346.2 L647.1 345.7 L647.4 346.0 L647.7 346.5 L648.1 346.5 L648.4 346.0 L648.8 346.3 L649.1 346.5 L649.4 346.5 L649.8 346.3 L650.1 347.1 L650.5 347.1 L650.8 347.3 L651.1 347.3 L651.5 347.9 L651.8 348.0 L652.2 347.4 L652.5 347.2 L652.8 347.8 L653.2 347.7 L653.5 348.1 L653.9 349.4 L654.2 348.6 L654.5 348.3 L654.9 348.9 L655.2 349.1 L655.6 349.6 L655.9 350.6 L656.2 349.5 L656.6 350.7 L656.9 349.7 L657.3 349.5 L657.6 350.4 L657.9 349.7 L658.3 350.5 L658.6 350.8 L659.0 350.9 L659.3 351.3 L659.6 351.6 L660.0 352.6 L660.3 351.8 L660.7 351.8 L661.0 352.3 L661.3 352.8 L661.7 352.3 L662.0 352.2 L662.4 353.6 L662.7 352.5 L663.0 352.2 L663.4 353.1 L663.7 352.9 L664.1 352.8 L664.4 353.1 L664.7 353.1 L665.1 353.8 L665.4 353.4 L665.8 353.9 L666.1 353.8 L666.4 354.1 L666.8 356.0 L667.1 354.0 L667.5 354.1 L667.8 354.3 L668.1 353.0 L668.5 353.4 L668.8 355.0 L669.2 358.2 L669.5 359.8 L669.8 354.2 L670.2 358.2 L670.5 355.1 L670.9 357.5 L671.2 359.8 L671.5 357.4 L671.9 359.9 L672.2 354.3 L672.6 354.1 L672.9 356.0 L673.2 354.4 L673.6 356.0 L673.9 354.2 L674.3 354.0 L674.6 360.8 L674.9 357.4 L675.3 356.0 L675.6 355.9 L676.0 355.3 L676.3 360.4 L676.6 357.2 L677.0 359.0 L677.3 358.5 L677.7 355.8 L678.0 355.9 L678.3 358.9 L678.7 356.2 L679.0 360.0 L679.4 358.7 L679.7 355.1 L680.0 356.1 L680.4 354.9 L680.7 361.1 L681.1 355.5 L681.4 359.4 L681.7 354.6 L682.1 357.1 L682.4 357.7 L682.8 354.9 L683.1 358.4 L683.4 354.5 L683.8 357.3 L684.1 355.8 L684.5 359.5 L684.8 359.3 L685.1 356.8 L685.5 355.1 L685.8 360.3 L686.2 355.4 L686.5 355.9 L686.8 357.0 L687.2 356.9 L687.5 356.6 L687.9 355.3 L688.2 358.1 L688.5 354.7 L688.9 354.9 L689.2 358.4 L689.6 358.8 L689.9 357.0 L690.2 357.3 L690.6 358.5 L690.9 355.1 L691.3 354.9 L691.6 358.0 L691.9 358.6 L692.3 357.9 L692.6 360.6 L693.0 356.3 L693.3 354.6 L693.6 355.7 L694.0 367.4 L694.3 356.3 L694.7 354.6 L695.0 356.4 L695.3 358.7 L695.7 355.2 L696.0 358.2 L696.4 355.2 L696.7 357.7 L697.0 356.1 L697.4 354.9 L697.7 354.5 L698.1 355.6 L698.4 355.7 L698.7 355.4 L699.1 363.4 L699.4 359.3 L699.8 358.0 L700.1 358.5 L700.4 355.3 L700.8 357.8 L701.1 359.1 L701.5 357.0 L701.8 359.3 L702.1 354.5 L702.5 357.3 L702.8 355.1 L703.2 366.9 L703.5 359.0 L703.8 356.1 L704.2 355.8 L704.5 355.5 L704.9 363.6 L705.2 357.6 L705.5 381.3 L705.9 357.1 L706.2 356.8 L706.6 369.9 L706.9 357.6 L707.2 359.1 L707.6 354.6 L707.9 357.4 L708.3 364.6 L708.6 356.3 L708.9 361.3 L709.3 354.5 L709.6 365.9 L710.0 357.1 L710.3 373.7 L710.6 362.3 L711.0 369.4 L711.3 355.9 L711.7 355.1 L712.0 354.9 L712.3 354.7 L712.7 357.5 L713.0 359.6 L713.4 354.7 L713.7 362.4 L714.0 357.7 L714.4 357.5 L714.7 358.4 L715.1 356.2 L715.4 357.3 L715.7 355.2 L716.1 357.2 L716.4 357.7 L716.8 361.7 L717.1 361.4 L717.4 355.8 L717.8 356.9 L718.1 357.8 L718.5 359.5 L718.8 361.9 L719.1 354.5 L719.5 356.4 L719.8 357.4 L720.2 357.2 L720.5 357.3 L720.8 355.8 L721.2 355.6 L721.5 365.0 L721.9 369.0 L722.2 356.0 L722.5 356.8 L722.9 356.3 L723.2 358.3 L723.6 355.2 L723.9 356.2 L724.2 365.5 L724.6 356.0 L724.9 355.8 L725.3 357.8 L725.6 356.1 L725.9 358.7 L726.3 357.0 L726.6 356.1 L727.0 355.6 L727.3 355.6 L727.6 355.3 L728.0 358.7 L728.3 355.9 L728.7 360.2 L729.0 355.5 L729.3 355.1 L729.7 357.4 L730.0 355.1 L730.4 355.5 L730.7 357.3 L731.0 355.3 L731.4 357.4 L731.7 355.9 L732.1 357.4 L732.4 356.0 L732.7 355.6 L733.1 371.0 L733.4 355.2 L733.8 355.3 L734.1 361.6 L734.4 357.2 L734.8 355.9 L735.1 360.1 L735.5 355.5 L735.8 358.9 L736.1 361.2 L736.5 355.2 L736.8 357.6 L737.2 361.4 L737.5 355.5 L737.8 354.6 L738.2 358.3 L738.5 355.3 L738.9 355.4 L739.2 356.8 L739.5 356.0 L739.9 357.8 L740.2 361.0 L740.6 358.1 L740.9 373.7 L741.2 355.7 L741.6 355.0 L741.9 359.0 L742.3 364.5 L742.6 356.2 L742.9 356.6 L743.3 356.7 L743.6 354.9 L744.0 355.8 L744.3 362.4 L744.6 356.6 L745.0 354.7 L745.3 357.0 L745.7 357.8 L746.0 355.6 L746.3 365.9 L746.7 354.9 L747.0 361.0 L747.4 356.5 L747.7 358.2 L748.0 356.1 L748.4 357.9 L748.7 356.6 L749.1 354.7 L749.4 357.8 L749.7 357.0 L750.1 355.3 L750.4 355.1 L750.8 356.2 L751.1 357.7 L751.4 355.8 L751.8 356.2 L752.1 356.1 L752.5 356.3 L752.8 362.5 L753.1 354.6 L753.5 357.3 L753.8 362.6 L754.2 362.0 L754.5 356.1 L754.8 359.3 L755.2 365.3 L755.5 358.3 L755.9 358.4 L756.2 358.8 L756.5 372.1 L756.9 361.8 L757.2 360.6 L757.6 356.1 L757.9 354.7 L758.2 360.4 L758.6 366.4 L758.9 356.3 L759.3 356.2 L759.6 362.0 L759.9 356.4 L760.3 358.7 L760.6 365.3 L761.0 355.0 L761.3 355.2 L761.6 359.3 L762.0 354.9 L762.3 355.0 L762.7 361.4 L763.0 356.7 L763.3 365.3 L763.7 359.5 L764.0 355.8 L764.4 357.3 L764.7 359.0 L765.0 360.8 L765.4 358.6 L765.7 355.2 L766.1 355.5 L766.4 355.4 L766.7 370.0 L767.1 357.1 L767.4 356.1 L767.8 359.7 L768.1 358.8 L768.4 358.5 L768.8 355.3 L769.1 358.1 L769.5 358.5 L769.8 357.5 L770.1 355.4 L770.5 356.5 L770.8 363.4 L771.2 357.5 L771.5 355.1 L771.8 361.5 L772.2 358.2 L772.5 363.4 L772.9 356.3 L773.2 354.9 L773.5 355.6 L773.9 363.8 L774.2 355.4 L774.6 355.1 L774.9 357.1 L775.2 360.4 L775.6 359.9 L775.9 360.4 L776.3 357.4 L776.6 355.5 L776.9 356.9 L777.3 356.5 L777.6 357.2 L778.0 357.2 L778.3 363.8 L778.6 354.9 L779.0 366.9 L779.3 355.8 L779.7 356.3 L780.0 358.0 L780.3 354.7 L780.7 355.7 L781.0 359.8 L781.4 355.2 L781.7 355.7 L782.0 356.9 L782.4 357.5 L782.7 355.4 L783.1 355.6 L783.4 356.8 L783.7 363.0 L784.1 356.4 L784.4 358.3 L784.8 364.5 L785.1 359.5 L785.4 357.2 L785.8 357.0 L786.1 356.1 L786.5 356.3 L786.8 360.3 L787.1 364.9 L787.5 355.5 L787.8 357.3 L788.2 356.0 L788.5 363.3 L788.8 355.6 L789.2 359.3 L789.5 359.4 L789.9 360.8 L790.2 356.3 L790.5 355.6 L790.9 363.6 L791.2 362.1 L791.6 354.7 L791.9 355.9 L792.2 359.4 L792.6 354.5 L792.9 356.8 L793.3 358.5 L793.6 359.8 L793.9 356.4 L794.3 360.2 L794.6 356.4 L795.0 356.5 L795.3 360.7 L795.6 355.0 L796.0 365.5 L796.3 359.7 L796.7 357.4 L797.0 355.6 L797.3 366.9 L797.7 355.0 L798.0 361.6 L798.4 359.9 L798.7 355.8 L799.0 357.9 L799.4 360.5 L799.7 361.7 L800.1 357.6 L800.4 359.5 L800.7 356.9 L801.1 355.7 L801.4 355.3 L801.8 356.1 L802.1 355.6 L802.4 356.0 L802.8 363.3 L803.1 357.4 L803.5 355.2 L803.8 358.1 L804.1 356.5 L804.5 356.5 L804.8 356.5 L805.2 356.3 L805.5 356.5 L805.8 357.0 L806.2 360.3 L806.5 365.3 L806.9 356.7 L807.2 356.8 L807.5 370.0 L807.9 358.0 L808.2 357.2 L808.6 359.7 L808.9 356.7 L809.2 355.5 L809.6 356.6 L809.9 356.1 L810.3 356.3 L810.6 357.0 L810.9 358.0 L811.3 357.1 L811.6 355.3 L812.0 355.9 L812.3 354.9 L812.6 355.7 L813.0 358.8 L813.3 356.5 L813.7 356.6 L814.0 359.3 L814.3 356.8 L814.7 355.1 L815.0 355.5 L815.4 365.3 L815.7 356.4 L816.0 356.6 L816.4 361.8 L816.7 354.6 L817.1 355.9 L817.4 362.3 L817.7 366.9 L818.1 357.0 L818.4 356.3 L818.8 356.2 L819.1 355.9 L819.4 358.7 L819.8 358.4 L820.1 356.8 L820.5 358.1 L820.8 362.9 L821.1 362.9 L821.5 355.7 L821.8 355.6 L822.2 357.2 L822.5 357.4 L822.8 363.1 L823.2 356.5" fill="none" stroke="#0096ff" stroke-width="3.6" stroke-linejoin="round" stroke-linecap="round"/>
<path d="M125.5 554.3 L126.0 553.8 L126.5 554.1 L127.0 552.8 L127.5 553.7 L128.0 554.1 L128.5 553.6 L129.0 553.9 L129.5 554.0 L130.0 554.4 L130.5 555.0 L131.0 555.2 L131.5 554.6 L132.0 555.0 L132.5 553.8 L133.0 553.9 L133.5 555.4 L134.0 554.4 L134.5 553.6 L135.0 553.9 L135.5 555.3 L136.0 554.3 L136.5 556.0 L137.0 554.7 L137.5 554.4 L138.0 554.6 L138.5 554.5 L139.0 553.4 L139.5 554.4 L140.0 553.8 L140.5 555.2 L141.0 554.8 L141.5 553.9 L142.0 554.0 L142.5 559.0 L143.0 556.0 L143.5 554.0 L144.0 554.7 L144.5 554.2 L145.0 555.1 L145.5 554.0 L146.0 554.5 L146.5 554.5 L147.0 554.6 L147.5 554.4 L148.0 554.0 L148.5 554.5 L149.0 555.3 L149.5 555.0 L150.0 557.2 L150.5 555.7 L151.0 554.7 L151.5 555.3 L152.0 554.6 L152.5 555.6 L153.0 555.2 L153.5 554.8 L154.0 554.5 L154.5 554.5 L155.0 555.1 L155.5 555.1 L156.0 555.3 L156.5 555.0 L157.0 554.8 L157.5 555.9 L158.0 556.0 L158.5 554.9 L159.0 554.4 L159.5 555.0 L160.0 555.2 L160.5 554.8 L161.0 554.5 L161.5 555.2 L162.0 554.7 L162.5 555.2 L163.0 555.0 L163.5 556.0 L164.0 554.4 L164.5 556.5 L165.0 555.4 L165.5 555.3 L166.0 556.5 L166.5 557.2 L167.0 554.6 L167.5 554.9 L168.0 554.4 L168.5 555.2 L169.0 554.6 L169.5 555.6 L170.0 554.8 L170.5 554.9 L171.0 554.4 L171.5 554.6 L172.0 555.0 L172.5 555.0 L173.0 554.9 L173.5 555.5 L174.0 554.8 L174.5 555.7 L175.0 555.1 L175.5 556.4 L176.0 555.1 L176.5 555.6 L177.0 557.7 L177.5 556.4 L178.0 555.5 L178.5 555.5 L179.0 555.5 L179.5 555.0 L180.0 554.3 L180.5 555.3 L181.0 556.1 L181.5 555.0 L182.0 555.5 L182.5 556.7 L183.0 554.9 L183.5 555.2 L184.0 555.1 L184.5 555.3 L185.0 555.3 L185.5 555.6 L186.0 556.7 L186.5 555.8 L187.0 555.4 L187.5 554.9 L188.0 554.8 L188.5 555.2 L189.0 555.3 L189.5 555.1 L190.0 554.8 L190.5 554.9 L191.0 555.5 L191.5 555.4 L192.0 554.5 L192.5 554.8 L193.0 555.1 L193.5 555.0 L194.0 554.9 L194.5 554.3 L195.0 556.4 L195.5 556.8 L196.0 555.1 L196.5 556.0 L197.0 556.6 L197.5 555.4 L198.0 555.2 L198.5 556.2 L199.0 556.6 L199.5 555.7 L200.0 555.4 L200.5 554.6 L201.0 555.2 L201.5 555.4 L202.0 555.9 L202.5 555.3 L203.0 556.6 L203.5 555.4 L204.0 554.9 L204.5 556.1 L205.0 555.4 L205.5 554.5 L206.0 555.6 L206.5 558.2 L207.0 554.9 L207.5 557.8 L208.0 555.0 L208.5 555.3 L209.0 554.9 L209.5 555.4 L210.0 554.8 L210.5 556.3 L211.0 555.4 L211.5 555.9 L212.0 554.7 L212.5 555.8 L213.0 556.3 L213.5 555.1 L214.0 556.5 L214.5 554.6 L215.0 554.7 L215.5 554.8 L216.0 555.5 L216.5 556.2 L217.0 555.6 L217.5 555.0 L218.0 557.4 L218.5 554.7 L219.0 554.3 L219.5 555.3 L220.0 556.0 L220.5 557.0 L221.0 556.2 L221.5 554.9 L222.0 555.2 L222.5 555.3 L223.0 556.4 L223.5 556.2 L224.0 555.5 L224.5 555.4 L225.0 555.4 L225.5 555.6 L226.0 555.5 L226.5 554.6 L227.0 554.6 L227.5 555.9 L228.0 555.1 L228.5 554.6 L229.0 555.6 L229.5 554.8 L230.0 555.5 L230.5 555.5 L231.0 556.1 L231.5 556.0 L232.0 556.2 L232.5 556.5 L233.0 554.6 L233.5 555.1 L234.0 556.3 L234.5 555.1 L235.0 554.4 L235.5 554.6 L236.0 556.4 L236.5 554.6 L237.0 554.7 L237.5 555.1 L238.0 555.7 L238.5 556.2 L239.0 554.1 L239.5 554.3 L240.0 554.4 L240.5 554.7 L241.0 555.3 L241.5 554.5 L242.0 555.2 L242.5 554.8 L243.0 554.6 L243.5 554.7 L244.0 556.3 L244.5 554.4 L245.0 555.1 L245.5 553.9 L246.0 554.2 L246.5 554.9 L247.0 554.5 L247.5 555.2 L248.0 555.7 L248.5 554.2 L249.0 556.1 L249.5 556.7 L250.0 555.1 L250.5 554.2 L251.0 554.4 L251.5 555.0 L252.0 554.5 L252.5 554.1 L253.0 555.4 L253.5 554.1 L254.0 555.8 L254.5 554.1 L255.0 554.1 L255.5 553.4 L256.0 554.7 L256.5 553.3 L257.0 553.8 L257.5 554.5 L258.0 553.5 L258.5 553.5 L259.0 554.0 L259.5 553.9 L260.0 554.1 L260.5 557.2 L261.0 553.8 L261.5 553.2 L262.0 553.2 L262.5 553.7 L263.0 554.0 L263.5 553.5 L264.0 555.3 L264.5 553.6 L265.0 554.1 L265.5 553.0 L266.0 554.0 L266.5 553.7 L267.0 553.4 L267.5 552.7 L268.0 553.5 L268.5 553.9 L269.0 553.8 L269.5 552.7 L270.0 552.6 L270.5 552.9 L271.0 554.4 L271.5 555.2 L272.0 554.5 L272.5 553.1 L273.0 552.7 L273.5 554.2 L274.0 552.8 L274.5 553.0 L275.0 553.9 L275.5 552.8 L276.0 552.7 L276.5 551.4 L277.0 552.0 L277.5 552.3 L278.0 551.4 L278.5 552.7 L279.0 553.2 L279.5 554.1 L280.0 553.0 L280.5 551.4 L281.0 550.8 L281.5 553.1 L282.0 551.4 L282.5 551.1 L283.0 552.1 L283.5 551.3 L284.0 552.0 L284.5 551.2 L285.0 550.9 L285.5 549.9 L286.0 551.2 L286.5 550.3 L287.0 551.1 L287.5 550.7 L288.0 551.5 L288.5 551.0 L289.0 550.0 L289.5 549.9 L290.0 549.5 L290.5 549.6 L291.0 549.3 L291.5 549.3 L292.0 549.1 L292.5 549.2 L293.0 548.6 L293.5 548.4 L294.0 548.2 L294.5 548.4 L295.0 548.0 L295.5 547.8 L296.0 547.8 L296.5 548.1 L297.0 547.7 L297.5 547.6 L298.0 546.9 L298.5 546.9 L299.0 546.9 L299.5 546.7 L300.0 546.6 L300.5 546.4 L301.0 546.3 L301.5 546.3 L302.0 546.3 L302.5 545.8 L303.0 545.4 L303.5 545.5 L304.0 545.6 L304.5 545.2 L305.0 545.4 L305.5 544.6 L306.0 544.9 L306.5 544.4 L307.0 544.1 L307.5 544.4 L308.0 543.8 L308.5 543.4 L309.0 543.5 L309.5 543.3 L310.0 543.2 L310.5 542.8 L311.0 542.7 L311.5 542.8 L312.0 543.1 L312.5 543.3 L313.0 543.2 L313.5 544.2 L314.0 543.7 L314.5 544.0 L315.0 544.3 L315.5 544.8 L316.0 545.0 L316.5 544.7 L317.0 545.0 L317.5 545.2 L318.0 545.4 L318.5 545.6 L319.0 545.7 L319.5 545.7 L320.0 546.5 L320.5 546.2 L321.0 547.4 L321.5 546.4 L322.0 546.7 L322.5 547.0 L323.0 547.0 L323.5 547.2 L324.0 547.5 L324.5 547.5 L325.0 547.2 L325.5 547.4 L326.0 547.5 L326.5 547.3 L327.0 547.3 L327.5 547.1 L328.0 547.3 L328.5 547.5 L329.0 547.7 L329.5 546.8 L330.0 547.0 L330.5 547.1 L331.0 546.8 L331.5 547.2 L332.0 546.6 L332.5 546.8 L333.0 546.5 L333.5 546.5 L334.0 546.1 L334.5 545.9 L335.0 545.6 L335.5 545.6 L336.0 545.2 L336.5 545.2 L337.0 545.2 L337.5 545.6 L338.0 544.9 L338.5 544.4 L339.0 543.8 L339.5 543.6 L340.0 543.3 L340.5 542.9 L341.0 542.9 L341.5 542.2 L342.0 541.7 L342.5 541.5 L343.0 541.2 L343.5 541.5 L344.0 541.1 L344.5 540.6 L345.0 540.7 L345.5 539.9 L346.0 540.1 L346.5 539.5 L347.0 540.0 L347.5 539.6 L348.0 539.3 L348.5 539.5 L349.0 539.6 L349.5 540.1 L350.0 540.9 L350.5 541.1 L351.0 541.9 L351.5 543.1 L352.0 543.2 L352.5 543.8 L353.0 544.6 L353.5 545.2 L354.0 545.3 L354.5 545.9 L355.0 546.3 L355.5 546.3 L356.0 546.9 L356.5 547.1 L357.0 547.6 L357.5 548.0 L358.0 548.7 L358.5 548.6 L359.0 549.3 L359.5 549.0 L360.0 549.4 L360.5 549.5 L361.0 549.6 L361.5 549.5 L362.0 550.5 L362.5 550.2 L363.0 551.0 L363.5 550.5 L364.0 550.9 L364.5 551.5 L365.0 551.3 L365.5 551.3 L366.0 551.5 L366.5 551.7 L367.0 551.5 L367.5 552.7 L368.0 551.6 L368.5 551.8 L369.0 552.2 L369.5 551.8 L370.0 552.1 L370.5 552.5 L371.0 552.7 L371.5 553.0 L372.0 552.3 L372.5 552.7 L373.0 553.1 L373.5 552.5 L374.0 552.8 L374.5 553.2 L375.0 553.6 L375.5 552.7 L376.0 553.0 L376.5 553.1 L377.0 553.6 L377.5 553.6 L378.0 553.5 L378.5 553.6 L379.0 553.9 L379.5 553.6 L380.0 554.1 L380.5 554.0 L381.0 554.0 L381.5 553.6 L382.0 554.0 L382.5 553.6 L383.0 554.0 L383.5 554.7 L384.0 554.3 L384.5 554.5 L385.0 554.1 L385.5 554.6 L386.0 554.3 L386.5 554.9 L387.0 554.5 L387.5 554.7 L388.0 554.6 L388.5 554.6 L389.0 555.0 L389.5 554.7 L390.0 554.7 L390.5 555.4 L391.0 554.8 L391.5 554.9 L392.0 554.9 L392.5 555.1 L393.0 554.8 L393.5 554.9 L394.0 555.5 L394.5 555.2 L395.0 555.1 L395.5 555.3 L396.0 555.7 L396.5 555.2 L397.0 555.3 L397.5 555.4 L398.0 555.7 L398.5 555.1 L399.0 555.7 L399.5 555.7 L400.0 556.6 L400.5 555.2 L401.0 555.7 L401.5 554.9 L402.0 555.4 L402.5 556.5 L403.0 556.2 L403.5 555.7 L404.0 554.8 L404.5 556.5 L405.0 556.5 L405.5 556.4 L406.0 555.6 L406.5 556.4 L407.0 555.7 L407.5 555.9 L408.0 555.9 L408.5 555.9 L409.0 557.0 L409.5 557.0 L410.0 556.0 L410.5 556.5 L411.0 555.4 L411.5 555.7 L412.0 556.2 L412.5 556.0 L413.0 555.7 L413.5 555.4 L414.0 555.9 L414.5 555.9 L415.0 555.2 L415.5 556.2 L416.0 555.9 L416.5 555.2 L417.0 556.2 L417.5 555.4 L418.0 555.7 L418.5 556.4 L419.0 555.7 L419.5 556.6 L420.0 555.8 L420.5 556.0 L421.0 555.9 L421.5 558.0 L422.0 555.2 L422.5 555.7 L423.0 555.5 L423.5 555.8 L424.0 556.2 L424.5 555.9 L425.0 558.1 L425.5 556.5 L426.0 557.1 L426.5 555.6 L427.0 556.6 L427.5 556.3 L428.0 556.1 L428.5 556.4 L429.0 555.9 L429.5 556.5 L430.0 556.1 L430.5 555.3 L431.0 555.5 L431.5 556.2 L432.0 556.6 L432.5 555.5 L433.0 556.5 L433.5 556.6 L434.0 556.2 L434.5 555.3 L435.0 555.9 L435.5 557.8 L436.0 555.9 L436.5 557.0 L437.0 556.2 L437.5 557.0 L438.0 556.1 L438.5 555.8 L439.0 556.5 L439.5 556.7 L440.0 557.1 L440.5 555.5 L441.0 555.9 L441.5 555.6 L442.0 556.4 L442.5 555.7 L443.0 555.5 L443.5 556.4 L444.0 559.2 L444.5 555.7 L445.0 555.4 L445.5 556.3 L446.0 556.2 L446.5 556.7 L447.0 556.3 L447.5 556.9 L448.0 556.0 L448.5 556.7 L449.0 556.5 L449.5 556.2 L450.0 557.6 L450.5 556.1 L451.0 555.3 L451.5 555.5 L452.0 556.4 L452.5 556.4 L453.0 556.4 L453.5 555.8 L454.0 556.4 L454.5 556.0 L455.0 556.3 L455.5 555.3 L456.0 557.1 L456.5 556.2 L457.0 556.0 L457.5 556.0 L458.0 557.0 L458.5 555.1 L459.0 556.8 L459.5 556.3 L460.0 555.7 L460.5 555.1 L461.0 557.5 L461.5 555.2 L462.0 555.7 L462.5 555.4 L463.0 555.4 L463.5 555.6 L464.0 557.7 L464.5 555.7 L465.0 555.7 L465.5 555.3 L466.0 555.7 L466.5 556.6 L467.0 556.2 L467.5 555.7 L468.0 555.7 L468.5 555.7 L469.0 555.6 L469.5 557.2 L470.0 556.0 L470.5 555.2 L471.0 556.3 L471.5 555.3 L472.0 556.4 L472.5 556.9 L473.0 555.3 L473.5 555.9 L474.0 555.7 L474.5 556.0 L475.0 555.6 L475.5 557.2 L476.0 555.7 L476.5 556.3 L477.0 556.0 L477.5 556.2 L478.0 556.4 L478.5 555.5 L479.0 555.6 L479.5 555.7 L480.0 555.1 L480.5 555.2 L481.0 555.4 L481.5 555.4 L482.0 555.2 L482.5 555.3 L483.0 555.5 L483.5 555.3 L484.0 555.2 L484.5 555.8 L485.0 555.9 L485.5 555.1 L486.0 555.0 L486.5 556.4 L487.0 554.4 L487.5 555.1 L488.0 555.9 L488.5 555.1 L489.0 555.0 L489.5 555.2 L490.0 555.7 L490.5 555.0 L491.0 555.1 L491.5 554.7 L492.0 555.0 L492.5 554.4 L493.0 554.8 L493.5 554.8 L494.0 554.5 L494.5 554.7 L495.0 554.5 L495.5 555.6 L496.0 554.8 L496.5 554.7 L497.0 554.4 L497.5 554.5 L498.0 554.6 L498.5 554.5 L499.0 554.3 L499.5 554.5 L500.0 554.2 L500.5 554.6 L501.0 553.9 L501.5 554.1 L502.0 553.7 L502.5 553.7 L503.0 553.6 L503.5 553.3 L504.0 553.0 L504.5 553.4 L505.0 552.9 L505.5 553.2 L506.0 553.8 L506.5 552.8 L507.0 553.5 L507.5 552.4 L508.0 552.7 L508.5 552.4 L509.0 552.5 L509.5 552.6 L510.0 552.8 L510.5 552.0 L511.0 551.9 L511.5 551.8 L512.0 551.8 L512.5 551.6 L513.0 551.5 L513.5 551.2 L514.0 551.0 L514.5 550.6 L515.0 550.8 L515.5 549.8 L516.0 549.5 L516.5 549.3 L517.0 548.9 L517.5 548.2 L518.0 548.3 L518.5 547.3 L519.0 547.0 L519.5 546.5 L520.0 546.4 L520.5 545.8 L521.0 545.4 L521.5 545.0 L522.0 544.0 L522.5 543.2 L523.0 542.4 L523.5 541.2 L524.0 540.5 L524.5 539.8 L525.0 538.1 L525.5 537.5 L526.0 534.9 L526.5 532.9 L527.0 531.3 L527.5 529.3 L528.0 527.0 L528.5 524.4 L529.0 519.0 L529.5 512.2 L530.0 503.7 L530.5 493.4 L531.0 483.5 L531.5 476.9 L532.0 482.6 L532.5 491.4 L533.0 501.1 L533.5 509.4 L534.0 516.2 L534.5 521.7 L535.0 525.1 L535.5 527.6 L536.0 530.3 L536.5 531.9 L537.0 533.3 L537.5 534.6 L538.0 536.7 L538.5 538.4 L539.0 539.2 L539.5 540.3 L540.0 541.2 L540.5 542.1 L541.0 542.5 L541.5 543.4 L542.0 544.2 L542.5 544.7 L543.0 545.6 L543.5 546.0 L544.0 546.1 L544.5 546.5 L545.0 546.8 L545.5 547.7 L546.0 548.0 L546.5 548.4 L547.0 548.3 L547.5 548.8 L548.0 549.2 L548.5 549.7 L549.0 549.4 L549.5 549.8 L550.0 550.5 L550.5 550.5 L551.0 550.9 L551.5 551.1 L552.0 550.9 L552.5 551.1 L553.0 551.2 L553.5 551.5 L554.0 551.7 L554.5 552.0 L555.0 552.4 L555.5 552.6 L556.0 552.3 L556.5 551.9 L557.0 552.6 L557.5 552.9 L558.0 552.6 L558.5 552.7 L559.0 552.8 L559.5 552.8 L560.0 553.0 L560.5 552.9 L561.0 553.6 L561.5 552.9 L562.0 553.2 L562.5 553.2 L563.0 553.1 L563.5 553.2 L564.0 553.3 L564.5 554.0 L565.0 553.7 L565.5 553.5 L566.0 553.8 L566.5 553.9 L567.0 554.2 L567.5 553.8 L568.0 554.3 L568.5 554.0 L569.0 554.2 L569.5 554.2 L570.0 553.9 L570.5 555.1 L571.0 555.4 L571.5 556.4 L572.0 554.7 L572.5 555.0 L573.0 554.1 L573.5 554.6 L574.0 554.4 L574.5 554.2 L575.0 554.7 L575.5 555.1 L576.0 555.4 L576.5 554.5 L577.0 554.9 L577.5 554.9 L578.0 556.5 L578.5 555.2 L579.0 556.7 L579.5 555.1 L580.0 557.6 L580.5 555.3 L581.0 554.6 L581.5 554.9 L582.0 554.8 L582.5 556.8 L583.0 556.3 L583.5 554.9 L584.0 555.6 L584.5 555.2 L585.0 554.6 L585.5 554.4 L586.0 557.1 L586.5 555.5 L587.0 555.0 L587.5 555.0 L588.0 555.3 L588.5 555.4 L589.0 554.9 L589.5 556.0 L590.0 555.1 L590.5 556.3 L591.0 556.3 L591.5 554.7 L592.0 555.3 L592.5 555.7 L593.0 555.6 L593.5 554.5 L594.0 555.8 L594.5 555.8 L595.0 557.0 L595.5 555.3 L596.0 555.7 L596.5 555.6 L597.0 555.1 L597.5 555.9 L598.0 555.8 L598.5 555.5 L599.0 554.8 L599.5 555.9 L600.0 555.9 L600.5 556.4 L601.0 555.7 L601.5 557.9 L602.0 555.0 L602.5 556.6 L603.0 555.8 L603.5 555.8 L604.0 556.8 L604.5 557.6 L605.0 555.4 L605.5 558.5 L606.0 556.0 L606.5 556.0 L607.0 556.0 L607.5 556.1 L608.0 556.2 L608.5 556.4 L609.0 555.5 L609.5 556.9 L610.0 555.9 L610.5 556.0 L611.0 556.6 L611.5 556.2 L612.0 556.8 L612.5 555.2 L613.0 555.4 L613.5 556.0 L614.0 556.2 L614.5 556.1 L615.0 556.0 L615.5 557.2 L616.0 556.0 L616.5 555.9 L617.0 556.8 L617.5 556.7 L618.0 556.9 L618.5 556.6 L619.0 555.9 L619.5 555.8 L620.0 556.5 L620.5 556.4 L621.0 556.3 L621.5 557.4 L622.0 556.9 L622.5 556.0 L623.0 556.5 L623.5 556.6 L624.0 557.0 L624.5 556.9 L625.0 556.4 L625.5 556.5 L626.0 555.8 L626.5 555.9 L627.0 557.9 L627.5 556.3 L628.0 556.6 L628.5 556.1 L629.0 556.1 L629.5 555.8 L630.0 556.2 L630.5 556.5 L631.0 556.2 L631.5 557.3 L632.0 557.4 L632.5 557.0 L633.0 556.3 L633.5 556.3 L634.0 557.6 L634.5 558.2 L635.0 558.4 L635.5 558.9 L636.0 556.1 L636.5 558.7 L637.0 556.1 L637.5 557.0 L638.0 557.4 L638.5 555.8 L639.0 556.8 L639.5 556.7 L640.0 556.2 L640.5 557.8 L641.0 556.2 L641.5 558.0 L642.0 557.3 L642.5 557.8 L643.0 556.9 L643.5 558.4 L644.0 556.7 L644.5 556.3 L645.0 557.2 L645.5 557.9 L646.0 555.7 L646.5 558.5 L647.0 556.3 L647.5 556.8 L648.0 556.8 L648.5 558.8 L649.0 557.0 L649.5 556.7 L650.0 558.0 L650.5 557.9 L651.0 556.8 L651.5 557.4 L652.0 557.2 L652.5 557.7 L653.0 558.9 L653.5 557.3 L654.0 556.6 L654.5 557.8 L655.0 556.6 L655.5 557.3 L656.0 556.6 L656.5 558.5 L657.0 556.9 L657.5 556.8 L658.0 558.2 L658.5 556.9 L659.0 558.4 L659.5 558.0 L660.0 556.7 L660.5 557.6 L661.0 556.6 L661.5 556.6 L662.0 557.2 L662.5 557.1 L663.0 556.9 L663.5 557.6 L664.0 556.6 L664.5 557.0 L665.0 557.2 L665.5 557.5 L666.0 558.0 L666.5 556.3 L667.0 556.0 L667.5 557.5 L668.0 556.7 L668.5 557.2 L669.0 557.2 L669.5 556.4 L670.0 556.1 L670.5 557.7 L671.0 557.1 L671.5 557.2 L672.0 557.3 L672.5 557.4 L673.0 556.7 L673.5 557.5 L674.0 557.2 L674.5 558.5 L675.0 557.0 L675.5 561.9 L676.0 556.2 L676.5 556.9 L677.0 556.6 L677.5 557.1 L678.0 556.8 L678.5 556.5 L679.0 558.9 L679.5 559.3 L680.0 556.6 L680.5 556.5 L681.0 556.3 L681.5 556.8 L682.0 557.1 L682.5 557.0 L683.0 557.9 L683.5 556.9 L684.0 558.2 L684.5 556.2 L685.0 557.3 L685.5 558.8 L686.0 556.4 L686.5 558.8 L687.0 556.3 L687.5 556.8 L688.0 556.9 L688.5 557.6 L689.0 556.8 L689.5 556.6 L690.0 558.3 L690.5 556.8 L691.0 556.1 L691.5 557.1 L692.0 556.5 L692.5 556.3 L693.0 556.8 L693.5 557.2 L694.0 557.0 L694.5 556.6 L695.0 556.8 L695.5 557.3 L696.0 556.5 L696.5 556.9 L697.0 559.0 L697.5 559.0 L698.0 557.0 L698.5 556.3 L699.0 558.0 L699.5 561.3 L700.0 557.3 L700.5 556.4 L701.0 556.6 L701.5 557.1 L702.0 556.6 L702.5 556.5 L703.0 559.7 L703.5 557.6 L704.0 556.9 L704.5 556.9 L705.0 559.2 L705.5 556.2 L706.0 556.9 L706.5 556.7 L707.0 558.5 L707.5 558.7 L708.0 556.6 L708.5 556.8 L709.0 557.5 L709.5 558.7 L710.0 556.5 L710.5 556.9 L711.0 556.7 L711.5 559.1 L712.0 556.3 L712.5 555.9 L713.0 556.4 L713.5 556.6 L714.0 556.5 L714.5 556.5 L715.0 556.3 L715.5 556.5 L716.0 555.3 L716.5 555.6 L717.0 555.7 L717.5 556.8 L718.0 560.0 L718.5 556.3 L719.0 556.0 L719.5 557.2 L720.0 558.8 L720.5 557.9 L721.0 555.8 L721.5 556.0 L722.0 556.9 L722.5 555.5 L723.0 557.9 L723.5 556.5 L724.0 556.4 L724.5 556.1 L725.0 558.1 L725.5 555.5 L726.0 555.8 L726.5 555.6 L727.0 555.9 L727.5 558.0 L728.0 557.0 L728.5 555.0 L729.0 555.0 L729.5 555.7 L730.0 555.5 L730.5 555.9 L731.0 556.5 L731.5 555.5 L732.0 555.5 L732.5 555.6 L733.0 556.1 L733.5 555.7 L734.0 556.0 L734.5 556.1 L735.0 555.4 L735.5 556.0 L736.0 555.3 L736.5 555.9 L737.0 555.9 L737.5 556.6 L738.0 555.3 L738.5 557.2 L739.0 554.8 L739.5 556.8 L740.0 556.0 L740.5 556.0 L741.0 554.5 L741.5 554.5 L742.0 556.6 L742.5 554.8 L743.0 555.5 L743.5 554.7 L744.0 554.7 L744.5 554.7 L745.0 558.0 L745.5 555.8 L746.0 555.9 L746.5 555.7 L747.0 554.1 L747.5 555.1 L748.0 554.4 L748.5 554.1 L749.0 553.9 L749.5 554.8 L750.0 556.1 L750.5 557.0 L751.0 553.4 L751.5 553.7 L752.0 554.0 L752.5 554.3 L753.0 554.0 L753.5 553.1 L754.0 552.2 L754.5 553.2 L755.0 553.3 L755.5 552.1 L756.0 552.0 L756.5 553.2 L757.0 552.0 L757.5 551.5 L758.0 550.8 L758.5 551.1 L759.0 550.5 L759.5 550.6 L760.0 549.6 L760.5 549.5 L761.0 549.1 L761.5 549.4 L762.0 550.2 L762.5 548.7 L763.0 548.7 L763.5 548.2 L764.0 548.2 L764.5 547.5 L765.0 548.0 L765.5 547.5 L766.0 546.9 L766.5 546.7 L767.0 546.6 L767.5 546.5 L768.0 546.1 L768.5 545.8 L769.0 545.9 L769.5 545.9 L770.0 545.4 L770.5 546.0 L771.0 545.1 L771.5 544.9 L772.0 545.3 L772.5 545.8 L773.0 546.0 L773.5 545.9 L774.0 545.9 L774.5 545.6 L775.0 547.2 L775.5 545.7 L776.0 546.1 L776.5 546.4 L777.0 546.8 L777.5 547.3 L778.0 547.0 L778.5 547.3 L779.0 547.6 L779.5 547.1 L780.0 547.3 L780.5 547.4 L781.0 548.0 L781.5 548.0 L782.0 548.1 L782.5 548.5 L783.0 548.4 L783.5 549.1 L784.0 549.6 L784.5 549.6 L785.0 549.4 L785.5 549.3 L786.0 550.1 L786.5 550.2 L787.0 550.1 L787.5 550.2 L788.0 550.6 L788.5 550.8 L789.0 550.8 L789.5 551.0 L790.0 550.8 L790.5 550.8 L791.0 552.3 L791.5 551.5 L792.0 551.8 L792.5 552.7 L793.0 552.0 L793.5 552.0 L794.0 552.1 L794.5 552.9 L795.0 552.5 L795.5 552.4 L796.0 552.7 L796.5 552.9 L797.0 552.6 L797.5 553.1 L798.0 552.7 L798.5 553.8 L799.0 553.4 L799.5 553.0 L800.0 553.3 L800.5 553.3 L801.0 553.3 L801.5 553.5 L802.0 553.6 L802.5 553.1 L803.0 553.7 L803.5 554.2 L804.0 553.4 L804.5 554.3 L805.0 553.6 L805.5 554.1 L806.0 554.2 L806.5 553.8 L807.0 554.0 L807.5 554.0 L808.0 553.8 L808.5 554.2 L809.0 554.6 L809.5 554.6 L810.0 554.5 L810.5 555.1 L811.0 555.2 L811.5 554.4 L812.0 554.4 L812.5 554.8 L813.0 554.9 L813.5 554.8 L814.0 555.4 L814.5 554.7 L815.0 554.7 L815.5 555.2 L816.0 555.0 L816.5 554.9 L817.0 554.7 L817.5 554.9 L818.0 555.2 L818.5 555.7 L819.0 554.9 L819.5 555.2 L820.0 555.3 L820.5 555.1 L821.0 555.3 L821.5 555.7 L822.0 555.3 L822.5 554.9 L823.0 555.8 L823.5 555.3" fill="none" stroke="#c00000" stroke-width="3.6" stroke-linejoin="round" stroke-linecap="round"/>
<path d="M125.5 648.0 L126.0 647.8 L126.5 649.0 L127.0 648.4 L127.5 649.4 L128.0 648.7 L128.5 648.2 L129.0 649.7 L129.5 648.5 L130.0 648.8 L130.5 649.2 L131.0 648.1 L131.5 648.3 L132.0 648.5 L132.5 649.0 L133.0 649.8 L133.5 649.5 L134.0 648.8 L134.5 648.8 L135.0 649.3 L135.5 649.2 L136.0 647.7 L136.5 648.8 L137.0 649.7 L137.5 649.3 L138.0 649.2 L138.5 648.9 L139.0 648.2 L139.5 648.6 L140.0 648.5 L140.5 648.4 L141.0 648.0 L141.5 648.3 L142.0 649.3 L142.5 649.7 L143.0 647.8 L143.5 649.0 L144.0 649.6 L144.5 649.1 L145.0 648.2 L145.5 648.1 L146.0 648.7 L146.5 648.5 L147.0 648.5 L147.5 648.3 L148.0 648.9 L148.5 650.0 L149.0 648.8 L149.5 648.9 L150.0 648.2 L150.5 648.9 L151.0 649.5 L151.5 647.9 L152.0 648.6 L152.5 648.9 L153.0 650.0 L153.5 649.3 L154.0 648.6 L154.5 650.5 L155.0 649.7 L155.5 648.6 L156.0 650.6 L156.5 649.7 L157.0 649.8 L157.5 648.2 L158.0 649.8 L158.5 649.2 L159.0 648.8 L159.5 648.9 L160.0 649.2 L160.5 648.9 L161.0 649.5 L161.5 648.9 L162.0 648.6 L162.5 649.7 L163.0 648.6 L163.5 648.6 L164.0 648.6 L164.5 648.7 L165.0 649.1 L165.5 649.4 L166.0 649.3 L166.5 649.9 L167.0 648.4 L167.5 648.8 L168.0 648.9 L168.5 648.9 L169.0 648.6 L169.5 650.0 L170.0 648.2 L170.5 649.5 L171.0 649.9 L171.5 649.0 L172.0 649.5 L172.5 647.9 L173.0 648.4 L173.5 650.2 L174.0 649.4 L174.5 648.3 L175.0 648.5 L175.5 648.7 L176.0 649.3 L176.5 649.1 L177.0 648.8 L177.5 648.7 L178.0 648.6 L178.5 648.9 L179.0 648.6 L179.5 647.8 L180.0 649.3 L180.5 648.5 L181.0 650.3 L181.5 650.0 L182.0 649.0 L182.5 648.9 L183.0 648.8 L183.5 648.4 L184.0 649.6 L184.5 649.9 L185.0 648.6 L185.5 648.0 L186.0 648.0 L186.5 649.0 L187.0 647.5 L187.5 649.5 L188.0 649.2 L188.5 648.2 L189.0 648.7 L189.5 648.2 L190.0 647.9 L190.5 648.1 L191.0 648.3 L191.5 648.1 L192.0 648.4 L192.5 647.7 L193.0 648.4 L193.5 648.3 L194.0 648.2 L194.5 648.1 L195.0 648.6 L195.5 647.4 L196.0 648.2 L196.5 648.0 L197.0 649.2 L197.5 648.0 L198.0 648.0 L198.5 648.2 L199.0 647.9 L199.5 647.9 L200.0 649.1 L200.5 648.6 L201.0 647.9 L201.5 648.7 L202.0 649.6 L202.5 648.0 L203.0 647.5 L203.5 647.5 L204.0 647.5 L204.5 648.0 L205.0 649.0 L205.5 647.8 L206.0 648.0 L206.5 647.9 L207.0 649.0 L207.5 647.5 L208.0 648.0 L208.5 647.0 L209.0 648.3 L209.5 647.1 L210.0 647.7 L210.5 647.1 L211.0 648.9 L211.5 646.9 L212.0 647.3 L212.5 646.5 L213.0 646.6 L213.5 646.4 L214.0 646.8 L214.5 647.3 L215.0 646.6 L215.5 646.4 L216.0 646.2 L216.5 646.3 L217.0 646.3 L217.5 646.6 L218.0 646.2 L218.5 646.1 L219.0 645.8 L219.5 645.8 L220.0 645.7 L220.5 645.7 L221.0 645.6 L221.5 645.5 L222.0 645.3 L222.5 645.4 L223.0 645.6 L223.5 645.4 L224.0 645.0 L224.5 645.0 L225.0 644.8 L225.5 644.7 L226.0 644.6 L226.5 644.5 L227.0 643.9 L227.5 644.4 L228.0 644.1 L228.5 643.9 L229.0 643.9 L229.5 643.9 L230.0 643.8 L230.5 643.3 L231.0 643.3 L231.5 643.3 L232.0 643.1 L232.5 643.0 L233.0 642.5 L233.5 642.8 L234.0 642.2 L234.5 642.4 L235.0 642.8 L235.5 642.3 L236.0 642.0 L236.5 642.3 L237.0 642.1 L237.5 641.6 L238.0 641.5 L238.5 641.4 L239.0 641.4 L239.5 641.0 L240.0 640.7 L240.5 640.4 L241.0 640.5 L241.5 640.6 L242.0 640.1 L242.5 639.8 L243.0 640.1 L243.5 639.4 L244.0 639.7 L244.5 639.3 L245.0 639.2 L245.5 639.3 L246.0 638.9 L246.5 638.5 L247.0 638.7 L247.5 638.6 L248.0 638.5 L248.5 638.7 L249.0 638.5 L249.5 639.0 L250.0 639.4 L250.5 639.5 L251.0 639.6 L251.5 640.1 L252.0 640.7 L252.5 640.7 L253.0 640.7 L253.5 640.8 L254.0 641.2 L254.5 641.4 L255.0 641.7 L255.5 641.6 L256.0 641.9 L256.5 642.2 L257.0 642.6 L257.5 642.6 L258.0 642.7 L258.5 642.8 L259.0 643.0 L259.5 643.0 L260.0 643.4 L260.5 643.7 L261.0 643.9 L261.5 643.6 L262.0 643.7 L262.5 643.4 L263.0 643.9 L263.5 643.7 L264.0 643.6 L264.5 643.5 L265.0 643.3 L265.5 643.1 L266.0 643.4 L266.5 643.2 L267.0 643.0 L267.5 642.9 L268.0 643.3 L268.5 642.9 L269.0 642.8 L269.5 643.0 L270.0 643.1 L270.5 642.2 L271.0 642.0 L271.5 642.0 L272.0 641.7 L272.5 642.2 L273.0 640.9 L273.5 640.7 L274.0 640.5 L274.5 640.6 L275.0 640.1 L275.5 640.1 L276.0 639.3 L276.5 639.3 L277.0 639.1 L277.5 638.7 L278.0 638.2 L278.5 638.4 L279.0 637.7 L279.5 637.6 L280.0 636.8 L280.5 636.6 L281.0 636.2 L281.5 636.6 L282.0 635.5 L282.5 635.2 L283.0 635.3 L283.5 634.6 L284.0 634.7 L284.5 634.4 L285.0 634.9 L285.5 635.0 L286.0 635.6 L286.5 636.3 L287.0 637.2 L287.5 637.7 L288.0 638.4 L288.5 638.7 L289.0 639.2 L289.5 639.8 L290.0 640.4 L290.5 640.6 L291.0 640.9 L291.5 641.1 L292.0 642.2 L292.5 642.5 L293.0 642.2 L293.5 642.9 L294.0 643.1 L294.5 643.2 L295.0 643.6 L295.5 643.6 L296.0 644.2 L296.5 644.8 L297.0 644.7 L297.5 645.0 L298.0 645.1 L298.5 645.5 L299.0 645.5 L299.5 645.3 L300.0 645.6 L300.5 645.2 L301.0 645.5 L301.5 646.4 L302.0 645.9 L302.5 646.0 L303.0 646.1 L303.5 646.4 L304.0 647.0 L304.5 646.7 L305.0 646.9 L305.5 646.8 L306.0 646.7 L306.5 646.7 L307.0 646.7 L307.5 646.9 L308.0 647.5 L308.5 647.7 L309.0 647.3 L309.5 648.1 L310.0 648.6 L310.5 647.1 L311.0 648.1 L311.5 647.6 L312.0 647.5 L312.5 646.9 L313.0 647.5 L313.5 647.8 L314.0 647.2 L314.5 647.5 L315.0 647.4 L315.5 652.4 L316.0 648.0 L316.5 648.0 L317.0 649.0 L317.5 648.1 L318.0 648.5 L318.5 647.9 L319.0 648.0 L319.5 648.5 L320.0 648.1 L320.5 648.1 L321.0 649.1 L321.5 647.7 L322.0 648.2 L322.5 648.3 L323.0 648.2 L323.5 647.7 L324.0 649.6 L324.5 648.7 L325.0 648.2 L325.5 649.2 L326.0 648.3 L326.5 648.0 L327.0 648.3 L327.5 647.8 L328.0 649.1 L328.5 649.9 L329.0 648.1 L329.5 648.1 L330.0 648.4 L330.5 649.0 L331.0 648.8 L331.5 648.3 L332.0 648.0 L332.5 647.9 L333.0 648.9 L333.5 651.8 L334.0 648.6 L334.5 648.0 L335.0 648.8 L335.5 648.5 L336.0 647.8 L336.5 651.3 L337.0 648.1 L337.5 648.2 L338.0 648.6 L338.5 648.4 L339.0 648.3 L339.5 651.0 L340.0 649.0 L340.5 648.2 L341.0 648.3 L341.5 648.7 L342.0 650.0 L342.5 648.5 L343.0 648.5 L343.5 649.1 L344.0 649.2 L344.5 648.9 L345.0 649.4 L345.5 648.3 L346.0 648.9 L346.5 648.0 L347.0 649.8 L347.5 649.1 L348.0 649.5 L348.5 648.9 L349.0 649.5 L349.5 648.2 L350.0 649.2 L350.5 648.5 L351.0 648.5 L351.5 648.7 L352.0 649.4 L352.5 649.0 L353.0 648.6 L353.5 650.9 L354.0 649.5 L354.5 649.4 L355.0 648.9 L355.5 648.6 L356.0 648.5 L356.5 648.7 L357.0 648.6 L357.5 648.7 L358.0 649.3 L358.5 649.7 L359.0 648.9 L359.5 648.7 L360.0 649.6 L360.5 649.5 L361.0 651.4 L361.5 648.7 L362.0 649.1 L362.5 649.2 L363.0 649.0 L363.5 648.3 L364.0 649.8 L364.5 648.5 L365.0 648.7 L365.5 649.2 L366.0 649.6 L366.5 649.9 L367.0 648.7 L367.5 648.9 L368.0 649.4 L368.5 648.8 L369.0 649.6 L369.5 649.8 L370.0 649.3 L370.5 648.6 L371.0 649.6 L371.5 648.9 L372.0 648.3 L372.5 649.4 L373.0 648.6 L373.5 648.8 L374.0 649.4 L374.5 648.5 L375.0 649.6 L375.5 649.2 L376.0 648.4 L376.5 649.3 L377.0 650.7 L377.5 649.8 L378.0 649.5 L378.5 649.3 L379.0 648.8 L379.5 650.3 L380.0 650.1 L380.5 649.8 L381.0 649.8 L381.5 649.0 L382.0 648.8 L382.5 648.4 L383.0 649.3 L383.5 649.7 L384.0 648.8 L384.5 649.3 L385.0 649.6 L385.5 650.1 L386.0 649.1 L386.5 648.7 L387.0 649.3 L387.5 648.9 L388.0 650.6 L388.5 649.1 L389.0 648.6 L389.5 649.4 L390.0 648.7 L390.5 649.1 L391.0 648.8 L391.5 649.8 L392.0 649.3 L392.5 649.2 L393.0 648.1 L393.5 649.9 L394.0 649.6 L394.5 649.1 L395.0 648.2 L395.5 648.7 L396.0 650.1 L396.5 649.9 L397.0 648.4 L397.5 648.8 L398.0 649.9 L398.5 649.8 L399.0 648.9 L399.5 649.8 L400.0 649.0 L400.5 650.2 L401.0 648.7 L401.5 648.8 L402.0 649.5 L402.5 648.4 L403.0 649.1 L403.5 648.5 L404.0 648.3 L404.5 648.4 L405.0 648.5 L405.5 648.2 L406.0 650.5 L406.5 649.7 L407.0 648.9 L407.5 648.1 L408.0 648.5 L408.5 649.4 L409.0 648.3 L409.5 649.5 L410.0 649.4 L410.5 648.5 L411.0 648.2 L411.5 649.0 L412.0 649.3 L412.5 648.6 L413.0 649.2 L413.5 651.0 L414.0 648.5 L414.5 647.8 L415.0 648.0 L415.5 649.2 L416.0 648.8 L416.5 649.5 L417.0 649.2 L417.5 648.3 L418.0 648.2 L418.5 648.8 L419.0 648.4 L419.5 648.9 L420.0 648.1 L420.5 647.6 L421.0 649.1 L421.5 648.8 L422.0 650.9 L422.5 647.9 L423.0 647.5 L423.5 648.4 L424.0 647.9 L424.5 647.9 L425.0 647.9 L425.5 649.3 L426.0 651.9 L426.5 648.6 L427.0 647.7 L427.5 647.8 L428.0 647.8 L428.5 647.5 L429.0 647.4 L429.5 648.1 L430.0 647.6 L430.5 647.7 L431.0 647.3 L431.5 646.5 L432.0 647.5 L432.5 647.3 L433.0 647.7 L433.5 647.2 L434.0 646.7 L434.5 646.7 L435.0 646.7 L435.5 647.5 L436.0 646.0 L436.5 646.2 L437.0 646.2 L437.5 646.2 L438.0 645.4 L438.5 645.8 L439.0 646.6 L439.5 645.7 L440.0 645.7 L440.5 645.7 L441.0 645.5 L441.5 645.3 L442.0 645.7 L442.5 645.0 L443.0 645.2 L443.5 644.9 L444.0 644.9 L444.5 645.3 L445.0 644.4 L445.5 644.8 L446.0 644.7 L446.5 644.0 L447.0 643.7 L447.5 643.7 L448.0 643.5 L448.5 643.0 L449.0 642.9 L449.5 642.5 L450.0 641.9 L450.5 641.7 L451.0 641.2 L451.5 640.8 L452.0 640.1 L452.5 640.0 L453.0 639.6 L453.5 638.9 L454.0 638.6 L454.5 638.3 L455.0 637.7 L455.5 637.0 L456.0 636.4 L456.5 635.0 L457.0 634.1 L457.5 633.6 L458.0 632.9 L458.5 630.9 L459.0 629.4 L459.5 628.4 L460.0 625.8 L460.5 624.0 L461.0 621.8 L461.5 619.9 L462.0 616.5 L462.5 611.3 L463.0 604.4 L463.5 595.8 L464.0 585.2 L464.5 575.2 L465.0 568.5 L465.5 574.7 L466.0 584.2 L466.5 594.4 L467.0 602.9 L467.5 609.8 L468.0 615.8 L468.5 618.7 L469.0 620.9 L469.5 623.3 L470.0 624.8 L470.5 626.5 L471.0 628.2 L471.5 629.9 L472.0 631.5 L472.5 632.8 L473.0 633.7 L473.5 634.1 L474.0 635.2 L474.5 636.0 L475.0 636.9 L475.5 637.5 L476.0 638.1 L476.5 638.9 L477.0 639.0 L477.5 639.5 L478.0 639.8 L478.5 640.5 L479.0 640.8 L479.5 641.2 L480.0 642.4 L480.5 641.9 L481.0 642.2 L481.5 642.5 L482.0 642.8 L482.5 643.3 L483.0 643.5 L483.5 643.8 L484.0 643.7 L484.5 643.9 L485.0 644.4 L485.5 644.4 L486.0 644.6 L486.5 644.8 L487.0 645.1 L487.5 644.8 L488.0 645.4 L488.5 644.8 L489.0 645.3 L489.5 645.3 L490.0 645.4 L490.5 645.7 L491.0 647.3 L491.5 646.2 L492.0 646.7 L492.5 646.5 L493.0 647.2 L493.5 645.6 L494.0 646.7 L494.5 646.4 L495.0 646.3 L495.5 646.8 L496.0 647.3 L496.5 647.5 L497.0 647.5 L497.5 646.6 L498.0 645.9 L498.5 647.0 L499.0 647.0 L499.5 648.0 L500.0 647.4 L500.5 646.2 L501.0 647.7 L501.5 648.2 L502.0 647.6 L502.5 647.3 L503.0 647.8 L503.5 647.6 L504.0 647.6 L504.5 648.1 L505.0 648.2 L505.5 648.1 L506.0 648.1 L506.5 647.7 L507.0 648.3 L507.5 649.3 L508.0 647.8 L508.5 646.7 L509.0 648.5 L509.5 649.7 L510.0 647.8 L510.5 647.6 L511.0 648.0 L511.5 648.5 L512.0 648.3 L512.5 648.6 L513.0 648.8 L513.5 650.2 L514.0 648.7 L514.5 648.6 L515.0 649.1 L515.5 648.7 L516.0 648.5 L516.5 648.1 L517.0 647.9 L517.5 650.9 L518.0 649.1 L518.5 648.6 L519.0 648.3 L519.5 648.7 L520.0 647.9 L520.5 648.9 L521.0 648.9 L521.5 649.5 L522.0 648.7 L522.5 649.9 L523.0 648.5 L523.5 648.3 L524.0 649.6 L524.5 649.2 L525.0 650.1 L525.5 648.1 L526.0 648.8 L526.5 648.7 L527.0 649.0 L527.5 647.8 L528.0 649.2 L528.5 649.1 L529.0 648.3 L529.5 648.2 L530.0 649.4 L530.5 648.6 L531.0 651.9 L531.5 648.6 L532.0 649.2 L532.5 649.9 L533.0 649.2 L533.5 652.1 L534.0 647.7 L534.5 649.3 L535.0 648.2 L535.5 649.2 L536.0 648.8 L536.5 649.9 L537.0 650.2 L537.5 648.5 L538.0 649.4 L538.5 650.3 L539.0 649.8 L539.5 650.1 L540.0 648.7 L540.5 648.2 L541.0 648.7 L541.5 650.0 L542.0 648.9 L542.5 648.5 L543.0 648.4 L543.5 649.7 L544.0 649.8 L544.5 649.8 L545.0 649.1 L545.5 648.9 L546.0 649.5 L546.5 650.3 L547.0 649.5 L547.5 648.8 L548.0 649.5 L548.5 648.6 L549.0 649.0 L549.5 650.1 L550.0 649.6 L550.5 651.1 L551.0 649.4 L551.5 649.9 L552.0 650.1 L552.5 650.4 L553.0 649.2 L553.5 648.4 L554.0 651.4 L554.5 649.6 L555.0 649.2 L555.5 649.4 L556.0 650.0 L556.5 650.3 L557.0 649.4 L557.5 650.3 L558.0 650.0 L558.5 649.9 L559.0 652.0 L559.5 649.5 L560.0 649.8 L560.5 649.5 L561.0 650.2 L561.5 649.4 L562.0 649.3 L562.5 650.0 L563.0 649.2 L563.5 648.0 L564.0 649.3 L564.5 649.2 L565.0 650.8 L565.5 649.8 L566.0 649.7 L566.5 649.9 L567.0 649.5 L567.5 650.5 L568.0 650.3 L568.5 649.1 L569.0 650.0 L569.5 650.7 L570.0 648.8 L570.5 651.4 L571.0 649.6 L571.5 649.7 L572.0 648.7 L572.5 650.8 L573.0 649.8 L573.5 649.1 L574.0 651.1 L574.5 648.3 L575.0 649.4 L575.5 650.0 L576.0 651.1 L576.5 649.3 L577.0 651.2 L577.5 649.8 L578.0 650.2 L578.5 650.2 L579.0 650.4 L579.5 650.3 L580.0 650.1 L580.5 649.2 L581.0 650.2 L581.5 650.0 L582.0 649.9 L582.5 650.4 L583.0 651.3 L583.5 650.0 L584.0 650.1 L584.5 651.1 L585.0 649.8 L585.5 649.4 L586.0 649.0 L586.5 648.6 L587.0 649.9 L587.5 649.8 L588.0 650.1 L588.5 652.4 L589.0 650.4 L589.5 649.6 L590.0 649.6 L590.5 649.2 L591.0 650.1 L591.5 650.3 L592.0 649.9 L592.5 649.2 L593.0 650.3 L593.5 650.0 L594.0 650.9 L594.5 649.6 L595.0 650.7 L595.5 651.7 L596.0 651.3 L596.5 650.4 L597.0 649.7 L597.5 650.5 L598.0 650.2 L598.5 649.1 L599.0 649.7 L599.5 650.1 L600.0 650.3 L600.5 650.7 L601.0 650.1 L601.5 650.7 L602.0 650.0 L602.5 651.1 L603.0 649.1 L603.5 649.9 L604.0 650.9 L604.5 649.6 L605.0 649.6 L605.5 649.7 L606.0 651.0 L606.5 649.8 L607.0 650.7 L607.5 650.3 L608.0 650.3 L608.5 649.3 L609.0 650.1 L609.5 649.4 L610.0 650.0 L610.5 651.1 L611.0 650.3 L611.5 649.1 L612.0 649.7 L612.5 648.9 L613.0 648.4 L613.5 651.0 L614.0 649.6 L614.5 650.4 L615.0 650.2 L615.5 649.9 L616.0 649.5 L616.5 650.8 L617.0 650.4 L617.5 650.6 L618.0 649.1 L618.5 649.1 L619.0 651.1 L619.5 650.1 L620.0 649.3 L620.5 649.2 L621.0 649.8 L621.5 649.8 L622.0 649.2 L622.5 650.1 L623.0 649.8 L623.5 649.4 L624.0 650.1 L624.5 650.0 L625.0 649.7 L625.5 649.7 L626.0 649.2 L626.5 649.5 L627.0 650.2 L627.5 650.4 L628.0 652.0 L628.5 651.6 L629.0 650.5 L629.5 649.5 L630.0 650.2 L630.5 650.6 L631.0 652.3 L631.5 649.6 L632.0 650.1 L632.5 651.0 L633.0 649.3 L633.5 650.3 L634.0 650.0 L634.5 649.7 L635.0 649.4 L635.5 650.2 L636.0 650.2 L636.5 649.6 L637.0 649.0 L637.5 649.4 L638.0 649.7 L638.5 649.6 L639.0 649.7 L639.5 653.1 L640.0 649.7 L640.5 649.6 L641.0 651.0 L641.5 649.4 L642.0 650.2 L642.5 650.4 L643.0 650.1 L643.5 650.4 L644.0 649.3 L644.5 649.1 L645.0 650.5 L645.5 649.6 L646.0 650.4 L646.5 649.5 L647.0 649.6 L647.5 650.5 L648.0 649.5 L648.5 650.1 L649.0 649.3 L649.5 650.8 L650.0 650.3 L650.5 650.2 L651.0 649.9 L651.5 650.5 L652.0 650.1 L652.5 649.6 L653.0 650.0 L653.5 650.4 L654.0 649.7 L654.5 649.5 L655.0 650.2 L655.5 652.0 L656.0 650.2 L656.5 650.0 L657.0 650.4 L657.5 649.5 L658.0 649.7 L658.5 650.5 L659.0 649.3 L659.5 649.4 L660.0 649.2 L660.5 649.8 L661.0 650.3 L661.5 649.4 L662.0 649.0 L662.5 649.5 L663.0 650.3 L663.5 650.6 L664.0 648.9 L664.5 649.6 L665.0 649.3 L665.5 649.5 L666.0 649.1 L666.5 649.5 L667.0 649.6 L667.5 650.3 L668.0 649.9 L668.5 649.8 L669.0 649.9 L669.5 648.7 L670.0 648.9 L670.5 649.4 L671.0 648.9 L671.5 648.9 L672.0 648.9 L672.5 648.8 L673.0 648.5 L673.5 648.5 L674.0 649.2 L674.5 648.8 L675.0 648.6 L675.5 648.4 L676.0 648.6 L676.5 648.7 L677.0 648.4 L677.5 648.5 L678.0 647.8 L678.5 648.2 L679.0 648.1 L679.5 648.0 L680.0 647.7 L680.5 647.2 L681.0 647.8 L681.5 647.0 L682.0 647.5 L682.5 647.1 L683.0 647.0 L683.5 647.2 L684.0 647.1 L684.5 646.5 L685.0 646.5 L685.5 646.4 L686.0 645.7 L686.5 645.4 L687.0 645.6 L687.5 644.9 L688.0 644.8 L688.5 644.6 L689.0 645.0 L689.5 644.5 L690.0 644.0 L690.5 643.7 L691.0 643.5 L691.5 643.5 L692.0 643.0 L692.5 642.8 L693.0 643.0 L693.5 642.2 L694.0 642.2 L694.5 641.7 L695.0 641.6 L695.5 641.9 L696.0 641.5 L696.5 640.8 L697.0 641.0 L697.5 640.9 L698.0 641.1 L698.5 640.9 L699.0 641.2 L699.5 641.0 L700.0 641.0 L700.5 641.4 L701.0 641.6 L701.5 641.5 L702.0 641.5 L702.5 641.7 L703.0 641.7 L703.5 642.7 L704.0 641.8 L704.5 642.1 L705.0 641.8 L705.5 642.3 L706.0 642.9 L706.5 643.2 L707.0 642.4 L707.5 642.5 L708.0 642.9 L708.5 643.5 L709.0 643.4 L709.5 644.0 L710.0 643.5 L710.5 644.2 L711.0 644.3 L711.5 643.9 L712.0 644.5 L712.5 644.4 L713.0 644.5 L713.5 644.9 L714.0 644.9 L714.5 644.9 L715.0 645.2 L715.5 645.1 L716.0 645.7 L716.5 645.4 L717.0 645.6 L717.5 646.3 L718.0 645.8 L718.5 646.1 L719.0 646.3 L719.5 646.5 L720.0 646.6 L720.5 646.1 L721.0 646.1 L721.5 646.2 L722.0 646.5 L722.5 646.5 L723.0 647.5 L723.5 646.9 L724.0 646.7 L724.5 647.2 L725.0 647.5 L725.5 648.3 L726.0 647.1 L726.5 647.4 L727.0 647.6 L727.5 647.3 L728.0 647.3 L728.5 647.9 L729.0 647.7 L729.5 647.7 L730.0 650.5 L730.5 648.3 L731.0 648.1 L731.5 647.3 L732.0 648.2 L732.5 646.5 L733.0 648.4 L733.5 648.2 L734.0 647.6 L734.5 648.1 L735.0 647.8 L735.5 648.4 L736.0 648.6 L736.5 649.3 L737.0 649.0 L737.5 648.6 L738.0 648.2 L738.5 648.7 L739.0 648.2 L739.5 649.0 L740.0 648.0 L740.5 648.9 L741.0 648.0 L741.5 650.3 L742.0 648.9 L742.5 647.8 L743.0 649.5 L743.5 649.5 L744.0 648.7 L744.5 649.8 L745.0 647.7 L745.5 648.2 L746.0 648.7 L746.5 650.2 L747.0 648.6 L747.5 648.4 L748.0 647.9 L748.5 648.5 L749.0 650.1 L749.5 649.0 L750.0 647.9 L750.5 648.6 L751.0 649.9 L751.5 648.8 L752.0 649.1 L752.5 648.9 L753.0 649.2 L753.5 649.0 L754.0 649.4 L754.5 649.0 L755.0 649.0 L755.5 649.1 L756.0 649.5 L756.5 647.9 L757.0 649.3 L757.5 649.8 L758.0 649.1 L758.5 648.0 L759.0 650.2 L759.5 648.9 L760.0 649.2 L760.5 649.4 L761.0 650.4 L761.5 648.9 L762.0 648.9 L762.5 650.0 L763.0 649.6 L763.5 650.1 L764.0 649.1 L764.5 648.0 L765.0 649.0 L765.5 648.6 L766.0 649.5 L766.5 649.2 L767.0 649.4 L767.5 648.6 L768.0 650.7 L768.5 647.9 L769.0 649.7 L769.5 648.6 L770.0 647.7 L770.5 650.9 L771.0 648.3 L771.5 650.7 L772.0 649.2 L772.5 649.5 L773.0 649.6 L773.5 648.9 L774.0 649.6 L774.5 649.4 L775.0 650.2 L775.5 648.2 L776.0 648.7 L776.5 647.9 L777.0 648.8 L777.5 649.6 L778.0 650.5 L778.5 649.0 L779.0 651.2 L779.5 647.3 L780.0 647.6 L780.5 649.9 L781.0 648.3 L781.5 649.0 L782.0 648.8 L782.5 649.2 L783.0 648.4 L783.5 649.0 L784.0 650.0 L784.5 649.8 L785.0 648.4 L785.5 648.6 L786.0 649.3 L786.5 649.0 L787.0 649.4 L787.5 648.5 L788.0 649.8 L788.5 648.9 L789.0 650.0 L789.5 649.6 L790.0 649.0 L790.5 650.0 L791.0 648.7 L791.5 648.5 L792.0 649.5 L792.5 648.6 L793.0 649.5 L793.5 648.8 L794.0 649.4 L794.5 649.8 L795.0 649.3 L795.5 649.4 L796.0 649.0 L796.5 648.9 L797.0 650.9 L797.5 648.6 L798.0 648.9 L798.5 649.4 L799.0 649.6 L799.5 650.2 L800.0 650.0 L800.5 648.9 L801.0 650.4 L801.5 649.9 L802.0 648.9 L802.5 649.6 L803.0 651.3 L803.5 648.2 L804.0 650.3 L804.5 649.4 L805.0 649.7 L805.5 650.0 L806.0 649.8 L806.5 649.1 L807.0 649.4 L807.5 649.2 L808.0 649.3 L808.5 650.8 L809.0 648.3 L809.5 651.3 L810.0 648.9 L810.5 649.5 L811.0 649.6 L811.5 649.7 L812.0 648.2 L812.5 650.6 L813.0 649.2 L813.5 649.6 L814.0 650.1 L814.5 649.5 L815.0 649.1 L815.5 649.7 L816.0 649.9 L816.5 649.6 L817.0 648.7 L817.5 649.2 L818.0 648.7 L818.5 649.7 L819.0 648.6 L819.5 649.5 L820.0 649.2 L820.5 648.8 L821.0 649.2 L821.5 651.7 L822.0 649.5 L822.5 651.1 L823.0 651.9 L823.5 650.4" fill="none" stroke="#008000" stroke-width="3.6" stroke-linejoin="round" stroke-linecap="round"/>
<path d="M125.5 740.8 L125.8 739.4 L126.2 740.7 L126.5 741.6 L126.9 741.4 L127.2 740.5 L127.5 741.3 L127.9 740.5 L128.2 740.3 L128.6 742.3 L128.9 740.9 L129.2 740.2 L129.6 740.3 L129.9 741.5 L130.3 740.5 L130.6 740.1 L130.9 740.5 L131.3 740.3 L131.6 740.9 L132.0 740.6 L132.3 741.9 L132.6 740.8 L133.0 743.1 L133.3 740.7 L133.7 740.4 L134.0 742.3 L134.3 740.5 L134.7 741.1 L135.0 739.9 L135.4 740.5 L135.7 740.6 L136.0 740.8 L136.4 740.2 L136.7 741.5 L137.1 740.4 L137.4 740.7 L137.7 742.0 L138.1 741.0 L138.4 740.5 L138.8 740.5 L139.1 739.9 L139.4 740.1 L139.8 740.9 L140.1 740.5 L140.5 741.4 L140.8 741.0 L141.1 740.7 L141.5 740.1 L141.8 740.5 L142.2 741.0 L142.5 741.7 L142.8 741.2 L143.2 740.4 L143.5 741.1 L143.9 742.2 L144.2 741.0 L144.5 740.9 L144.9 740.7 L145.2 740.2 L145.6 740.2 L145.9 740.2 L146.2 740.8 L146.6 740.6 L146.9 740.1 L147.3 740.5 L147.6 740.6 L147.9 740.8 L148.3 739.6 L148.6 740.5 L149.0 740.0 L149.3 740.5 L149.6 740.2 L150.0 740.7 L150.3 740.5 L150.7 740.4 L151.0 741.2 L151.3 740.9 L151.7 743.4 L152.0 740.3 L152.4 740.3 L152.7 740.5 L153.0 739.7 L153.4 739.8 L153.7 740.8 L154.1 740.4 L154.4 739.8 L154.7 739.7 L155.1 740.1 L155.4 740.1 L155.8 740.1 L156.1 741.7 L156.4 740.6 L156.8 740.3 L157.1 739.8 L157.5 740.5 L157.8 741.7 L158.1 739.9 L158.5 739.9 L158.8 740.7 L159.2 742.5 L159.5 741.1 L159.8 741.0 L160.2 739.4 L160.5 739.5 L160.9 739.5 L161.2 739.7 L161.5 740.6 L161.9 739.3 L162.2 739.7 L162.6 739.5 L162.9 739.7 L163.2 740.6 L163.6 740.2 L163.9 739.9 L164.3 740.1 L164.6 739.7 L164.9 739.2 L165.3 739.3 L165.6 740.0 L166.0 740.0 L166.3 739.0 L166.6 739.6 L167.0 740.9 L167.3 739.4 L167.7 740.5 L168.0 739.3 L168.3 739.0 L168.7 738.5 L169.0 739.4 L169.4 738.4 L169.7 738.2 L170.0 739.8 L170.4 738.6 L170.7 738.9 L171.1 738.3 L171.4 739.1 L171.7 738.7 L172.1 738.0 L172.4 738.1 L172.8 738.3 L173.1 739.9 L173.4 738.6 L173.8 737.8 L174.1 738.3 L174.5 737.6 L174.8 738.1 L175.1 738.0 L175.5 737.4 L175.8 737.5 L176.2 737.2 L176.5 738.6 L176.8 738.4 L177.2 737.5 L177.5 737.1 L177.9 736.6 L178.2 736.7 L178.5 737.4 L178.9 736.8 L179.2 736.9 L179.6 737.3 L179.9 737.3 L180.2 736.6 L180.6 735.4 L180.9 735.9 L181.3 737.0 L181.6 736.0 L181.9 734.9 L182.3 736.5 L182.6 735.0 L183.0 735.7 L183.3 735.6 L183.6 735.3 L184.0 735.4 L184.3 735.6 L184.7 734.5 L185.0 734.7 L185.3 734.6 L185.7 734.4 L186.0 734.3 L186.4 734.3 L186.7 734.1 L187.0 734.2 L187.4 733.8 L187.7 734.4 L188.1 734.1 L188.4 733.8 L188.7 733.9 L189.1 733.5 L189.4 733.8 L189.8 733.8 L190.1 733.1 L190.4 734.0 L190.8 733.4 L191.1 733.0 L191.5 733.0 L191.8 732.8 L192.1 732.8 L192.5 732.8 L192.8 732.7 L193.2 732.8 L193.5 732.6 L193.8 732.7 L194.2 732.2 L194.5 732.3 L194.9 732.6 L195.2 732.1 L195.5 731.6 L195.9 731.9 L196.2 731.9 L196.6 731.8 L196.9 731.7 L197.2 731.9 L197.6 731.3 L197.9 731.1 L198.3 731.7 L198.6 731.5 L198.9 730.8 L199.3 731.1 L199.6 730.5 L200.0 730.7 L200.3 731.4 L200.6 730.8 L201.0 730.7 L201.3 731.0 L201.7 730.2 L202.0 730.5 L202.3 731.0 L202.7 730.5 L203.0 731.2 L203.4 731.2 L203.7 731.4 L204.0 731.4 L204.4 731.5 L204.7 731.6 L205.1 732.0 L205.4 731.5 L205.7 732.1 L206.1 732.4 L206.4 732.7 L206.8 732.6 L207.1 732.1 L207.4 733.4 L207.8 732.9 L208.1 733.2 L208.5 733.3 L208.8 733.5 L209.1 733.4 L209.5 733.1 L209.8 733.8 L210.2 733.3 L210.5 734.0 L210.8 734.3 L211.2 734.4 L211.5 734.6 L211.9 734.6 L212.2 734.8 L212.5 734.8 L212.9 734.8 L213.2 735.1 L213.6 735.2 L213.9 734.7 L214.2 734.8 L214.6 734.9 L214.9 734.8 L215.3 735.4 L215.6 735.1 L215.9 735.0 L216.3 735.0 L216.6 734.9 L217.0 735.1 L217.3 735.1 L217.6 735.0 L218.0 735.1 L218.3 735.1 L218.7 734.9 L219.0 735.6 L219.3 735.2 L219.7 735.1 L220.0 735.2 L220.4 734.9 L220.7 735.1 L221.0 734.9 L221.4 734.4 L221.7 734.3 L222.1 734.1 L222.4 734.8 L222.7 734.5 L223.1 734.5 L223.4 734.1 L223.8 734.3 L224.1 733.8 L224.4 733.9 L224.8 733.8 L225.1 733.9 L225.5 733.4 L225.8 734.0 L226.1 733.2 L226.5 733.4 L226.8 732.9 L227.2 733.1 L227.5 732.4 L227.8 732.5 L228.2 732.0 L228.5 731.6 L228.9 731.8 L229.2 731.2 L229.5 731.3 L229.9 731.3 L230.2 731.3 L230.6 730.8 L230.9 731.0 L231.2 730.3 L231.6 730.2 L231.9 730.2 L232.3 729.6 L232.6 730.2 L232.9 729.4 L233.3 729.0 L233.6 729.1 L234.0 728.6 L234.3 728.3 L234.6 728.7 L235.0 728.3 L235.3 727.8 L235.7 727.7 L236.0 727.7 L236.3 727.3 L236.7 727.0 L237.0 727.4 L237.4 727.1 L237.7 727.6 L238.0 728.1 L238.4 728.3 L238.7 728.7 L239.1 729.1 L239.4 729.3 L239.7 729.9 L240.1 729.9 L240.4 730.2 L240.8 730.6 L241.1 731.2 L241.4 731.3 L241.8 731.9 L242.1 731.8 L242.5 731.8 L242.8 732.4 L243.1 732.7 L243.5 732.6 L243.8 733.3 L244.2 733.4 L244.5 733.4 L244.8 734.1 L245.2 734.2 L245.5 734.1 L245.9 733.9 L246.2 734.4 L246.5 734.6 L246.9 735.1 L247.2 735.5 L247.6 735.2 L247.9 735.2 L248.2 735.6 L248.6 735.4 L248.9 736.3 L249.3 736.1 L249.6 736.1 L249.9 735.9 L250.3 736.4 L250.6 736.6 L251.0 736.4 L251.3 736.5 L251.6 737.2 L252.0 737.2 L252.3 737.0 L252.7 737.3 L253.0 737.3 L253.3 737.3 L253.7 737.4 L254.0 737.6 L254.4 737.4 L254.7 737.7 L255.0 737.9 L255.4 737.9 L255.7 738.0 L256.1 737.8 L256.4 738.1 L256.7 738.5 L257.1 738.2 L257.4 738.8 L257.8 738.3 L258.1 738.1 L258.4 738.5 L258.8 738.6 L259.1 738.9 L259.5 739.4 L259.8 739.0 L260.1 739.0 L260.5 738.7 L260.8 738.7 L261.2 738.9 L261.5 739.2 L261.8 738.9 L262.2 739.4 L262.5 739.2 L262.9 739.6 L263.2 739.6 L263.5 740.1 L263.9 739.7 L264.2 740.4 L264.6 739.5 L264.9 739.7 L265.2 739.9 L265.6 739.4 L265.9 740.3 L266.3 739.8 L266.6 739.3 L266.9 740.3 L267.3 739.5 L267.6 740.2 L268.0 739.5 L268.3 739.6 L268.6 740.0 L269.0 739.8 L269.3 739.5 L269.7 739.8 L270.0 740.1 L270.3 739.9 L270.7 739.5 L271.0 739.7 L271.4 739.9 L271.7 740.1 L272.0 740.4 L272.4 739.9 L272.7 740.0 L273.1 740.3 L273.4 739.8 L273.7 740.2 L274.1 739.6 L274.4 740.7 L274.8 740.2 L275.1 739.7 L275.4 740.5 L275.8 740.3 L276.1 740.3 L276.5 740.2 L276.8 740.3 L277.1 740.0 L277.5 740.2 L277.8 740.3 L278.2 740.2 L278.5 740.0 L278.8 740.6 L279.2 740.4 L279.5 740.1 L279.9 740.5 L280.2 740.4 L280.5 740.2 L280.9 740.6 L281.2 740.3 L281.6 740.2 L281.9 740.5 L282.2 741.5 L282.6 740.2 L282.9 740.1 L283.3 740.6 L283.6 740.3 L283.9 740.5 L284.3 740.4 L284.6 740.4 L285.0 740.6 L285.3 740.3 L285.6 740.3 L286.0 740.5 L286.3 740.6 L286.7 740.7 L287.0 740.6 L287.3 740.6 L287.7 740.6 L288.0 740.8 L288.4 740.6 L288.7 740.3 L289.0 740.9 L289.4 740.6 L289.7 740.9 L290.1 741.1 L290.4 740.3 L290.7 740.6 L291.1 742.5 L291.4 740.8 L291.8 740.2 L292.1 741.0 L292.4 741.9 L292.8 742.6 L293.1 740.9 L293.5 743.0 L293.8 741.5 L294.1 743.1 L294.5 746.0 L294.8 740.9 L295.2 741.4 L295.5 741.8 L295.8 740.4 L296.2 740.5 L296.5 740.8 L296.9 742.8 L297.2 742.6 L297.5 743.0 L297.9 740.6 L298.2 740.8 L298.6 741.7 L298.9 741.2 L299.2 741.7 L299.6 740.7 L299.9 745.3 L300.3 744.4 L300.6 740.7 L300.9 741.9 L301.3 742.8 L301.6 741.0 L302.0 746.5 L302.3 741.7 L302.6 742.8 L303.0 741.6 L303.3 740.9 L303.7 743.5 L304.0 743.6 L304.3 740.6 L304.7 740.4 L305.0 741.2 L305.4 741.0 L305.7 741.3 L306.0 741.3 L306.4 741.1 L306.7 742.6 L307.1 741.2 L307.4 742.3 L307.7 741.3 L308.1 741.1 L308.4 742.0 L308.8 741.2 L309.1 740.8 L309.4 742.7 L309.8 740.6 L310.1 741.0 L310.5 741.3 L310.8 745.8 L311.1 743.3 L311.5 741.8 L311.8 744.4 L312.2 743.0 L312.5 743.6 L312.8 741.7 L313.2 741.3 L313.5 741.0 L313.9 740.9 L314.2 741.8 L314.5 742.1 L314.9 741.2 L315.2 742.4 L315.6 743.1 L315.9 741.7 L316.2 741.1 L316.6 740.9 L316.9 741.3 L317.3 742.3 L317.6 743.9 L317.9 743.5 L318.3 741.8 L318.6 741.8 L319.0 741.8 L319.3 744.5 L319.6 741.0 L320.0 741.6 L320.3 741.1 L320.7 745.2 L321.0 742.5 L321.3 743.3 L321.7 741.3 L322.0 741.1 L322.4 741.3 L322.7 742.9 L323.0 741.7 L323.4 742.2 L323.7 741.9 L324.1 741.3 L324.4 743.0 L324.7 742.2 L325.1 742.4 L325.4 741.5 L325.8 743.8 L326.1 745.7 L326.4 740.7 L326.8 742.2 L327.1 742.5 L327.5 741.9 L327.8 741.6 L328.1 741.3 L328.5 742.9 L328.8 740.9 L329.2 742.8 L329.5 741.2 L329.8 744.8 L330.2 741.4 L330.5 743.0 L330.9 741.5 L331.2 742.5 L331.5 741.6 L331.9 743.1 L332.2 742.2 L332.6 741.7 L332.9 741.3 L333.2 741.3 L333.6 744.3 L333.9 741.3 L334.3 741.1 L334.6 743.5 L334.9 741.9 L335.3 744.0 L335.6 741.8 L336.0 741.1 L336.3 742.2 L336.6 743.1 L337.0 743.0 L337.3 741.9 L337.7 740.8 L338.0 741.9 L338.3 741.6 L338.7 742.2 L339.0 742.5 L339.4 741.6 L339.7 742.5 L340.0 741.4 L340.4 742.1 L340.7 741.7 L341.1 742.2 L341.4 742.9 L341.7 742.0 L342.1 742.3 L342.4 742.1 L342.8 747.7 L343.1 742.5 L343.4 742.4 L343.8 743.5 L344.1 742.4 L344.5 741.2 L344.8 742.0 L345.1 741.9 L345.5 742.0 L345.8 746.9 L346.2 741.8 L346.5 744.8 L346.8 742.4 L347.2 741.5 L347.5 741.7 L347.9 741.7 L348.2 741.0 L348.5 742.4 L348.9 747.5 L349.2 741.8 L349.6 742.2 L349.9 743.2 L350.2 741.2 L350.6 741.7 L350.9 741.7 L351.3 742.0 L351.6 742.1 L351.9 741.0 L352.3 742.1 L352.6 741.9 L353.0 745.3 L353.3 743.0 L353.6 742.3 L354.0 742.8 L354.3 743.6 L354.7 746.0 L355.0 741.1 L355.3 741.5 L355.7 741.3 L356.0 741.7 L356.4 741.4 L356.7 741.9 L357.0 741.6 L357.4 742.7 L357.7 742.4 L358.1 742.4 L358.4 741.0 L358.7 741.4 L359.1 741.4 L359.4 742.1 L359.8 741.5 L360.1 742.1 L360.4 741.9 L360.8 741.5 L361.1 741.7 L361.5 741.2 L361.8 742.0 L362.1 741.5 L362.5 741.9 L362.8 741.5 L363.2 742.0 L363.5 741.5 L363.8 742.2 L364.2 741.8 L364.5 741.6 L364.9 742.0 L365.2 741.1 L365.5 741.3 L365.9 740.6 L366.2 741.0 L366.6 742.4 L366.9 741.4 L367.2 745.3 L367.6 742.3 L367.9 741.0 L368.3 750.5 L368.6 741.2 L368.9 741.9 L369.3 741.0 L369.6 741.7 L370.0 741.1 L370.3 745.4 L370.6 740.7 L371.0 745.7 L371.3 740.0 L371.7 740.6 L372.0 742.4 L372.3 741.1 L372.7 741.4 L373.0 740.6 L373.4 742.3 L373.7 740.6 L374.0 740.9 L374.4 739.9 L374.7 740.9 L375.1 740.8 L375.4 740.4 L375.7 742.2 L376.1 740.6 L376.4 740.0 L376.8 740.8 L377.1 742.6 L377.4 740.5 L377.8 739.7 L378.1 740.3 L378.5 739.3 L378.8 740.1 L379.1 739.9 L379.5 742.1 L379.8 741.5 L380.2 741.4 L380.5 740.7 L380.8 739.5 L381.2 739.7 L381.5 739.7 L381.9 739.6 L382.2 739.7 L382.5 740.0 L382.9 740.5 L383.2 739.5 L383.6 739.3 L383.9 741.1 L384.2 739.8 L384.6 740.1 L384.9 741.4 L385.3 738.9 L385.6 740.1 L385.9 739.5 L386.3 742.1 L386.6 739.3 L387.0 738.9 L387.3 738.5 L387.6 739.4 L388.0 739.3 L388.3 738.7 L388.7 738.5 L389.0 741.4 L389.3 743.5 L389.7 739.3 L390.0 739.2 L390.4 740.0 L390.7 738.1 L391.0 738.4 L391.4 738.3 L391.7 740.2 L392.1 741.0 L392.4 740.2 L392.7 738.5 L393.1 738.6 L393.4 737.8 L393.8 739.4 L394.1 738.8 L394.4 738.2 L394.8 737.7 L395.1 740.9 L395.5 737.8 L395.8 737.5 L396.1 736.2 L396.5 737.1 L396.8 738.0 L397.2 736.2 L397.5 738.3 L397.8 736.0 L398.2 737.6 L398.5 735.6 L398.9 735.9 L399.2 737.3 L399.5 735.5 L399.9 735.4 L400.2 736.0 L400.6 735.1 L400.9 734.7 L401.2 734.5 L401.6 734.8 L401.9 734.5 L402.3 733.5 L402.6 734.9 L402.9 733.0 L403.3 732.6 L403.6 733.5 L404.0 732.0 L404.3 732.1 L404.6 730.9 L405.0 732.2 L405.3 730.5 L405.7 730.7 L406.0 730.7 L406.3 729.7 L406.7 728.9 L407.0 729.6 L407.4 727.8 L407.7 728.7 L408.0 727.0 L408.4 726.5 L408.7 726.2 L409.1 725.7 L409.4 724.4 L409.7 723.2 L410.1 721.9 L410.4 721.4 L410.8 719.9 L411.1 718.9 L411.4 717.3 L411.8 716.8 L412.1 715.2 L412.5 713.3 L412.8 711.7 L413.1 709.4 L413.5 706.8 L413.8 702.9 L414.2 698.4 L414.5 692.9 L414.8 686.5 L415.2 679.2 L415.5 671.8 L415.9 665.1 L416.3 659.4 L416.5 662.4 L416.9 667.3 L417.2 673.8 L417.6 681.0 L417.9 687.8 L418.2 693.7 L418.6 698.9 L418.9 703.1 L419.3 707.5 L419.6 709.5 L419.9 711.7 L420.3 713.0 L420.6 714.3 L421.0 715.5 L421.3 717.3 L421.6 718.1 L422.0 719.4 L422.3 720.5 L422.7 721.7 L423.0 722.6 L423.3 723.9 L423.7 724.6 L424.0 726.2 L424.4 726.0 L424.7 726.8 L425.0 727.2 L425.4 728.4 L425.7 728.5 L426.1 729.1 L426.4 729.6 L426.7 730.1 L427.1 730.4 L427.4 732.0 L427.8 731.3 L428.1 731.1 L428.4 731.9 L428.8 732.4 L429.1 732.1 L429.5 732.8 L429.8 733.0 L430.1 733.1 L430.5 733.1 L430.8 733.8 L431.2 734.1 L431.5 734.3 L431.8 734.5 L432.2 734.6 L432.5 734.6 L432.9 735.6 L433.2 735.3 L433.5 735.7 L433.9 735.6 L434.2 735.3 L434.6 736.2 L434.9 736.9 L435.2 736.7 L435.6 736.7 L435.9 737.5 L436.3 737.1 L436.6 737.3 L436.9 737.0 L437.3 737.3 L437.6 737.6 L438.0 737.8 L438.3 738.0 L438.6 737.9 L439.0 737.5 L439.3 738.1 L439.7 737.9 L440.0 738.5 L440.3 738.3 L440.7 738.2 L441.0 738.3 L441.4 737.9 L441.7 738.3 L442.0 739.2 L442.4 738.9 L442.7 738.8 L443.1 738.6 L443.4 740.0 L443.7 738.8 L444.1 738.9 L444.4 738.6 L444.8 738.9 L445.1 739.0 L445.4 739.4 L445.8 739.1 L446.1 740.1 L446.5 738.8 L446.8 739.6 L447.1 739.3 L447.5 739.2 L447.8 738.9 L448.2 739.7 L448.5 740.0 L448.8 739.9 L449.2 739.9 L449.5 739.8 L449.9 740.2 L450.2 740.1 L450.5 740.2 L450.9 740.2 L451.2 740.3 L451.6 740.3 L451.9 740.8 L452.2 739.9 L452.6 740.7 L452.9 740.5 L453.3 740.7 L453.6 740.6 L453.9 740.3 L454.3 740.4 L454.6 740.2 L455.0 739.8 L455.3 741.0 L455.6 741.1 L456.0 740.3 L456.3 741.2 L456.7 740.9 L457.0 740.7 L457.3 741.0 L457.7 740.3 L458.0 741.2 L458.4 740.5 L458.7 741.0 L459.0 740.9 L459.4 741.5 L459.7 741.0 L460.1 741.4 L460.4 741.0 L460.7 740.8 L461.1 740.9 L461.4 741.2 L461.8 740.9 L462.1 741.6 L462.4 740.4 L462.8 741.8 L463.1 740.9 L463.5 742.5 L463.8 741.3 L464.1 740.7 L464.5 741.5 L464.8 741.4 L465.2 743.7 L465.5 740.9 L465.8 743.5 L466.2 740.7 L466.5 742.9 L466.9 744.9 L467.2 741.0 L467.5 742.3 L467.9 740.7 L468.2 740.9 L468.6 742.3 L468.9 742.5 L469.2 744.4 L469.6 742.2 L469.9 741.2 L470.3 743.7 L470.6 742.2 L470.9 741.0 L471.3 740.6 L471.6 746.1 L472.0 741.8 L472.3 744.5 L472.6 745.2 L473.0 750.6 L473.3 741.8 L473.7 745.3 L474.0 741.2 L474.3 743.2 L474.7 741.5 L475.0 741.6 L475.4 743.6 L475.7 744.0 L476.0 756.5 L476.4 742.9 L476.7 740.9 L477.1 743.9 L477.4 748.8 L477.7 746.9 L478.1 743.4 L478.4 748.2 L478.8 744.8 L479.1 750.9 L479.4 745.4 L479.8 741.8 L480.1 751.2 L480.5 742.4 L480.8 742.9 L481.1 745.0 L481.5 744.5 L481.8 743.3 L482.2 741.9 L482.5 741.5 L482.8 741.1 L483.2 747.2 L483.5 745.5 L483.9 742.3 L484.2 748.2 L484.5 742.3 L484.9 742.5 L485.2 747.0 L485.6 742.7 L485.9 743.9 L486.2 745.4 L486.6 745.1 L486.9 746.1 L487.3 743.8 L487.6 743.0 L487.9 742.3 L488.3 744.9 L488.6 740.8 L489.0 748.9 L489.3 744.2 L489.6 742.1 L490.0 742.6 L490.3 741.8 L490.7 741.8 L491.0 746.7 L491.3 742.4 L491.7 746.3 L492.0 744.6 L492.4 746.0 L492.7 742.2 L493.0 742.0 L493.4 741.8 L493.7 741.8 L494.1 743.0 L494.4 754.2 L494.7 742.1 L495.1 745.3 L495.4 743.3 L495.8 741.7 L496.1 742.7 L496.4 741.9 L496.8 742.3 L497.1 746.4 L497.5 744.9 L497.8 743.4 L498.1 743.7 L498.5 749.3 L498.8 744.0 L499.2 743.9 L499.5 742.6 L499.8 753.2 L500.2 743.5 L500.5 743.2 L500.9 744.3 L501.2 742.2 L501.5 741.7 L501.9 743.7 L502.2 748.6 L502.6 742.5 L502.9 743.4 L503.2 743.1 L503.6 746.0 L503.9 744.4 L504.3 742.2 L504.6 756.3 L504.9 744.7 L505.3 744.9 L505.6 746.9 L506.0 744.9 L506.3 745.2 L506.6 743.0 L507.0 748.0 L507.3 743.5 L507.7 742.4 L508.0 742.9 L508.3 749.1 L508.7 747.1 L509.0 742.0 L509.4 748.8 L509.7 749.2 L510.0 743.1 L510.4 742.5 L510.7 744.0 L511.1 744.7 L511.4 741.4 L511.7 755.3 L512.1 744.5 L512.4 743.5 L512.8 752.2 L513.1 747.9 L513.4 741.7 L513.8 743.4 L514.1 743.4 L514.5 747.0 L514.8 745.1 L515.1 745.2 L515.5 742.6 L515.8 741.8 L516.2 742.8 L516.5 742.3 L516.8 742.4 L517.2 744.8 L517.5 743.9 L517.9 745.7 L518.2 743.3 L518.5 742.5 L518.9 758.3 L519.2 745.1 L519.6 747.6 L519.9 742.2 L520.2 742.3 L520.6 744.3 L520.9 742.0 L521.3 742.0 L521.6 741.9 L521.9 743.1 L522.3 747.6 L522.6 746.1 L523.0 742.5 L523.3 744.3 L523.6 743.0 L524.0 741.4 L524.3 746.2 L524.7 744.1 L525.0 744.3 L525.3 745.8 L525.7 742.7 L526.0 741.5 L526.4 744.6 L526.7 742.4 L527.0 758.3 L527.4 741.9 L527.7 749.6 L528.1 742.1 L528.4 743.0 L528.7 742.4 L529.1 751.5 L529.4 745.4 L529.8 746.5 L530.1 741.6 L530.4 743.0 L530.8 742.0 L531.1 748.9 L531.5 742.7 L531.8 741.3 L532.1 748.0 L532.5 742.2 L532.8 746.0 L533.2 747.5 L533.5 742.8 L533.8 742.1 L534.2 746.8 L534.5 742.0 L534.9 741.2 L535.2 742.1 L535.5 745.1 L535.9 747.4 L536.2 747.4 L536.6 741.6 L536.9 742.6 L537.2 742.6 L537.6 742.7 L537.9 743.8 L538.3 742.6 L538.6 744.4 L538.9 742.3 L539.3 746.2 L539.6 741.8 L540.0 746.0 L540.3 746.9 L540.6 744.3 L541.0 760.6 L541.3 742.3 L541.7 742.3 L542.0 742.5 L542.3 749.2 L542.7 744.3 L543.0 742.9 L543.4 744.7 L543.7 745.6 L544.0 746.7 L544.4 747.7 L544.7 742.9 L545.1 743.9 L545.4 742.2 L545.7 756.3 L546.1 742.6 L546.4 743.4 L546.8 750.2 L547.1 744.4 L547.4 741.6 L547.8 743.5 L548.1 743.3 L548.5 741.8 L548.8 742.7 L549.1 746.9 L549.5 742.0 L549.8 745.8 L550.2 749.2 L550.5 745.0 L550.8 748.6 L551.2 742.8 L551.5 743.5 L551.9 753.2 L552.2 745.6 L552.5 748.3 L552.9 743.2 L553.2 743.9 L553.6 742.5 L553.9 744.9 L554.2 742.1 L554.6 742.4 L554.9 742.2 L555.3 742.7 L555.6 750.4 L555.9 746.9 L556.3 749.5 L556.6 744.0 L557.0 743.0 L557.3 743.7 L557.6 742.2 L558.0 746.6 L558.3 743.4 L558.7 752.0 L559.0 743.9 L559.3 743.0 L559.7 743.1 L560.0 745.4 L560.4 743.6 L560.7 745.8 L561.0 770.0 L561.4 744.1 L561.7 741.7 L562.1 742.3 L562.4 746.9 L562.7 741.7 L563.1 746.5 L563.4 742.5 L563.8 743.1 L564.1 757.3 L564.4 747.4 L564.8 752.9 L565.1 743.8 L565.5 742.3 L565.8 745.4 L566.1 745.4 L566.5 745.9 L566.8 742.3 L567.2 746.7 L567.5 745.1 L567.8 744.1 L568.2 742.8 L568.5 743.1 L568.9 742.4 L569.2 742.5 L569.5 742.2 L569.9 741.9 L570.2 747.5 L570.6 741.3 L570.9 741.7 L571.2 743.1 L571.6 745.4 L571.9 742.9 L572.3 751.2 L572.6 742.3 L572.9 744.0 L573.3 748.0 L573.6 745.5 L574.0 741.8 L574.3 742.4 L574.6 742.7 L575.0 743.1 L575.3 742.7 L575.7 747.7 L576.0 742.2 L576.3 744.1 L576.7 741.8 L577.0 743.6 L577.4 746.6 L577.7 742.3 L578.0 742.8 L578.4 743.3 L578.7 742.0 L579.1 744.2 L579.4 743.1 L579.7 742.7 L580.1 743.5 L580.4 744.1 L580.8 744.9 L581.1 743.5 L581.4 742.4 L581.8 746.7 L582.1 749.2 L582.5 757.3 L582.8 741.8 L583.1 742.6 L583.5 742.0 L583.8 743.1 L584.2 745.2 L584.5 747.6 L584.8 751.1 L585.2 742.3 L585.5 743.3 L585.9 742.7 L586.2 744.5 L586.5 752.4 L586.9 743.3 L587.2 742.5 L587.6 758.3 L587.9 746.2 L588.2 747.8 L588.6 746.4 L588.9 742.7 L589.3 741.7 L589.6 750.4 L589.9 742.6 L590.3 741.5 L590.6 743.3 L591.0 746.7 L591.3 743.5 L591.6 748.2 L592.0 748.9 L592.3 745.6 L592.7 746.8 L593.0 748.8 L593.3 743.2 L593.7 742.6 L594.0 744.1 L594.4 745.0 L594.7 742.7 L595.0 746.4 L595.4 744.3 L595.7 742.2 L596.1 742.6 L596.4 751.9 L596.7 755.3 L597.1 744.4 L597.4 747.9 L597.8 744.3 L598.1 741.7 L598.4 742.6 L598.8 747.6 L599.1 741.9 L599.5 743.7 L599.8 742.3 L600.1 743.8 L600.5 750.9 L600.8 758.3 L601.2 741.8 L601.5 744.1 L601.8 742.8 L602.2 742.6 L602.5 743.6 L602.9 749.2 L603.2 741.5 L603.5 743.7 L603.9 741.4 L604.2 742.0 L604.6 743.1 L604.9 754.2 L605.2 742.6 L605.6 743.1 L605.9 742.8 L606.3 741.8 L606.6 744.9 L606.9 746.4 L607.3 741.6 L607.6 744.1 L608.0 743.8 L608.3 741.8 L608.6 750.6 L609.0 744.4 L609.3 743.4 L609.7 742.1 L610.0 743.0 L610.3 742.5 L610.7 741.7 L611.0 744.9 L611.4 746.9 L611.7 742.3 L612.0 741.4 L612.4 741.9 L612.7 743.8 L613.1 744.9 L613.4 749.0 L613.7 746.5 L614.1 745.8 L614.4 743.7 L614.8 743.8 L615.1 753.2 L615.4 743.9 L615.8 741.7 L616.1 743.6 L616.5 742.0 L616.8 745.0 L617.1 742.5 L617.5 745.6 L617.8 741.7 L618.2 755.3 L618.5 745.1 L618.8 741.5 L619.2 741.8 L619.5 741.9 L619.9 745.1 L620.2 747.5 L620.5 741.1 L620.9 741.8 L621.2 748.9 L621.6 741.1 L621.9 744.8 L622.2 742.0 L622.6 740.7 L622.9 741.2 L623.3 743.4 L623.6 742.5 L623.9 743.6 L624.3 741.7 L624.6 741.9 L625.0 741.8 L625.3 741.6 L625.6 741.4 L626.0 741.7 L626.3 741.3 L626.7 741.2 L627.0 742.7 L627.3 741.1 L627.7 741.9 L628.0 741.0 L628.4 741.3 L628.7 741.0 L629.0 741.0 L629.4 740.4 L629.7 740.8 L630.1 740.1 L630.4 739.9 L630.7 740.1 L631.1 741.3 L631.4 741.9 L631.8 740.2 L632.1 739.6 L632.4 739.4 L632.8 740.4 L633.1 739.1 L633.5 738.8 L633.8 739.0 L634.1 738.6 L634.5 738.6 L634.8 739.4 L635.2 738.3 L635.5 738.8 L635.8 737.9 L636.2 738.4 L636.5 737.5 L636.9 737.9 L637.2 737.4 L637.5 737.2 L637.9 737.3 L638.2 737.2 L638.6 737.6 L638.9 736.3 L639.2 736.6 L639.6 736.1 L639.9 735.6 L640.3 736.1 L640.6 735.3 L640.9 735.1 L641.3 735.2 L641.6 734.6 L642.0 734.9 L642.3 734.5 L642.6 734.4 L643.0 734.6 L643.3 734.5 L643.7 734.7 L644.0 734.4 L644.3 734.3 L644.7 733.9 L645.0 733.4 L645.4 734.1 L645.7 733.5 L646.0 734.1 L646.4 732.9 L646.7 733.5 L647.1 733.0 L647.4 733.3 L647.7 733.8 L648.1 733.8 L648.4 733.3 L648.8 733.6 L649.1 733.8 L649.4 733.8 L649.8 733.6 L650.1 734.4 L650.5 734.4 L650.8 734.6 L651.1 734.6 L651.5 735.2 L651.8 735.3 L652.2 734.7 L652.5 734.5 L652.8 735.1 L653.2 735.0 L653.5 735.4 L653.9 736.7 L654.2 735.9 L654.5 735.6 L654.9 736.2 L655.2 736.4 L655.6 736.9 L655.9 737.9 L656.2 736.8 L656.6 738.0 L656.9 737.0 L657.3 736.8 L657.6 737.7 L657.9 737.0 L658.3 737.8 L658.6 738.1 L659.0 738.2 L659.3 738.6 L659.6 738.9 L660.0 739.9 L660.3 739.1 L660.7 739.1 L661.0 739.6 L661.3 740.1 L661.7 739.6 L662.0 739.5 L662.4 740.9 L662.7 739.8 L663.0 739.5 L663.4 740.4 L663.7 740.2 L664.1 740.1 L664.4 740.4 L664.7 740.4 L665.1 741.1 L665.4 740.7 L665.8 741.2 L666.1 741.1 L666.4 741.4 L666.8 743.3 L667.1 741.3 L667.5 741.4 L667.8 741.6 L668.1 740.3 L668.5 740.7 L668.8 742.3 L669.2 745.5 L669.5 747.1 L669.8 741.5 L670.2 745.5 L670.5 742.4 L670.9 744.8 L671.2 747.1 L671.5 744.7 L671.9 747.2 L672.2 741.6 L672.6 741.4 L672.9 743.3 L673.2 741.7 L673.6 743.3 L673.9 741.5 L674.3 741.3 L674.6 748.1 L674.9 744.7 L675.3 743.3 L675.6 743.2 L676.0 742.6 L676.3 747.7 L676.6 744.5 L677.0 746.3 L677.3 745.8 L677.7 743.1 L678.0 743.2 L678.3 746.2 L678.7 743.5 L679.0 747.3 L679.4 746.0 L679.7 742.4 L680.0 743.4 L680.4 742.2 L680.7 748.4 L681.1 742.8 L681.4 746.7 L681.7 741.9 L682.1 744.4 L682.4 745.0 L682.8 742.2 L683.1 745.7 L683.4 741.8 L683.8 744.6 L684.1 743.1 L684.5 746.8 L684.8 746.6 L685.1 744.1 L685.5 742.4 L685.8 747.6 L686.2 742.7 L686.5 743.2 L686.8 744.3 L687.2 744.2 L687.5 743.9 L687.9 742.6 L688.2 745.4 L688.5 742.0 L688.9 742.2 L689.2 745.7 L689.6 746.1 L689.9 744.3 L690.2 744.6 L690.6 745.8 L690.9 742.4 L691.3 742.2 L691.6 745.3 L691.9 745.9 L692.3 745.2 L692.6 747.9 L693.0 743.6 L693.3 741.9 L693.6 743.0 L694.0 754.7 L694.3 743.6 L694.7 741.9 L695.0 743.7 L695.3 746.0 L695.7 742.5 L696.0 745.5 L696.4 742.5 L696.7 745.0 L697.0 743.4 L697.4 742.2 L697.7 741.8 L698.1 742.9 L698.4 743.0 L698.7 742.7 L699.1 750.7 L699.4 746.6 L699.8 745.3 L700.1 745.8 L700.4 742.6 L700.8 745.1 L701.1 746.4 L701.5 744.3 L701.8 746.6 L702.1 741.8 L702.5 744.6 L702.8 742.4 L703.2 754.2 L703.5 746.3 L703.8 743.4 L704.2 743.1 L704.5 742.8 L704.9 750.9 L705.2 744.9 L705.5 768.6 L705.9 744.4 L706.2 744.1 L706.6 757.2 L706.9 744.9 L707.2 746.4 L707.6 741.9 L707.9 744.7 L708.3 751.9 L708.6 743.6 L708.9 748.6 L709.3 741.8 L709.6 753.2 L710.0 744.4 L710.3 761.0 L710.6 749.6 L711.0 756.7 L711.3 743.2 L711.7 742.4 L712.0 742.2 L712.3 742.0 L712.7 744.8 L713.0 746.9 L713.4 742.0 L713.7 749.7 L714.0 745.0 L714.4 744.8 L714.7 745.7 L715.1 743.5 L715.4 744.6 L715.7 742.5 L716.1 744.5 L716.4 745.0 L716.8 749.0 L717.1 748.7 L717.4 743.1 L717.8 744.2 L718.1 745.1 L718.5 746.8 L718.8 749.2 L719.1 741.8 L719.5 743.7 L719.8 744.7 L720.2 744.5 L720.5 744.6 L720.8 743.1 L721.2 742.9 L721.5 752.3 L721.9 756.3 L722.2 743.3 L722.5 744.1 L722.9 743.6 L723.2 745.6 L723.6 742.5 L723.9 743.5 L724.2 752.8 L724.6 743.3 L724.9 743.1 L725.3 745.1 L725.6 743.4 L725.9 746.0 L726.3 744.3 L726.6 743.4 L727.0 742.9 L727.3 742.9 L727.6 742.6 L728.0 746.0 L728.3 743.2 L728.7 747.5 L729.0 742.8 L729.3 742.4 L729.7 744.7 L730.0 742.4 L730.4 742.8 L730.7 744.6 L731.0 742.6 L731.4 744.7 L731.7 743.2 L732.1 744.7 L732.4 743.3 L732.7 742.9 L733.1 758.3 L733.4 742.5 L733.8 742.6 L734.1 748.9 L734.4 744.5 L734.8 743.2 L735.1 747.4 L735.5 742.8 L735.8 746.2 L736.1 748.5 L736.5 742.5 L736.8 744.9 L737.2 748.7 L737.5 742.8 L737.8 741.9 L738.2 745.6 L738.5 742.6 L738.9 742.7 L739.2 744.1 L739.5 743.3 L739.9 745.1 L740.2 748.3 L740.6 745.4 L740.9 761.0 L741.2 743.0 L741.6 742.3 L741.9 746.3 L742.3 751.8 L742.6 743.5 L742.9 743.9 L743.3 744.0 L743.6 742.2 L744.0 743.1 L744.3 749.7 L744.6 743.9 L745.0 742.0 L745.3 744.3 L745.7 745.1 L746.0 742.9 L746.3 753.2 L746.7 742.2 L747.0 748.3 L747.4 743.8 L747.7 745.5 L748.0 743.4 L748.4 745.2 L748.7 743.9 L749.1 742.0 L749.4 745.1 L749.7 744.3 L750.1 742.6 L750.4 742.4 L750.8 743.5 L751.1 745.0 L751.4 743.1 L751.8 743.5 L752.1 743.4 L752.5 743.6 L752.8 749.8 L753.1 741.9 L753.5 744.6 L753.8 749.9 L754.2 749.3 L754.5 743.4 L754.8 746.6 L755.2 752.6 L755.5 745.6 L755.9 745.7 L756.2 746.1 L756.5 759.4 L756.9 749.1 L757.2 747.9 L757.6 743.4 L757.9 742.0 L758.2 747.7 L758.6 753.7 L758.9 743.6 L759.3 743.5 L759.6 749.3 L759.9 743.7 L760.3 746.0 L760.6 752.6 L761.0 742.3 L761.3 742.5 L761.6 746.6 L762.0 742.2 L762.3 742.3 L762.7 748.7 L763.0 744.0 L763.3 752.6 L763.7 746.8 L764.0 743.1 L764.4 744.6 L764.7 746.3 L765.0 748.1 L765.4 745.9 L765.7 742.5 L766.1 742.8 L766.4 742.7 L766.7 757.3 L767.1 744.4 L767.4 743.4 L767.8 747.0 L768.1 746.1 L768.4 745.8 L768.8 742.6 L769.1 745.4 L769.5 745.8 L769.8 744.8 L770.1 742.7 L770.5 743.8 L770.8 750.7 L771.2 744.8 L771.5 742.4 L771.8 748.8 L772.2 745.5 L772.5 750.7 L772.9 743.6 L773.2 742.2 L773.5 742.9 L773.9 751.1 L774.2 742.7 L774.6 742.4 L774.9 744.4 L775.2 747.7 L775.6 747.2 L775.9 747.7 L776.3 744.7 L776.6 742.8 L776.9 744.2 L777.3 743.8 L777.6 744.5 L778.0 744.5 L778.3 751.1 L778.6 742.2 L779.0 754.2 L779.3 743.1 L779.7 743.6 L780.0 745.3 L780.3 742.0 L780.7 743.0 L781.0 747.1 L781.4 742.5 L781.7 743.0 L782.0 744.2 L782.4 744.8 L782.7 742.7 L783.1 742.9 L783.4 744.1 L783.7 750.3 L784.1 743.7 L784.4 745.6 L784.8 751.8 L785.1 746.8 L785.4 744.5 L785.8 744.3 L786.1 743.4 L786.5 743.6 L786.8 747.6 L787.1 752.2 L787.5 742.8 L787.8 744.6 L788.2 743.3 L788.5 750.6 L788.8 742.9 L789.2 746.6 L789.5 746.7 L789.9 748.1 L790.2 743.6 L790.5 742.9 L790.9 750.9 L791.2 749.4 L791.6 742.0 L791.9 743.2 L792.2 746.7 L792.6 741.8 L792.9 744.1 L793.3 745.8 L793.6 747.1 L793.9 743.7 L794.3 747.5 L794.6 743.7 L795.0 743.8 L795.3 748.0 L795.6 742.3 L796.0 752.8 L796.3 747.0 L796.7 744.7 L797.0 742.9 L797.3 754.2 L797.7 742.3 L798.0 748.9 L798.4 747.2 L798.7 743.1 L799.0 745.2 L799.4 747.8 L799.7 749.0 L800.1 744.9 L800.4 746.8 L800.7 744.2 L801.1 743.0 L801.4 742.6 L801.8 743.4 L802.1 742.9 L802.4 743.3 L802.8 750.6 L803.1 744.7 L803.5 742.5 L803.8 745.4 L804.1 743.8 L804.5 743.8 L804.8 743.8 L805.2 743.6 L805.5 743.8 L805.8 744.3 L806.2 747.6 L806.5 752.6 L806.9 744.0 L807.2 744.1 L807.5 757.3 L807.9 745.3 L808.2 744.5 L808.6 747.0 L808.9 744.0 L809.2 742.8 L809.6 743.9 L809.9 743.4 L810.3 743.6 L810.6 744.3 L810.9 745.3 L811.3 744.4 L811.6 742.6 L812.0 743.2 L812.3 742.2 L812.6 743.0 L813.0 746.1 L813.3 743.8 L813.7 743.9 L814.0 746.6 L814.3 744.1 L814.7 742.4 L815.0 742.8 L815.4 752.6 L815.7 743.7 L816.0 743.9 L816.4 749.1 L816.7 741.9 L817.1 743.2 L817.4 749.6 L817.7 754.2 L818.1 744.3 L818.4 743.6 L818.8 743.5 L819.1 743.2 L819.4 746.0 L819.8 745.7 L820.1 744.1 L820.5 745.4 L820.8 750.2 L821.1 750.2 L821.5 743.0 L821.8 742.9 L822.2 744.5 L822.5 744.7 L822.8 750.4 L823.2 743.8" fill="none" stroke="#0096ff" stroke-width="3.6" stroke-linejoin="round" stroke-linecap="round"/>
<line x1="124.6" y1="409.6" x2="821" y2="409.6" stroke="#000" stroke-width="2.7"/>
<path d="M124.6 23.6 H823.5 V798.4 H124.6 Z" fill="none" stroke="#000" stroke-width="2.7" stroke-linejoin="round"/>
<line x1="264.3" y1="798.4" x2="264.3" y2="787.8" stroke="#000" stroke-width="2.6"/>
<line x1="403.5" y1="798.4" x2="403.5" y2="787.8" stroke="#000" stroke-width="2.6"/>
<line x1="544.4" y1="798.4" x2="544.4" y2="787.8" stroke="#000" stroke-width="2.6"/>
<line x1="683.6" y1="798.4" x2="683.6" y2="787.8" stroke="#000" stroke-width="2.6"/>
<text transform="matrix(1 0 0 1.04 0 -3.004)" x="138.3" y="75.1" font-size="36.7" fill="#000" stroke="#000">CW, 25</text>
<circle cx="268.1" cy="54.7" r="5.5" fill="none" stroke="#000" stroke-width="3.0"/>
<text transform="matrix(1 0 0 1.04 0 -3.004)" x="277.9" y="75.1" font-size="36.7" fill="#000" stroke="#000">C</text>
<text transform="matrix(1 0 0 1.04 0 -5.568)" x="807.9" y="139.2" font-size="36.7" fill="#0d0d70" stroke="#0d0d70" text-anchor="end" >2 50 mA</text>
<text transform="matrix(1 0 0 1.04 0 -9.236)" x="807.9" y="230.9" font-size="36.7" fill="#0000ff" stroke="#0000ff" text-anchor="end" > 770 mA</text>
<text transform="matrix(1 0 0 1.04 0 -13.132)" x="808.0" y="328.3" font-size="36.7" fill="#0096ff" stroke="#0096ff" text-anchor="end" > 2 0 mA</text>
<text transform="matrix(1 0 0 1.04 0 -18.240)" x="138.9" y="456.0" font-size="36.7" fill="#000" stroke="#000" text-anchor="start" >CW,  2 0 mA</text>
<text transform="matrix(1 0 0 1.04 0 -18.276)" x="520.2" y="456.9" font-size="36.7" fill="#000" stroke="#000" text-anchor="start" >B</text>
<text transform="matrix(1 0 0 1.04 0 -20.840)" x="300.8" y="521.0" font-size="36.7" fill="#000" stroke="#000" text-anchor="start" >D</text>
<text transform="matrix(1 0 0 1.04 0 -20.832)" x="347.0" y="520.8" font-size="36.7" fill="#000" stroke="#000" text-anchor="start" >C</text>
<text transform="matrix(1 0 0 1.04 0 -21.116)" x="763.7" y="527.9" font-size="36.7" fill="#000" stroke="#000" text-anchor="start" >A</text>
<text transform="matrix(1 0 0 1.04 0 -21.512)" x="139.1" y="537.8" font-size="36.7" fill="#c00000" stroke="#c00000">60</text>
<circle cx="188.7" cy="517.1" r="5.5" fill="none" stroke="#c00000" stroke-width="3.0"/>
<text transform="matrix(1 0 0 1.04 0 -21.512)" x="196.8" y="537.8" font-size="36.7" fill="#c00000" stroke="#c00000">C</text>
<text transform="matrix(1 0 0 1.04 0 -25.100)" x="139.2" y="627.5" font-size="36.7" fill="#008000" stroke="#008000">40</text>
<circle cx="188.7" cy="606.7" r="5.5" fill="none" stroke="#008000" stroke-width="3.0"/>
<text transform="matrix(1 0 0 1.04 0 -25.100)" x="196.7" y="627.5" font-size="36.7" fill="#008000" stroke="#008000">C</text>
<text transform="matrix(1 0 0 1.04 0 -28.708)" x="139.1" y="717.7" font-size="36.7" fill="#0096ff" stroke="#0096ff">25</text>
<circle cx="188.7" cy="697.0" r="5.5" fill="none" stroke="#0096ff" stroke-width="3.0"/>
<text transform="matrix(1 0 0 1.04 0 -28.708)" x="196.8" y="717.7" font-size="36.7" fill="#0096ff" stroke="#0096ff">C</text>
<text transform="translate(85.6 438.1) rotate(-90) scale(1 1.04)" font-size="36.9" fill="#000" stroke="#000" text-anchor="middle">Relative optical power (50dB/div.)</text>
<text transform="matrix(1 0 0 1.04 0 -34.192)" x="123.9" y="854.8" font-size="36.7" fill="#000" stroke="#000" text-anchor="middle" > 535</text>
<text transform="matrix(1 0 0 1.04 0 -34.192)" x="263.7" y="854.8" font-size="36.7" fill="#000" stroke="#000" text-anchor="middle" > 540</text>
<text transform="matrix(1 0 0 1.04 0 -34.192)" x="403.5" y="854.8" font-size="36.7" fill="#000" stroke="#000" text-anchor="middle" > 545</text>
<text transform="matrix(1 0 0 1.04 0 -34.192)" x="543.2" y="854.8" font-size="36.7" fill="#000" stroke="#000" text-anchor="middle" > 550</text>
<text transform="matrix(1 0 0 1.04 0 -34.192)" x="683.0" y="854.8" font-size="36.7" fill="#000" stroke="#000" text-anchor="middle" > 555</text>
<text transform="matrix(1 0 0 1.04 0 -34.192)" x="822.8" y="854.8" font-size="36.7" fill="#000" stroke="#000" text-anchor="middle" > 560</text>
<text transform="matrix(1 0 0 1.04 0 -36.284)" x="474.5" y="907.1" font-size="37" fill="#000" stroke="#000" text-anchor="middle" >Wavelength (nm)</text>
<text transform="matrix(1 0 0 1.04 0 -0.968)" x="-0.5" y="24.2" font-size="33" fill="#000" stroke="#000" text-anchor="start" >(a)</text>
<text transform="matrix(1 0 0 1.04 0 -37.284)" x="-0.5" y="932.1" font-size="33" fill="#000" stroke="#000" text-anchor="start" >(b)</text>
<path d="M188.5 1286.4 L189.5 1286.7 L190.5 1286.6 L191.5 1286.5 L192.5 1286.8 L193.5 1286.7 L194.5 1287.3 L195.5 1288.0 L196.5 1287.1 L197.5 1286.6 L198.5 1286.7 L199.5 1286.3 L200.5 1285.7 L201.5 1285.2 L202.5 1285.8 L203.5 1286.3 L204.5 1285.6 L205.5 1286.2 L206.5 1285.7 L207.5 1286.2 L208.5 1286.2 L209.5 1286.7 L210.5 1286.0 L211.5 1286.5 L212.5 1286.3 L213.5 1285.9 L214.5 1284.7 L215.5 1285.4 L216.5 1285.6 L217.5 1285.9 L218.5 1285.4 L219.5 1286.1 L220.5 1286.1 L221.5 1286.4 L222.5 1287.5 L223.5 1286.9 L224.5 1287.4 L225.5 1287.4 L226.5 1286.2 L227.5 1285.8 L228.5 1285.3 L229.5 1284.7 L230.5 1284.0 L231.5 1284.7 L232.5 1285.3 L233.5 1284.1 L234.5 1285.3 L235.5 1285.0 L236.5 1284.5 L237.5 1285.3 L238.5 1284.4 L239.5 1283.1 L240.5 1283.3 L241.5 1283.2 L242.5 1282.5 L243.5 1282.5 L244.5 1281.8 L245.5 1281.7 L246.5 1281.8 L247.5 1280.6 L248.5 1280.7 L249.5 1280.2 L250.5 1280.2 L251.5 1279.7 L252.5 1280.3 L253.5 1280.8 L254.5 1281.7 L255.5 1282.2 L256.5 1281.5 L257.5 1282.1 L258.5 1283.1 L259.5 1282.3 L260.5 1283.4 L261.5 1283.3 L262.5 1283.0 L263.5 1281.8 L264.5 1280.5 L265.5 1279.5 L266.5 1278.7 L267.5 1278.6 L268.5 1276.8 L269.5 1276.8 L270.5 1277.0 L271.5 1276.6 L272.5 1276.5 L273.5 1276.0 L274.5 1276.4 L275.5 1276.1 L276.5 1276.9 L277.5 1276.8 L278.5 1276.7 L279.5 1277.2 L280.5 1276.9 L281.5 1277.7 L282.5 1277.4 L283.5 1277.8 L284.5 1277.2 L285.5 1278.1 L286.5 1276.9 L287.5 1276.2 L288.5 1276.4 L289.5 1275.5 L290.5 1275.4 L291.5 1276.1 L292.5 1274.9 L293.5 1275.1 L294.5 1275.7 L295.5 1275.9 L296.5 1275.8 L297.5 1275.9 L298.5 1276.5 L299.5 1276.6 L300.5 1276.1 L301.5 1276.6 L302.5 1276.9 L303.5 1276.5 L304.5 1276.5 L305.5 1275.3 L306.5 1275.5 L307.5 1274.5 L308.5 1273.8 L309.5 1272.9 L310.5 1273.1 L311.5 1272.5 L312.5 1273.2 L313.5 1274.1 L314.5 1273.2 L315.5 1274.8 L316.5 1273.3 L317.5 1273.6 L318.5 1272.1 L319.5 1272.1 L320.5 1271.0 L321.5 1269.4 L322.5 1270.1 L323.5 1270.1 L324.5 1269.5 L325.5 1269.4 L326.5 1269.4 L327.5 1269.1 L328.5 1270.0 L329.5 1269.3 L330.5 1269.5 L331.5 1269.4 L332.5 1270.1 L333.5 1270.4 L334.5 1272.2 L335.5 1271.2 L336.5 1271.0 L337.5 1269.8 L338.5 1268.8 L339.5 1268.3 L340.5 1267.8 L341.5 1267.7 L342.5 1267.2 L343.5 1266.9 L344.5 1266.1 L345.5 1266.0 L346.5 1266.7 L347.5 1264.9 L348.5 1264.1 L349.5 1264.1 L350.5 1264.2 L351.5 1262.6 L352.5 1262.9 L353.5 1262.4 L354.5 1261.6 L355.5 1262.4 L356.5 1261.8 L357.5 1261.6 L358.5 1260.9 L359.5 1260.7 L360.5 1259.5 L361.5 1258.9 L362.5 1257.7 L363.5 1256.8 L364.5 1257.2 L365.5 1255.6 L366.5 1255.2 L367.5 1254.5 L368.5 1254.3 L369.5 1254.3 L370.5 1254.8 L371.5 1254.4 L372.5 1254.4 L373.5 1254.1 L374.5 1254.3 L375.5 1253.8 L376.5 1253.3 L377.5 1252.6 L378.5 1251.9 L379.5 1251.9 L380.5 1250.9 L381.5 1249.4 L382.5 1248.7 L383.5 1247.9 L384.5 1246.9 L385.5 1245.9 L386.5 1245.0 L387.5 1246.3 L388.5 1245.4 L389.5 1246.8 L390.5 1247.0 L391.5 1247.1 L392.5 1246.9 L393.5 1246.1 L394.5 1244.2 L395.5 1243.4 L396.5 1243.8 L397.5 1242.4 L398.5 1242.3 L399.5 1242.1 L400.5 1240.5 L401.5 1239.7 L402.5 1240.2 L403.5 1239.6 L404.5 1238.9 L405.5 1238.0 L406.5 1236.1 L407.5 1234.3 L408.5 1233.4 L409.5 1231.6 L410.5 1229.8 L411.5 1229.2 L412.5 1227.5 L413.5 1226.2 L414.5 1224.1 L415.5 1223.2 L416.5 1222.6 L417.5 1222.2 L418.5 1222.2 L419.5 1220.5 L420.5 1219.5 L421.5 1218.0 L422.5 1217.2 L423.5 1214.2 L424.5 1213.7 L425.5 1211.7 L426.5 1210.3 L427.5 1208.1 L428.5 1206.9 L429.5 1205.8 L430.5 1203.8 L431.5 1202.3 L432.5 1200.5 L433.5 1199.5 L434.5 1197.4 L435.5 1194.8 L436.5 1193.8 L437.5 1191.6 L438.5 1188.8 L439.5 1187.8 L440.5 1186.4 L441.5 1183.5 L442.5 1180.7 L443.5 1178.6 L444.5 1177.3 L445.5 1174.6 L446.5 1172.3 L447.5 1170.0 L448.5 1168.0 L449.5 1166.4 L450.5 1164.2 L451.5 1162.1 L452.5 1159.5 L453.5 1158.2 L454.5 1154.9 L455.5 1152.7 L456.5 1148.7 L457.5 1146.2 L458.5 1143.2 L459.5 1136.7 L460.5 1131.0 L461.5 1122.9 L462.5 1111.0 L463.5 1100.6 L464.5 1090.9 L465.5 1080.6 L466.5 1074.3 L467.5 1070.8 L468.5 1067.5 L469.5 1063.7 L470.5 1060.0 L471.5 1055.0 L472.5 1050.0 L473.5 1045.5 L474.5 1041.5 L475.5 1037.5 L476.5 1027.5 L477.5 1017.5 L478.5 1008.9 L479.5 1001.9 L480.5 999.7 L481.5 997.4 L482.5 997.5 L483.5 1000.0 L484.5 1002.5 L485.5 1008.5 L486.5 1014.5 L487.5 1024.6 L488.5 1038.9 L489.5 1047.8 L490.5 1054.8 L491.5 1060.9 L492.5 1064.6 L493.5 1068.2 L494.5 1072.1 L495.5 1075.6 L496.5 1079.1 L497.5 1082.4 L498.5 1086.6 L499.5 1093.8 L500.5 1101.1 L501.5 1109.0 L502.5 1116.9 L503.5 1126.0 L504.5 1134.3 L505.5 1142.4 L506.5 1149.6 L507.5 1154.7 L508.5 1158.3 L509.5 1163.3 L510.5 1166.3 L511.5 1168.0 L512.5 1170.4 L513.5 1173.3 L514.5 1175.5 L515.5 1177.4 L516.5 1180.1 L517.5 1182.4 L518.5 1183.1 L519.5 1184.8 L520.5 1186.1 L521.5 1188.5 L522.5 1189.4 L523.5 1190.5 L524.5 1192.6 L525.5 1192.6 L526.5 1194.5 L527.5 1195.7 L528.5 1196.1 L529.5 1197.2 L530.5 1199.3 L531.5 1200.2 L532.5 1201.8 L533.5 1203.3 L534.5 1205.8 L535.5 1208.2 L536.5 1209.8 L537.5 1210.8 L538.5 1211.7 L539.5 1212.7 L540.5 1213.9 L541.5 1214.5 L542.5 1215.5 L543.5 1216.4 L544.5 1216.9 L545.5 1217.9 L546.5 1218.9 L547.5 1219.6 L548.5 1220.8 L549.5 1222.3 L550.5 1222.6 L551.5 1223.2 L552.5 1223.3 L553.5 1225.1 L554.5 1224.9 L555.5 1226.0 L556.5 1227.8 L557.5 1228.4 L558.5 1228.8 L559.5 1228.9 L560.5 1230.5 L561.5 1231.7 L562.5 1233.6 L563.5 1235.7 L564.5 1236.1 L565.5 1237.0 L566.5 1238.1 L567.5 1240.0 L568.5 1240.2 L569.5 1240.0 L570.5 1240.8 L571.5 1240.5 L572.5 1241.8 L573.5 1242.0 L574.5 1242.2 L575.5 1241.8 L576.5 1242.5 L577.5 1242.4 L578.5 1243.1 L579.5 1243.8 L580.5 1244.2 L581.5 1244.9 L582.5 1246.6 L583.5 1246.9 L584.5 1247.8 L585.5 1249.0 L586.5 1248.5 L587.5 1249.6 L588.5 1250.7 L589.5 1251.4 L590.5 1251.7 L591.5 1252.9 L592.5 1253.1 L593.5 1253.1 L594.5 1253.8 L595.5 1255.2 L596.5 1255.7 L597.5 1255.2 L598.5 1257.3 L599.5 1257.6 L600.5 1258.0 L601.5 1257.3 L602.5 1257.4 L603.5 1257.2 L604.5 1258.9 L605.5 1258.0 L606.5 1259.4 L607.5 1259.0 L608.5 1259.9 L609.5 1259.7 L610.5 1260.8 L611.5 1262.0 L612.5 1261.6 L613.5 1263.2 L614.5 1263.5 L615.5 1263.5 L616.5 1264.4 L617.5 1265.1 L618.5 1265.9 L619.5 1266.4 L620.5 1266.9 L621.5 1267.8 L622.5 1268.1 L623.5 1268.3 L624.5 1269.0 L625.5 1269.7 L626.5 1268.8 L627.5 1269.7 L628.5 1269.6 L629.5 1269.6 L630.5 1270.7 L631.5 1270.2 L632.5 1271.4 L633.5 1270.5 L634.5 1271.2 L635.5 1271.1 L636.5 1271.0 L637.5 1271.7 L638.5 1271.5 L639.5 1272.0 L640.5 1271.9 L641.5 1271.6 L642.5 1272.2 L643.5 1272.5 L644.5 1273.4 L645.5 1273.0 L646.5 1273.9 L647.5 1273.7 L648.5 1275.2 L649.5 1275.0 L650.5 1275.1 L651.5 1276.4 L652.5 1277.2 L653.5 1276.2 L654.5 1276.7 L655.5 1277.1 L656.5 1277.2 L657.5 1278.1 L658.5 1277.8 L659.5 1278.1 L660.5 1278.9 L661.5 1278.6 L662.5 1279.3 L663.5 1278.8 L664.5 1278.9 L665.5 1278.7 L666.5 1280.5 L667.5 1279.7 L668.5 1280.1 L669.5 1280.1 L670.5 1280.3 L671.5 1280.4 L672.5 1281.4 L673.5 1280.4 L674.5 1280.4 L675.5 1280.9 L676.5 1281.0 L677.5 1282.1 L678.5 1282.1 L679.5 1281.2 L680.5 1280.9 L681.5 1281.3 L682.5 1282.0 L683.5 1280.1 L684.5 1281.5 L685.5 1280.7 L686.5 1281.6 L687.5 1280.6 L688.5 1280.9 L689.5 1280.5 L690.5 1280.9 L691.5 1282.1 L692.5 1281.9 L693.5 1281.5 L694.5 1281.5 L695.5 1281.1 L696.5 1281.9 L697.5 1282.2 L698.5 1282.4 L699.5 1282.5 L700.5 1282.2 L701.5 1282.8 L702.5 1282.9 L703.5 1283.6 L704.5 1284.0 L705.5 1283.2 L706.5 1283.0 L707.5 1283.5 L708.5 1283.3 L709.5 1283.3 L710.5 1283.7 L711.5 1283.4 L712.5 1284.2 L713.5 1284.0 L714.5 1284.3 L715.5 1284.2 L716.5 1284.0 L717.5 1284.0 L718.5 1284.4 L719.5 1284.4 L720.5 1284.8 L721.5 1284.8 L722.5 1284.3 L723.5 1285.0 L724.5 1284.4 L725.5 1284.8 L726.5 1285.1 L727.5 1284.4 L728.5 1285.4 L729.5 1285.5 L730.5 1285.5 L731.5 1285.5 L732.5 1285.6 L733.5 1285.4 L734.5 1285.8 L735.5 1285.9 L736.5 1286.4 L737.5 1286.1 L738.5 1286.9 L739.5 1287.1 L740.5 1287.2 L741.5 1287.3 L742.5 1288.0 L743.5 1287.1 L744.5 1288.0 L745.5 1287.9 L746.5 1287.9 L747.5 1288.0 L748.5 1287.5 L749.5 1287.7 L750.5 1288.1 L751.5 1288.0 L752.5 1287.9 L753.5 1287.1 L754.5 1288.0 L755.5 1288.3 L756.5 1288.3 L757.5 1287.9 L758.5 1287.1 L759.5 1288.2 L760.5 1287.8 L761.5 1286.7 L762.5 1288.1 L763.5 1287.3 L764.5 1287.4 L765.5 1287.7 L766.5 1288.6 L767.5 1287.9 L768.5 1288.3 L769.5 1289.0 L770.5 1288.9 L771.5 1288.2 L772.5 1288.2 L773.5 1287.8 L774.5 1288.1 L775.5 1288.6 L776.5 1288.6 L777.5 1288.5 L778.5 1289.0 L779.5 1288.2 L780.5 1288.6 L781.5 1289.0 L782.5 1289.0 L783.5 1289.4 L784.5 1289.2 L785.5 1289.0 L786.5 1289.4 L787.5 1288.9 L788.5 1288.7 L789.5 1289.9 L790.5 1289.7 L791.5 1290.0 L792.5 1289.2 L793.5 1289.9 L794.5 1289.9 L795.5 1289.9 L796.5 1289.4 L797.5 1290.3 L798.5 1290.9 L799.5 1290.7 L800.5 1290.2 L801.5 1290.5 L802.5 1290.8 L803.5 1289.3 L804.5 1290.4 L805.5 1290.7 L806.5 1290.8 L807.5 1291.3 L808.5 1291.0 L809.5 1290.6 L810.5 1290.6 L811.5 1290.9 L812.5 1290.3 L813.5 1290.5 L814.5 1290.8 L815.5 1291.2 L816.5 1290.2 L817.5 1290.1 L818.5 1290.2 L819.5 1290.6 L820.5 1289.9 L821.5 1290.5 L822.5 1289.3 L823.5 1289.5" fill="none" stroke="#0000ff" stroke-width="3.8" stroke-linejoin="round" stroke-linecap="round"/>
<path d="M187.5 971.45 H824.5 V1311.45 H187.5 Z" fill="none" stroke="#000" stroke-width="2.7" stroke-linejoin="round"/>
<line x1="187.5" y1="1039.45" x2="199.9" y2="1039.45" stroke="#000" stroke-width="2.5"/>
<line x1="187.5" y1="1107.45" x2="199.9" y2="1107.45" stroke="#000" stroke-width="2.5"/>
<line x1="187.5" y1="1175.45" x2="199.9" y2="1175.45" stroke="#000" stroke-width="2.5"/>
<line x1="187.5" y1="1243.45" x2="199.9" y2="1243.45" stroke="#000" stroke-width="2.5"/>
<line x1="346.8" y1="1311.45" x2="346.8" y2="1300.8500000000001" stroke="#000" stroke-width="2.6"/>
<line x1="506.0" y1="1311.45" x2="506.0" y2="1300.8500000000001" stroke="#000" stroke-width="2.6"/>
<line x1="665.2" y1="1311.45" x2="665.2" y2="1300.8500000000001" stroke="#000" stroke-width="2.6"/>
<text transform="matrix(1 0 0 1.04 0 -39.350)" x="155.7" y="983.8" font-size="36.7" fill="#000" stroke="#000" text-anchor="end" > 0</text>
<text transform="matrix(1 0 0 1.04 0 -42.070)" x="155.7" y="1051.8" font-size="36.7" fill="#000" stroke="#000" text-anchor="end" >- 0</text>
<text transform="matrix(1 0 0 1.04 0 -44.790)" x="155.7" y="1119.8" font-size="36.7" fill="#000" stroke="#000" text-anchor="end" >-30</text>
<text transform="matrix(1 0 0 1.04 0 -47.510)" x="155.7" y="1187.8" font-size="36.7" fill="#000" stroke="#000" text-anchor="end" >-50</text>
<text transform="matrix(1 0 0 1.04 0 -50.230)" x="155.7" y="1255.8" font-size="36.7" fill="#000" stroke="#000" text-anchor="end" >-70</text>
<text transform="matrix(1 0 0 1.04 0 -52.950)" x="155.7" y="1323.8" font-size="36.7" fill="#000" stroke="#000" text-anchor="end" >-90</text>
<text transform="matrix(1 0 0 1.04 0 -54.732)" x="186.9" y="1368.3" font-size="36.7" fill="#000" stroke="#000" text-anchor="middle" > 545.5</text>
<text transform="matrix(1 0 0 1.04 0 -54.732)" x="346.1" y="1368.3" font-size="36.7" fill="#000" stroke="#000" text-anchor="middle" > 546</text>
<text transform="matrix(1 0 0 1.04 0 -54.732)" x="505.4" y="1368.3" font-size="36.7" fill="#000" stroke="#000" text-anchor="middle" > 546.5</text>
<text transform="matrix(1 0 0 1.04 0 -54.732)" x="664.6" y="1368.3" font-size="36.7" fill="#000" stroke="#000" text-anchor="middle" > 547</text>
<text transform="matrix(1 0 0 1.04 0 -54.732)" x="823.9" y="1368.3" font-size="36.7" fill="#000" stroke="#000" text-anchor="middle" > 547.5</text>
<text transform="matrix(1 0 0 1.04 0 -40.712)" x="209.0" y="1017.8" font-size="36.7" fill="#000" stroke="#000" text-anchor="start" >CW</text>
<text transform="matrix(1 0 0 1.04 0 -41.384)" x="632.2" y="1034.6" font-size="36.7" fill="#3a3af0" stroke="#3a3af0">25</text>
<circle cx="680.7" cy="1014.3" r="5.5" fill="none" stroke="#3a3af0" stroke-width="3.0"/>
<text transform="matrix(1 0 0 1.04 0 -41.384)" x="689.4" y="1034.6" font-size="36.7" fill="#3a3af0" stroke="#3a3af0">C</text>
<text transform="matrix(1 0 0 1.04 0 -43.184)" x="631.0" y="1079.6" font-size="36.7" fill="#3a3af0" stroke="#3a3af0" text-anchor="start" > 770 mA</text>
<text transform="translate(86.8 1141.3) rotate(-90) scale(1 1.04)" font-size="37.3" fill="#000" stroke="#000" text-anchor="middle">Intensity (dB)</text>
<text transform="matrix(1 0 0 1.04 0 -56.780)" x="505.4" y="1419.5" font-size="37.1" fill="#000" stroke="#000" text-anchor="middle" >Wavelength (nm)</text>
<path transform="matrix(0.01792 0 0 -0.01792 681.42 139.20)" d="M763 0L583 0L583 1147Q518 1085 415 1024.5Q312 964 223 931L223 1105Q373 1176 486 1277Q599 1378 643 1466L763 1466Z" fill="#0d0d70" stroke="#0d0d70" stroke-width="25.1"/>
<path transform="matrix(0.01792 0 0 -0.01792 661.02 230.90)" d="M763 0L583 0L583 1147Q518 1085 415 1024.5Q312 964 223 931L223 1105Q373 1176 486 1277Q599 1378 643 1466L763 1466Z" fill="#0000ff" stroke="#0000ff" stroke-width="25.1"/>
<path transform="matrix(0.01792 0 0 -0.01792 661.12 328.30)" d="M763 0L583 0L583 1147Q518 1085 415 1024.5Q312 964 223 931L223 1105Q373 1176 486 1277Q599 1378 643 1466L763 1466Z" fill="#0096ff" stroke="#0096ff" stroke-width="25.1"/>
<path transform="matrix(0.01792 0 0 -0.01792 701.94 328.30)" d="M763 0L583 0L583 1147Q518 1085 415 1024.5Q312 964 223 931L223 1105Q373 1176 486 1277Q599 1378 643 1466L763 1466Z" fill="#0096ff" stroke="#0096ff" stroke-width="25.1"/>
<path transform="matrix(0.01792 0 0 -0.01792 218.39 456.00)" d="M763 0L583 0L583 1147Q518 1085 415 1024.5Q312 964 223 931L223 1105Q373 1176 486 1277Q599 1378 643 1466L763 1466Z" fill="#000" stroke="#000" stroke-width="25.1"/>
<path transform="matrix(0.01792 0 0 -0.01792 259.22 456.00)" d="M763 0L583 0L583 1147Q518 1085 415 1024.5Q312 964 223 931L223 1105Q373 1176 486 1277Q599 1378 643 1466L763 1466Z" fill="#000" stroke="#000" stroke-width="25.1"/>
<path transform="matrix(0.01792 0 0 -0.01792 83.08 854.80)" d="M763 0L583 0L583 1147Q518 1085 415 1024.5Q312 964 223 931L223 1105Q373 1176 486 1277Q599 1378 643 1466L763 1466Z" fill="#000" stroke="#000" stroke-width="25.1"/>
<path transform="matrix(0.01792 0 0 -0.01792 222.88 854.80)" d="M763 0L583 0L583 1147Q518 1085 415 1024.5Q312 964 223 931L223 1105Q373 1176 486 1277Q599 1378 643 1466L763 1466Z" fill="#000" stroke="#000" stroke-width="25.1"/>
<path transform="matrix(0.01792 0 0 -0.01792 362.68 854.80)" d="M763 0L583 0L583 1147Q518 1085 415 1024.5Q312 964 223 931L223 1105Q373 1176 486 1277Q599 1378 643 1466L763 1466Z" fill="#000" stroke="#000" stroke-width="25.1"/>
<path transform="matrix(0.01792 0 0 -0.01792 502.38 854.80)" d="M763 0L583 0L583 1147Q518 1085 415 1024.5Q312 964 223 931L223 1105Q373 1176 486 1277Q599 1378 643 1466L763 1466Z" fill="#000" stroke="#000" stroke-width="25.1"/>
<path transform="matrix(0.01792 0 0 -0.01792 642.18 854.80)" d="M763 0L583 0L583 1147Q518 1085 415 1024.5Q312 964 223 931L223 1105Q373 1176 486 1277Q599 1378 643 1466L763 1466Z" fill="#000" stroke="#000" stroke-width="25.1"/>
<path transform="matrix(0.01792 0 0 -0.01792 781.98 854.80)" d="M763 0L583 0L583 1147Q518 1085 415 1024.5Q312 964 223 931L223 1105Q373 1176 486 1277Q599 1378 643 1466L763 1466Z" fill="#000" stroke="#000" stroke-width="25.1"/>
<path transform="matrix(0.01792 0 0 -0.01792 114.87 983.75)" d="M763 0L583 0L583 1147Q518 1085 415 1024.5Q312 964 223 931L223 1105Q373 1176 486 1277Q599 1378 643 1466L763 1466Z" fill="#000" stroke="#000" stroke-width="25.1"/>
<path transform="matrix(0.01792 0 0 -0.01792 114.87 1051.75)" d="M763 0L583 0L583 1147Q518 1085 415 1024.5Q312 964 223 931L223 1105Q373 1176 486 1277Q599 1378 643 1466L763 1466Z" fill="#000" stroke="#000" stroke-width="25.1"/>
<path transform="matrix(0.01792 0 0 -0.01792 130.78 1368.30)" d="M763 0L583 0L583 1147Q518 1085 415 1024.5Q312 964 223 931L223 1105Q373 1176 486 1277Q599 1378 643 1466L763 1466Z" fill="#000" stroke="#000" stroke-width="25.1"/>
<path transform="matrix(0.01792 0 0 -0.01792 305.28 1368.30)" d="M763 0L583 0L583 1147Q518 1085 415 1024.5Q312 964 223 931L223 1105Q373 1176 486 1277Q599 1378 643 1466L763 1466Z" fill="#000" stroke="#000" stroke-width="25.1"/>
<path transform="matrix(0.01792 0 0 -0.01792 449.28 1368.30)" d="M763 0L583 0L583 1147Q518 1085 415 1024.5Q312 964 223 931L223 1105Q373 1176 486 1277Q599 1378 643 1466L763 1466Z" fill="#000" stroke="#000" stroke-width="25.1"/>
<path transform="matrix(0.01792 0 0 -0.01792 623.78 1368.30)" d="M763 0L583 0L583 1147Q518 1085 415 1024.5Q312 964 223 931L223 1105Q373 1176 486 1277Q599 1378 643 1466L763 1466Z" fill="#000" stroke="#000" stroke-width="25.1"/>
<path transform="matrix(0.01792 0 0 -0.01792 767.78 1368.30)" d="M763 0L583 0L583 1147Q518 1085 415 1024.5Q312 964 223 931L223 1105Q373 1176 486 1277Q599 1378 643 1466L763 1466Z" fill="#000" stroke="#000" stroke-width="25.1"/>
<path transform="matrix(0.01792 0 0 -0.01792 631.00 1079.60)" d="M763 0L583 0L583 1147Q518 1085 415 1024.5Q312 964 223 931L223 1105Q373 1176 486 1277Q599 1378 643 1466L763 1466Z" fill="#3a3af0" stroke="#3a3af0" stroke-width="25.1"/>
</svg>
</body></html>
